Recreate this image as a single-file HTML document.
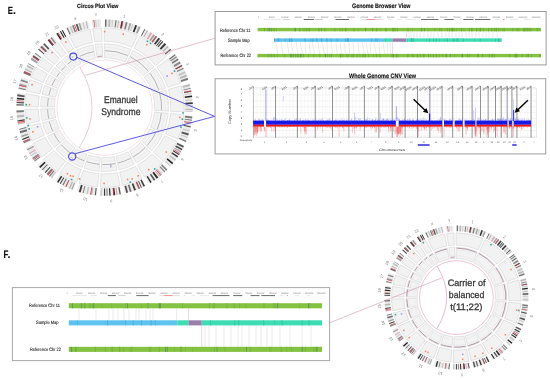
<!DOCTYPE html>
<html><head><meta charset="utf-8"><title>Figure</title><style>html,body{margin:0;padding:0;background:#fff;width:550px;height:380px;overflow:hidden}svg{display:block}</style></head><body>
<svg width="550" height="380" viewBox="0 0 550 380">
<style>text{font-family:"Liberation Sans",Arial,sans-serif;text-rendering:geometricPrecision}.cl{fill:#777;text-anchor:middle;dominant-baseline:central}.t{font-weight:bold;fill:#111;stroke:#111;stroke-width:0.15px}.lab{fill:#333;stroke:#333;stroke-width:0.26px}</style>
<defs><filter id="sb" x="-5%" y="-5%" width="110%" height="110%"><feGaussianBlur stdDeviation="0.3"/></filter></defs>
<rect width="550" height="380" fill="#fff"/>
<text transform="translate(7.75 13.65) scale(0.73 1)" class="t" style="font-size:10.5px">E</text><text x="12.9" y="13.65" class="t" style="font-size:10.5px">.</text>
<text transform="translate(3.4 257.8) scale(0.74 1)" class="t" style="font-size:10.8px">F</text><text x="7.4" y="257.8" class="t" style="font-size:10.8px">.</text>
<text x="97.8" y="8.3" class="t" style="font-size:6.1px" text-anchor="middle" textLength="41.4" lengthAdjust="spacingAndGlyphs">Circos Plot View</text>
<g filter="url(#sb)">
<path d="M104.6 19.4A88.2 88.2 0 0 1 140.65 27.11L137.63 33.86A80.8 80.8 0 0 0 104.6 26.8Z" fill="#ececec"/>
<path d="M105.02 19.4A88.2 88.2 0 0 1 106.58 19.42L106.41 26.82A80.8 80.8 0 0 0 104.98 26.8Z" fill="#6e6e6e"/>
<path d="M108.5 19.49A88.2 88.2 0 0 1 110.41 19.59L109.92 26.98A80.8 80.8 0 0 0 108.17 26.88Z" fill="#b8b8b8"/>
<path d="M111.8 19.69A88.2 88.2 0 0 1 113.3 19.83L112.57 27.19A80.8 80.8 0 0 0 111.2 27.07Z" fill="#d0d0d0"/>
<path d="M115.52 20.08A88.2 88.2 0 0 1 116.63 20.22L115.62 27.55A80.8 80.8 0 0 0 114.6 27.42Z" fill="#6e6e6e"/>
<path d="M118.24 20.46A88.2 88.2 0 0 1 119.23 20.62L118 27.92A80.8 80.8 0 0 0 117.1 27.77Z" fill="#e3a4ad"/>
<path d="M121.47 21.03A88.2 88.2 0 0 1 123.04 21.35L121.49 28.59A80.8 80.8 0 0 0 120.05 28.29Z" fill="#3a3a3a"/>
<path d="M125.87 22A88.2 88.2 0 0 1 127.49 22.42L125.57 29.57A80.8 80.8 0 0 0 124.09 29.19Z" fill="#7a7a7a"/>
<path d="M129.71 23.05A88.2 88.2 0 0 1 131.27 23.53L129.04 30.58A80.8 80.8 0 0 0 127.6 30.14Z" fill="#a0a0a0"/>
<path d="M132.38 23.89A88.2 88.2 0 0 1 133.27 24.19L130.87 31.19A80.8 80.8 0 0 0 130.05 30.91Z" fill="#c4c4c4"/>
<path d="M135.35 24.93A88.2 88.2 0 0 1 137.05 25.59L134.32 32.47A80.8 80.8 0 0 0 132.77 31.87Z" fill="#2e2e2e"/>
<path d="M138.8 26.3A88.2 88.2 0 0 1 140.54 27.06L137.53 33.81A80.8 80.8 0 0 0 135.93 33.12Z" fill="#a0a0a0"/>
<path d="M122.77 21.29A88.2 88.2 0 0 1 123.41 21.43L121.83 28.66A80.8 80.8 0 0 0 121.24 28.53Z" fill="#e0343f"/>
<path d="M144.15 28.76A88.2 88.2 0 0 1 172.35 51.12L166.66 55.86A80.8 80.8 0 0 0 140.83 35.38Z" fill="#ececec"/>
<path d="M144.44 28.91A88.2 88.2 0 0 1 145.24 29.32L141.83 35.89A80.8 80.8 0 0 0 141.1 35.51Z" fill="#555555"/>
<path d="M146.94 30.23A88.2 88.2 0 0 1 148.01 30.82L144.37 37.27A80.8 80.8 0 0 0 143.39 36.72Z" fill="#b8b8b8"/>
<path d="M150.58 32.33A88.2 88.2 0 0 1 152.18 33.34L148.19 39.57A80.8 80.8 0 0 0 146.72 38.65Z" fill="#e3a4ad"/>
<path d="M153.47 34.18A88.2 88.2 0 0 1 154.95 35.19L150.73 41.26A80.8 80.8 0 0 0 149.37 40.34Z" fill="#a0a0a0"/>
<path d="M156.26 36.11A88.2 88.2 0 0 1 157.05 36.69L152.65 42.64A80.8 80.8 0 0 0 151.93 42.11Z" fill="#6e6e6e"/>
<path d="M158.5 37.79A88.2 88.2 0 0 1 160 38.97L155.35 44.72A80.8 80.8 0 0 0 153.98 43.64Z" fill="#3a3a3a"/>
<path d="M160.9 39.71A88.2 88.2 0 0 1 161.6 40.3L156.82 45.94A80.8 80.8 0 0 0 156.18 45.41Z" fill="#2e2e2e"/>
<path d="M162.4 40.98A88.2 88.2 0 0 1 163.26 41.73L158.33 47.26A80.8 80.8 0 0 0 157.55 46.57Z" fill="#3a3a3a"/>
<path d="M164.7 43.05A88.2 88.2 0 0 1 166.19 44.47L161.03 49.77A80.8 80.8 0 0 0 159.66 48.46Z" fill="#3a3a3a"/>
<path d="M167.51 45.78A88.2 88.2 0 0 1 168.6 46.91L163.23 52A80.8 80.8 0 0 0 162.23 50.97Z" fill="#b8b8b8"/>
<path d="M170.33 48.78A88.2 88.2 0 0 1 171.13 49.7L165.55 54.55A80.8 80.8 0 0 0 164.81 53.72Z" fill="#555555"/>
<path d="M172.2 50.95A88.2 88.2 0 0 1 172.35 51.12L166.66 55.86A80.8 80.8 0 0 0 166.53 55.7Z" fill="#555555"/>
<path d="M155.77 35.76A88.2 88.2 0 0 1 156.3 36.14L151.96 42.14A80.8 80.8 0 0 0 151.48 41.79Z" fill="#e0343f"/>
<path d="M174.76 54.15A88.2 88.2 0 0 1 188.42 80.15L181.39 82.45A80.8 80.8 0 0 0 168.87 58.63Z" fill="#ececec"/>
<path d="M174.89 54.32A88.2 88.2 0 0 1 175.6 55.28L169.65 59.67A80.8 80.8 0 0 0 168.99 58.79Z" fill="#6e6e6e"/>
<path d="M176.23 56.14A88.2 88.2 0 0 1 177.06 57.32L170.98 61.54A80.8 80.8 0 0 0 170.22 60.45Z" fill="#888888"/>
<path d="M177.85 58.47A88.2 88.2 0 0 1 178.7 59.77L172.49 63.78A80.8 80.8 0 0 0 171.7 62.59Z" fill="#6e6e6e"/>
<path d="M179.78 61.49A88.2 88.2 0 0 1 180.85 63.26L174.45 66.98A80.8 80.8 0 0 0 173.48 65.36Z" fill="#888888"/>
<path d="M181.76 64.88A88.2 88.2 0 0 1 182.41 66.06L175.88 69.55A80.8 80.8 0 0 0 175.29 68.46Z" fill="#3a3a3a"/>
<path d="M183.26 67.71A88.2 88.2 0 0 1 183.78 68.74L177.13 72A80.8 80.8 0 0 0 176.66 71.06Z" fill="#7a7a7a"/>
<path d="M184.94 71.2A88.2 88.2 0 0 1 185.76 73.08L178.95 75.97A80.8 80.8 0 0 0 178.2 74.25Z" fill="#c4c4c4"/>
<path d="M186.39 74.59A88.2 88.2 0 0 1 187.1 76.4L180.18 79.02A80.8 80.8 0 0 0 179.53 77.36Z" fill="#b8b8b8"/>
<path d="M187.58 77.72A88.2 88.2 0 0 1 188.27 79.69L181.25 82.03A80.8 80.8 0 0 0 180.62 80.23Z" fill="#7a7a7a"/>
<path d="M181.96 65.24A88.2 88.2 0 0 1 182.27 65.81L175.76 69.32A80.8 80.8 0 0 0 175.47 68.79Z" fill="#e0343f"/>
<path d="M189.54 83.85A88.2 88.2 0 0 1 192.69 112.04L185.3 111.66A80.8 80.8 0 0 0 182.42 85.84Z" fill="#ececec"/>
<path d="M189.6 84.05A88.2 88.2 0 0 1 190.13 86.06L182.95 87.86A80.8 80.8 0 0 0 182.47 86.03Z" fill="#b8b8b8"/>
<path d="M190.57 87.9A88.2 88.2 0 0 1 190.77 88.79L183.54 90.36A80.8 80.8 0 0 0 183.36 89.55Z" fill="#7a7a7a"/>
<path d="M191.11 90.43A88.2 88.2 0 0 1 191.35 91.66L184.07 92.99A80.8 80.8 0 0 0 183.85 91.87Z" fill="#555555"/>
<path d="M191.55 92.82A88.2 88.2 0 0 1 191.74 93.95L184.43 95.1A80.8 80.8 0 0 0 184.26 94.06Z" fill="#d0d0d0"/>
<path d="M191.96 95.45A88.2 88.2 0 0 1 192.17 97.05L184.82 97.93A80.8 80.8 0 0 0 184.63 96.47Z" fill="#222222"/>
<path d="M192.41 99.28A88.2 88.2 0 0 1 192.5 100.32L185.12 100.94A80.8 80.8 0 0 0 185.04 99.98Z" fill="#c4c4c4"/>
<path d="M192.64 102.3A88.2 88.2 0 0 1 192.72 103.88L185.33 104.19A80.8 80.8 0 0 0 185.25 102.74Z" fill="#3a3a3a"/>
<path d="M192.77 105.27A88.2 88.2 0 0 1 192.79 106.35L185.39 106.46A80.8 80.8 0 0 0 185.37 105.47Z" fill="#c4c4c4"/>
<path d="M192.79 108.98A88.2 88.2 0 0 1 192.76 110.17L185.37 109.95A80.8 80.8 0 0 0 185.39 108.86Z" fill="#b8b8b8"/>
<path d="M192.71 111.52A88.2 88.2 0 0 1 192.69 112.04L185.3 111.66A80.8 80.8 0 0 0 185.32 111.19Z" fill="#b8b8b8"/>
<path d="M191.19 90.84A88.2 88.2 0 0 1 191.31 91.48L184.04 92.84A80.8 80.8 0 0 0 183.93 92.25Z" fill="#e0343f"/>
<path d="M192.41 115.9A88.2 88.2 0 0 1 185.84 141.93L179.03 139.05A80.8 80.8 0 0 0 185.04 115.2Z" fill="#ececec"/>
<path d="M192.34 116.61A88.2 88.2 0 0 1 192.12 118.54L184.78 117.62A80.8 80.8 0 0 0 184.98 115.85Z" fill="#7a7a7a"/>
<path d="M191.96 119.73A88.2 88.2 0 0 1 191.83 120.67L184.51 119.57A80.8 80.8 0 0 0 184.63 118.71Z" fill="#6e6e6e"/>
<path d="M191.65 121.77A88.2 88.2 0 0 1 191.3 123.78L184.03 122.43A80.8 80.8 0 0 0 184.35 120.58Z" fill="#c4c4c4"/>
<path d="M190.81 126.21A88.2 88.2 0 0 1 190.52 127.54L183.31 125.87A80.8 80.8 0 0 0 183.58 124.65Z" fill="#555555"/>
<path d="M189.88 130.1A88.2 88.2 0 0 1 189.46 131.65L182.34 129.63A80.8 80.8 0 0 0 182.73 128.21Z" fill="#d0d0d0"/>
<path d="M188.88 133.61A88.2 88.2 0 0 1 188.26 135.52L181.24 133.18A80.8 80.8 0 0 0 181.81 131.43Z" fill="#555555"/>
<path d="M187.85 136.74A88.2 88.2 0 0 1 187.35 138.12L180.41 135.56A80.8 80.8 0 0 0 180.86 134.29Z" fill="#d0d0d0"/>
<path d="M186.38 140.63A88.2 88.2 0 0 1 185.84 141.93L179.03 139.05A80.8 80.8 0 0 0 179.52 137.86Z" fill="#7a7a7a"/>
<path d="M191.49 122.72A88.2 88.2 0 0 1 191.38 123.36L184.1 122.04A80.8 80.8 0 0 0 184.2 121.45Z" fill="#e0343f"/>
<path d="M184.26 145.46A88.2 88.2 0 0 1 170.16 166.6L164.66 161.65A80.8 80.8 0 0 0 177.58 142.29Z" fill="#ececec"/>
<path d="M183.96 146.09A88.2 88.2 0 0 1 183.16 147.69L176.57 144.33A80.8 80.8 0 0 0 177.3 142.86Z" fill="#555555"/>
<path d="M182.44 149.08A88.2 88.2 0 0 1 181.76 150.33L175.28 146.74A80.8 80.8 0 0 0 175.91 145.6Z" fill="#3a3a3a"/>
<path d="M181.2 151.32A88.2 88.2 0 0 1 180.59 152.38L174.21 148.62A80.8 80.8 0 0 0 174.78 147.65Z" fill="#a0a0a0"/>
<path d="M179.47 154.22A88.2 88.2 0 0 1 178.91 155.11L172.68 151.12A80.8 80.8 0 0 0 173.19 150.31Z" fill="#222222"/>
<path d="M178.2 156.21A88.2 88.2 0 0 1 177.4 157.4L171.29 153.22A80.8 80.8 0 0 0 172.02 152.13Z" fill="#2e2e2e"/>
<path d="M176.07 159.29A88.2 88.2 0 0 1 175.04 160.67L169.13 156.22A80.8 80.8 0 0 0 170.07 154.95Z" fill="#c4c4c4"/>
<path d="M173.28 162.94A88.2 88.2 0 0 1 172.26 164.18L166.59 159.43A80.8 80.8 0 0 0 167.51 158.3Z" fill="#222222"/>
<path d="M170.99 165.67A88.2 88.2 0 0 1 170.16 166.6L164.66 161.65A80.8 80.8 0 0 0 165.42 160.8Z" fill="#d0d0d0"/>
<path d="M180.11 153.18A88.2 88.2 0 0 1 179.77 153.74L173.46 149.87A80.8 80.8 0 0 0 173.78 149.35Z" fill="#e0343f"/>
<path d="M167.51 169.42A88.2 88.2 0 0 1 148.83 183.91L145.12 177.5A80.8 80.8 0 0 0 162.23 164.23Z" fill="#ececec"/>
<path d="M167.4 169.54A88.2 88.2 0 0 1 166.22 170.7L161.05 165.41A80.8 80.8 0 0 0 162.13 164.34Z" fill="#888888"/>
<path d="M165.38 171.52A88.2 88.2 0 0 1 164.46 172.38L159.43 166.95A80.8 80.8 0 0 0 160.28 166.15Z" fill="#888888"/>
<path d="M162.23 174.36A88.2 88.2 0 0 1 161.49 175L156.71 169.35A80.8 80.8 0 0 0 157.4 168.76Z" fill="#b8b8b8"/>
<path d="M160.13 176.12A88.2 88.2 0 0 1 159.39 176.71L154.8 170.92A80.8 80.8 0 0 0 155.47 170.37Z" fill="#e3a4ad"/>
<path d="M158.37 177.51A88.2 88.2 0 0 1 156.74 178.74L152.37 172.77A80.8 80.8 0 0 0 153.86 171.65Z" fill="#2e2e2e"/>
<path d="M155.34 179.74A88.2 88.2 0 0 1 153.93 180.71L149.79 174.58A80.8 80.8 0 0 0 151.08 173.69Z" fill="#555555"/>
<path d="M151.64 182.21A88.2 88.2 0 0 1 150.46 182.94L146.61 176.62A80.8 80.8 0 0 0 147.7 175.95Z" fill="#222222"/>
<path d="M161.19 175.25A88.2 88.2 0 0 1 160.69 175.67L155.98 169.96A80.8 80.8 0 0 0 156.44 169.57Z" fill="#e0343f"/>
<path d="M145.44 185.77A88.2 88.2 0 0 1 125.06 193.39L123.34 186.2A80.8 80.8 0 0 0 142.01 179.22Z" fill="#ececec"/>
<path d="M145.01 186A88.2 88.2 0 0 1 143.54 186.74L140.27 180.1A80.8 80.8 0 0 0 141.62 179.42Z" fill="#3a3a3a"/>
<path d="M141.94 187.51A88.2 88.2 0 0 1 141.11 187.89L138.05 181.15A80.8 80.8 0 0 0 138.81 180.8Z" fill="#555555"/>
<path d="M140.02 188.38A88.2 88.2 0 0 1 138.5 189.03L135.65 182.19A80.8 80.8 0 0 0 137.05 181.6Z" fill="#7a7a7a"/>
<path d="M135.94 190.04A88.2 88.2 0 0 1 134.29 190.65L131.8 183.68A80.8 80.8 0 0 0 133.31 183.13Z" fill="#3a3a3a"/>
<path d="M131.59 191.57A88.2 88.2 0 0 1 129.95 192.08L127.82 184.99A80.8 80.8 0 0 0 129.33 184.52Z" fill="#6e6e6e"/>
<path d="M128.12 192.61A88.2 88.2 0 0 1 126.29 193.09L124.47 185.92A80.8 80.8 0 0 0 126.15 185.47Z" fill="#555555"/>
<path d="M139.6 188.56A88.2 88.2 0 0 1 139 188.81L136.12 182A80.8 80.8 0 0 0 136.67 181.76Z" fill="#e0343f"/>
<path d="M121.28 194.21A88.2 88.2 0 0 1 100.34 195.7L100.7 188.31A80.8 80.8 0 0 0 119.88 186.94Z" fill="#ececec"/>
<path d="M120.83 194.29A88.2 88.2 0 0 1 119.58 194.52L118.33 187.23A80.8 80.8 0 0 0 119.47 187.02Z" fill="#555555"/>
<path d="M117.63 194.83A88.2 88.2 0 0 1 116.48 195L115.48 187.66A80.8 80.8 0 0 0 116.54 187.51Z" fill="#e3a4ad"/>
<path d="M115.23 195.16A88.2 88.2 0 0 1 113.41 195.36L112.67 188A80.8 80.8 0 0 0 114.33 187.81Z" fill="#2e2e2e"/>
<path d="M110.6 195.6A88.2 88.2 0 0 1 109.4 195.67L109 188.28A80.8 80.8 0 0 0 110.09 188.21Z" fill="#222222"/>
<path d="M107.65 195.75A88.2 88.2 0 0 1 106.58 195.78L106.42 188.38A80.8 80.8 0 0 0 107.39 188.35Z" fill="#7a7a7a"/>
<path d="M105.15 195.8A88.2 88.2 0 0 1 104.05 195.8L104.1 188.4A80.8 80.8 0 0 0 105.1 188.4Z" fill="#2e2e2e"/>
<path d="M101.73 195.75A88.2 88.2 0 0 1 100.34 195.7L100.7 188.31A80.8 80.8 0 0 0 101.97 188.36Z" fill="#c4c4c4"/>
<path d="M114.38 195.26A88.2 88.2 0 0 1 113.73 195.33L112.96 187.97A80.8 80.8 0 0 0 113.56 187.9Z" fill="#e0343f"/>
<path d="M96.48 195.43A88.2 88.2 0 0 1 76.76 191.29L79.09 184.27A80.8 80.8 0 0 0 97.16 188.06Z" fill="#ececec"/>
<path d="M95.93 195.37A88.2 88.2 0 0 1 94.81 195.25L95.63 187.9A80.8 80.8 0 0 0 96.66 188.01Z" fill="#555555"/>
<path d="M92.23 194.93A88.2 88.2 0 0 1 90.46 194.66L91.64 187.35A80.8 80.8 0 0 0 93.27 187.6Z" fill="#b8b8b8"/>
<path d="M87.75 194.18A88.2 88.2 0 0 1 86.43 193.91L87.95 186.67A80.8 80.8 0 0 0 89.16 186.91Z" fill="#c4c4c4"/>
<path d="M83.67 193.28A88.2 88.2 0 0 1 82.56 193L84.41 185.84A80.8 80.8 0 0 0 85.43 186.09Z" fill="#888888"/>
<path d="M80.62 192.48A88.2 88.2 0 0 1 78.81 191.94L80.97 184.87A80.8 80.8 0 0 0 82.64 185.36Z" fill="#3a3a3a"/>
<path d="M90.86 194.72A88.2 88.2 0 0 1 90.21 194.62L91.42 187.32A80.8 80.8 0 0 0 92.01 187.41Z" fill="#e0343f"/>
<path d="M73.11 189.99A88.2 88.2 0 0 1 55.3 180.74L59.44 174.6A80.8 80.8 0 0 0 75.76 183.08Z" fill="#ececec"/>
<path d="M72.45 189.73A88.2 88.2 0 0 1 71.31 189.28L74.1 182.42A80.8 80.8 0 0 0 75.14 182.84Z" fill="#a0a0a0"/>
<path d="M70.14 188.79A88.2 88.2 0 0 1 68.81 188.21L71.81 181.45A80.8 80.8 0 0 0 73.04 181.98Z" fill="#b8b8b8"/>
<path d="M66.4 187.1A88.2 88.2 0 0 1 65.19 186.51L68.5 179.88A80.8 80.8 0 0 0 69.61 180.43Z" fill="#a0a0a0"/>
<path d="M63.41 185.59A88.2 88.2 0 0 1 62.29 184.99L65.84 178.5A80.8 80.8 0 0 0 66.87 179.05Z" fill="#7a7a7a"/>
<path d="M60.62 184.05A88.2 88.2 0 0 1 59.77 183.56L63.53 177.18A80.8 80.8 0 0 0 64.31 177.64Z" fill="#3a3a3a"/>
<path d="M58.41 182.74A88.2 88.2 0 0 1 57.04 181.88L61.03 175.65A80.8 80.8 0 0 0 62.29 176.44Z" fill="#2e2e2e"/>
<path d="M66.07 186.94A88.2 88.2 0 0 1 65.48 186.65L68.77 180.02A80.8 80.8 0 0 0 69.31 180.28Z" fill="#e0343f"/>
<path d="M52.14 178.5A88.2 88.2 0 0 1 37.58 164.93L43.2 160.12A80.8 80.8 0 0 0 56.54 172.55Z" fill="#ececec"/>
<path d="M51.75 178.21A88.2 88.2 0 0 1 50.74 177.45L55.26 171.59A80.8 80.8 0 0 0 56.18 172.29Z" fill="#c4c4c4"/>
<path d="M49.89 176.78A88.2 88.2 0 0 1 49.07 176.12L53.72 170.37A80.8 80.8 0 0 0 54.48 170.98Z" fill="#6e6e6e"/>
<path d="M47.98 175.22A88.2 88.2 0 0 1 46.6 174.05L51.47 168.47A80.8 80.8 0 0 0 52.73 169.55Z" fill="#7a7a7a"/>
<path d="M45.48 173.05A88.2 88.2 0 0 1 44.69 172.33L49.72 166.9A80.8 80.8 0 0 0 50.44 167.56Z" fill="#3a3a3a"/>
<path d="M42.56 170.29A88.2 88.2 0 0 1 41.83 169.56L47.1 164.37A80.8 80.8 0 0 0 47.77 165.03Z" fill="#6e6e6e"/>
<path d="M40.26 167.93A88.2 88.2 0 0 1 39.13 166.7L44.62 161.74A80.8 80.8 0 0 0 45.66 162.87Z" fill="#222222"/>
<path d="M48.2 175.41A88.2 88.2 0 0 1 47.7 174.99L52.47 169.34A80.8 80.8 0 0 0 52.93 169.72Z" fill="#e0343f"/>
<path d="M35.13 161.94A88.2 88.2 0 0 1 25.93 147.48L32.53 144.13A80.8 80.8 0 0 0 40.96 157.38Z" fill="#ececec"/>
<path d="M34.78 161.5A88.2 88.2 0 0 1 34.1 160.6L40.01 156.15A80.8 80.8 0 0 0 40.64 156.98Z" fill="#888888"/>
<path d="M33.18 159.36A88.2 88.2 0 0 1 32.17 157.94L38.25 153.71A80.8 80.8 0 0 0 39.18 155.02Z" fill="#888888"/>
<path d="M31.01 156.22A88.2 88.2 0 0 1 30.5 155.43L36.71 151.42A80.8 80.8 0 0 0 37.18 152.14Z" fill="#c4c4c4"/>
<path d="M29.66 154.1A88.2 88.2 0 0 1 28.98 152.99L35.32 149.18A80.8 80.8 0 0 0 35.94 150.2Z" fill="#e3a4ad"/>
<path d="M27.54 150.5A88.2 88.2 0 0 1 26.82 149.19L33.35 145.7A80.8 80.8 0 0 0 34 146.9Z" fill="#a0a0a0"/>
<path d="M25.99 147.59A88.2 88.2 0 0 1 25.93 147.48L32.53 144.13A80.8 80.8 0 0 0 32.58 144.23Z" fill="#c4c4c4"/>
<path d="M33.71 160.08A88.2 88.2 0 0 1 33.32 159.55L39.3 155.19A80.8 80.8 0 0 0 39.66 155.67Z" fill="#e0343f"/>
<path d="M24.26 143.99A88.2 88.2 0 0 1 19.01 128.9L26.19 127.11A80.8 80.8 0 0 0 31 140.93Z" fill="#ececec"/>
<path d="M23.97 143.34A88.2 88.2 0 0 1 23.27 141.73L30.1 138.87A80.8 80.8 0 0 0 30.73 140.34Z" fill="#888888"/>
<path d="M22.55 139.96A88.2 88.2 0 0 1 22.14 138.9L29.06 136.28A80.8 80.8 0 0 0 29.43 137.24Z" fill="#222222"/>
<path d="M21.53 137.24A88.2 88.2 0 0 1 21.01 135.75L28.03 133.39A80.8 80.8 0 0 0 28.5 134.75Z" fill="#a0a0a0"/>
<path d="M20.22 133.29A88.2 88.2 0 0 1 19.66 131.35L26.79 129.36A80.8 80.8 0 0 0 27.3 131.14Z" fill="#6e6e6e"/>
<path d="M19.22 129.74A88.2 88.2 0 0 1 19.01 128.9L26.19 127.11A80.8 80.8 0 0 0 26.39 127.88Z" fill="#6e6e6e"/>
<path d="M23.34 141.88A88.2 88.2 0 0 1 23.08 141.28L29.92 138.45A80.8 80.8 0 0 0 30.15 139.01Z" fill="#e0343f"/>
<path d="M18.16 125.12A88.2 88.2 0 0 1 16.43 109.96L23.83 109.77A80.8 80.8 0 0 0 25.41 123.65Z" fill="#ececec"/>
<path d="M18.03 124.5A88.2 88.2 0 0 1 17.73 122.87L25.02 121.59A80.8 80.8 0 0 0 25.3 123.08Z" fill="#e3a4ad"/>
<path d="M17.52 121.6A88.2 88.2 0 0 1 17.34 120.43L24.66 119.36A80.8 80.8 0 0 0 24.82 120.43Z" fill="#3a3a3a"/>
<path d="M16.96 117.51A88.2 88.2 0 0 1 16.75 115.47L24.12 114.81A80.8 80.8 0 0 0 24.31 116.68Z" fill="#b8b8b8"/>
<path d="M16.54 112.54A88.2 88.2 0 0 1 16.45 110.54L23.84 110.29A80.8 80.8 0 0 0 23.93 112.12Z" fill="#7a7a7a"/>
<path d="M17.7 122.66A88.2 88.2 0 0 1 17.59 122.01L24.89 120.81A80.8 80.8 0 0 0 24.99 121.4Z" fill="#e0343f"/>
<path d="M16.41 106.09A88.2 88.2 0 0 1 17.67 92.7L24.96 93.95A80.8 80.8 0 0 0 23.81 106.22Z" fill="#ececec"/>
<path d="M16.43 105.44A88.2 88.2 0 0 1 16.47 104.13L23.86 104.42A80.8 80.8 0 0 0 23.82 105.62Z" fill="#555555"/>
<path d="M16.52 103.01A88.2 88.2 0 0 1 16.6 101.71L23.98 102.21A80.8 80.8 0 0 0 23.91 103.4Z" fill="#555555"/>
<path d="M16.8 99.19A88.2 88.2 0 0 1 16.95 97.72L24.31 98.55A80.8 80.8 0 0 0 24.17 99.9Z" fill="#222222"/>
<path d="M17.13 96.27A88.2 88.2 0 0 1 17.4 94.36L24.72 95.47A80.8 80.8 0 0 0 24.47 97.22Z" fill="#555555"/>
<path d="M16.65 100.97A88.2 88.2 0 0 1 16.7 100.32L24.08 100.93A80.8 80.8 0 0 0 24.03 101.53Z" fill="#e0343f"/>
<path d="M18.4 88.9A88.2 88.2 0 0 1 21.77 77.29L28.72 79.83A80.8 80.8 0 0 0 25.64 90.47Z" fill="#ececec"/>
<path d="M18.46 88.66A88.2 88.2 0 0 1 18.75 87.4L25.95 89.09A80.8 80.8 0 0 0 25.69 90.25Z" fill="#888888"/>
<path d="M19.21 85.5A88.2 88.2 0 0 1 19.76 83.48L26.88 85.51A80.8 80.8 0 0 0 26.38 87.35Z" fill="#a0a0a0"/>
<path d="M20.53 80.93A88.2 88.2 0 0 1 21.06 79.3L28.07 81.67A80.8 80.8 0 0 0 27.58 83.17Z" fill="#888888"/>
<path d="M19.15 85.74A88.2 88.2 0 0 1 19.32 85.11L26.47 86.99A80.8 80.8 0 0 0 26.32 87.58Z" fill="#e0343f"/>
<path d="M23.18 73.69A88.2 88.2 0 0 1 28.35 63.27L34.75 66.99A80.8 80.8 0 0 0 30.01 76.53Z" fill="#ececec"/>
<path d="M23.4 73.17A88.2 88.2 0 0 1 24.12 71.52L30.87 74.55A80.8 80.8 0 0 0 30.21 76.06Z" fill="#6e6e6e"/>
<path d="M24.98 69.65A88.2 88.2 0 0 1 25.52 68.53L32.16 71.81A80.8 80.8 0 0 0 31.66 72.83Z" fill="#b8b8b8"/>
<path d="M26.56 66.5A88.2 88.2 0 0 1 27.28 65.17L33.77 68.73A80.8 80.8 0 0 0 33.11 69.95Z" fill="#b8b8b8"/>
<path d="M28.03 63.82A88.2 88.2 0 0 1 28.35 63.27L34.75 66.99A80.8 80.8 0 0 0 34.46 67.5Z" fill="#7a7a7a"/>
<path d="M24.07 71.63A88.2 88.2 0 0 1 24.34 71.04L31.07 74.1A80.8 80.8 0 0 0 30.82 74.65Z" fill="#e0343f"/>
<path d="M30.37 59.97A88.2 88.2 0 0 1 35.49 52.8L41.29 57.4A80.8 80.8 0 0 0 36.6 63.96Z" fill="#ececec"/>
<path d="M30.73 59.42A88.2 88.2 0 0 1 31.86 57.71L37.97 61.9A80.8 80.8 0 0 0 36.92 63.46Z" fill="#a0a0a0"/>
<path d="M32.76 56.42A88.2 88.2 0 0 1 33.64 55.22L39.59 59.61A80.8 80.8 0 0 0 38.79 60.72Z" fill="#555555"/>
<path d="M34.89 53.56A88.2 88.2 0 0 1 35.49 52.8L41.29 57.4A80.8 80.8 0 0 0 40.74 58.09Z" fill="#7a7a7a"/>
<path d="M32.39 56.96A88.2 88.2 0 0 1 32.76 56.42L38.79 60.72A80.8 80.8 0 0 0 38.45 61.21Z" fill="#e0343f"/>
<path d="M37.96 49.82A88.2 88.2 0 0 1 44.47 43.07L49.52 48.49A80.8 80.8 0 0 0 43.55 54.67Z" fill="#ececec"/>
<path d="M38.27 49.47A88.2 88.2 0 0 1 38.89 48.76L44.41 53.7A80.8 80.8 0 0 0 43.83 54.35Z" fill="#3a3a3a"/>
<path d="M40.31 47.22A88.2 88.2 0 0 1 41.75 45.72L47.02 50.91A80.8 80.8 0 0 0 45.71 52.28Z" fill="#6e6e6e"/>
<path d="M43.16 44.32A88.2 88.2 0 0 1 44.41 43.13L49.46 48.54A80.8 80.8 0 0 0 48.32 49.63Z" fill="#555555"/>
<path d="M40.49 47.03A88.2 88.2 0 0 1 40.94 46.55L46.28 51.68A80.8 80.8 0 0 0 45.87 52.11Z" fill="#e0343f"/>
<path d="M47.36 40.5A88.2 88.2 0 0 1 53 36.07L57.33 42.07A80.8 80.8 0 0 0 52.16 46.13Z" fill="#ececec"/>
<path d="M47.68 40.22A88.2 88.2 0 0 1 49.22 38.95L53.87 44.71A80.8 80.8 0 0 0 52.46 45.88Z" fill="#3a3a3a"/>
<path d="M50.45 37.98A88.2 88.2 0 0 1 51.6 37.1L56.05 43.01A80.8 80.8 0 0 0 54.99 43.82Z" fill="#888888"/>
<path d="M52.97 36.09A88.2 88.2 0 0 1 53 36.07L57.33 42.07A80.8 80.8 0 0 0 57.31 42.09Z" fill="#888888"/>
<path d="M48.62 39.44A88.2 88.2 0 0 1 49.13 39.03L53.78 44.78A80.8 80.8 0 0 0 53.32 45.16Z" fill="#e0343f"/>
<path d="M56.19 33.88A88.2 88.2 0 0 1 62.75 29.96L66.26 36.48A80.8 80.8 0 0 0 60.25 40.06Z" fill="#ececec"/>
<path d="M56.36 33.76A88.2 88.2 0 0 1 57.54 33.01L61.49 39.26A80.8 80.8 0 0 0 60.41 39.95Z" fill="#222222"/>
<path d="M59.96 31.53A88.2 88.2 0 0 1 60.87 31.01L64.54 37.43A80.8 80.8 0 0 0 63.71 37.91Z" fill="#222222"/>
<path d="M61.84 30.46A88.2 88.2 0 0 1 62.75 29.96L66.26 36.48A80.8 80.8 0 0 0 65.42 36.93Z" fill="#222222"/>
<path d="M57.75 32.87A88.2 88.2 0 0 1 58.31 32.52L62.19 38.82A80.8 80.8 0 0 0 61.68 39.14Z" fill="#e0343f"/>
<path d="M66.2 28.2A88.2 88.2 0 0 1 88.1 20.96L89.49 28.23A80.8 80.8 0 0 0 69.42 34.86Z" fill="#ececec"/>
<path d="M66.5 28.05A88.2 88.2 0 0 1 67.7 27.49L70.79 34.21A80.8 80.8 0 0 0 69.7 34.73Z" fill="#7a7a7a"/>
<path d="M69.53 26.67A88.2 88.2 0 0 1 70.9 26.09L73.73 32.93A80.8 80.8 0 0 0 72.47 33.46Z" fill="#c4c4c4"/>
<path d="M72.09 25.61A88.2 88.2 0 0 1 73.49 25.07L76.1 31.99A80.8 80.8 0 0 0 74.82 32.49Z" fill="#7a7a7a"/>
<path d="M75.78 24.24A88.2 88.2 0 0 1 77.42 23.69L79.7 30.73A80.8 80.8 0 0 0 78.2 31.24Z" fill="#555555"/>
<path d="M78.46 23.36A88.2 88.2 0 0 1 80.04 22.89L82.1 30A80.8 80.8 0 0 0 80.65 30.43Z" fill="#a0a0a0"/>
<path d="M82.19 22.29A88.2 88.2 0 0 1 83.68 21.92L85.44 29.11A80.8 80.8 0 0 0 84.07 29.45Z" fill="#d0d0d0"/>
<path d="M85.7 21.45A88.2 88.2 0 0 1 86.83 21.21L88.32 28.46A80.8 80.8 0 0 0 87.29 28.68Z" fill="#b8b8b8"/>
<path d="M74.2 24.8A88.2 88.2 0 0 1 74.82 24.58L77.32 31.54A80.8 80.8 0 0 0 76.75 31.75Z" fill="#e0343f"/>
<path d="M91.92 20.32A88.2 88.2 0 0 1 100.73 19.48L101.05 26.88A80.8 80.8 0 0 0 92.99 27.64Z" fill="#ececec"/>
<path d="M92.22 20.27A88.2 88.2 0 0 1 92.81 20.19L93.8 27.53A80.8 80.8 0 0 0 93.26 27.6Z" fill="#d8d8d8"/>
<path d="M93.99 20.04A88.2 88.2 0 0 1 94.58 19.97L95.42 27.32A80.8 80.8 0 0 0 94.88 27.39Z" fill="#cfcfcf"/>
<path d="M95.17 19.91A88.2 88.2 0 0 1 96.06 19.81L96.78 27.18A80.8 80.8 0 0 0 95.96 27.26Z" fill="#c8c8c8"/>
<path d="M97.84 19.66A88.2 88.2 0 0 1 98.59 19.61L99.09 26.99A80.8 80.8 0 0 0 98.41 27.04Z" fill="#dadada"/>
<path d="M93.44 20.11A88.2 88.2 0 0 1 94.09 20.03L94.97 27.38A80.8 80.8 0 0 0 94.38 27.45Z" fill="#e0343f"/>
</g>
<path d="M104.18 27.8A79.8 79.8 0 0 1 137.6 34.94L132.02 47.23A66.3 66.3 0 0 0 104.25 41.3Z" fill="#f2f2f2" stroke="#cbcbcb" stroke-width="0.5"/>
<path d="M104.27 43.7A63.9 63.9 0 0 1 131.03 49.42L125.32 61.98A50.1 50.1 0 0 0 104.34 57.5Z" fill="#f3f3f3" stroke="#cdcdcd" stroke-width="0.5"/>
<path d="M104.6 54.05A53.55 53.55 0 0 1 126.49 58.73" fill="none" stroke="#e0e0e0" stroke-width="0.4"/>
<path d="M104.6 47.15A60.45 60.45 0 0 1 129.31 52.43" fill="none" stroke="#e0e0e0" stroke-width="0.4"/>
<path d="M140.01 36.09A79.8 79.8 0 0 1 166.16 56.82L155.75 65.41A66.3 66.3 0 0 0 134.02 48.18Z" fill="#f2f2f2" stroke="#cbcbcb" stroke-width="0.5"/>
<path d="M132.95 50.34A63.9 63.9 0 0 1 153.9 66.94L143.25 75.72A50.1 50.1 0 0 0 126.83 62.7Z" fill="#f3f3f3" stroke="#cdcdcd" stroke-width="0.5"/>
<path d="M128.61 59.74A53.55 53.55 0 0 1 145.73 73.31" fill="none" stroke="#e0e0e0" stroke-width="0.4"/>
<path d="M131.71 53.57A60.45 60.45 0 0 1 151.03 68.89" fill="none" stroke="#e0e0e0" stroke-width="0.4"/>
<path d="M167.82 58.91A79.8 79.8 0 0 1 180.56 83.16L167.71 87.29A66.3 66.3 0 0 0 157.13 67.15Z" fill="#f2f2f2" stroke="#cbcbcb" stroke-width="0.5"/>
<path d="M155.23 68.61A63.9 63.9 0 0 1 165.43 88.03L152.29 92.26A50.1 50.1 0 0 0 144.29 77.03Z" fill="#f3f3f3" stroke="#cdcdcd" stroke-width="0.5"/>
<path d="M147.2 75.15A53.55 53.55 0 0 1 155.49 90.93" fill="none" stroke="#e0e0e0" stroke-width="0.4"/>
<path d="M152.69 70.97A60.45 60.45 0 0 1 162.05 88.78" fill="none" stroke="#e0e0e0" stroke-width="0.4"/>
<path d="M181.34 85.71A79.8 79.8 0 0 1 184.28 112.03L170.8 111.28A66.3 66.3 0 0 0 168.36 89.41Z" fill="#f2f2f2" stroke="#cbcbcb" stroke-width="0.5"/>
<path d="M166.05 90.07A63.9 63.9 0 0 1 168.4 111.15L154.62 110.38A50.1 50.1 0 0 0 152.78 93.86Z" fill="#f3f3f3" stroke="#cdcdcd" stroke-width="0.5"/>
<path d="M156.17 93.18A53.55 53.55 0 0 1 158.08 110.29" fill="none" stroke="#e0e0e0" stroke-width="0.4"/>
<path d="M162.82 91.32A60.45 60.45 0 0 1 164.97 110.64" fill="none" stroke="#e0e0e0" stroke-width="0.4"/>
<path d="M184.08 114.69A79.8 79.8 0 0 1 177.94 139.05L165.53 133.73A66.3 66.3 0 0 0 170.64 113.49Z" fill="#f2f2f2" stroke="#cbcbcb" stroke-width="0.5"/>
<path d="M168.25 113.28A63.9 63.9 0 0 1 163.33 132.78L150.65 127.34A50.1 50.1 0 0 0 154.5 112.05Z" fill="#f3f3f3" stroke="#cdcdcd" stroke-width="0.5"/>
<path d="M157.91 112.64A53.55 53.55 0 0 1 153.93 128.44" fill="none" stroke="#e0e0e0" stroke-width="0.4"/>
<path d="M164.78 113.29A60.45 60.45 0 0 1 160.28 131.13" fill="none" stroke="#e0e0e0" stroke-width="0.4"/>
<path d="M176.85 141.48A79.8 79.8 0 0 1 163.64 161.29L153.65 152.21A66.3 66.3 0 0 0 164.63 135.75Z" fill="#f2f2f2" stroke="#cbcbcb" stroke-width="0.5"/>
<path d="M162.45 134.73A63.9 63.9 0 0 1 151.87 150.59L141.66 141.31A50.1 50.1 0 0 0 149.96 128.87Z" fill="#f3f3f3" stroke="#cdcdcd" stroke-width="0.5"/>
<path d="M152.96 130.59A53.55 53.55 0 0 1 144.4 143.42" fill="none" stroke="#e0e0e0" stroke-width="0.4"/>
<path d="M159.2 133.55A60.45 60.45 0 0 1 149.53 148.04" fill="none" stroke="#e0e0e0" stroke-width="0.4"/>
<path d="M161.81 163.23A79.8 79.8 0 0 1 144.26 176.85L137.55 165.13A66.3 66.3 0 0 0 152.13 153.82Z" fill="#f2f2f2" stroke="#cbcbcb" stroke-width="0.5"/>
<path d="M150.41 152.15A63.9 63.9 0 0 1 136.36 163.05L129.5 151.08A50.1 50.1 0 0 0 140.52 142.53Z" fill="#f3f3f3" stroke="#cdcdcd" stroke-width="0.5"/>
<path d="M142.79 145.13A53.55 53.55 0 0 1 131.46 153.93" fill="none" stroke="#e0e0e0" stroke-width="0.4"/>
<path d="M147.72 149.97A60.45 60.45 0 0 1 134.92 159.9" fill="none" stroke="#e0e0e0" stroke-width="0.4"/>
<path d="M141.92 178.13A79.8 79.8 0 0 1 122.7 185.32L119.64 172.17A66.3 66.3 0 0 0 135.61 166.2Z" fill="#f2f2f2" stroke="#cbcbcb" stroke-width="0.5"/>
<path d="M134.49 164.08A63.9 63.9 0 0 1 119.1 169.83L115.97 156.39A50.1 50.1 0 0 0 128.03 151.88Z" fill="#f3f3f3" stroke="#cdcdcd" stroke-width="0.5"/>
<path d="M129.4 155.06A53.55 53.55 0 0 1 117.02 159.69" fill="none" stroke="#e0e0e0" stroke-width="0.4"/>
<path d="M132.59 161.18A60.45 60.45 0 0 1 118.62 166.4" fill="none" stroke="#e0e0e0" stroke-width="0.4"/>
<path d="M120.1 185.88A79.8 79.8 0 0 1 100.33 187.29L101.05 173.8A66.3 66.3 0 0 0 117.48 172.64Z" fill="#f2f2f2" stroke="#cbcbcb" stroke-width="0.5"/>
<path d="M117.01 170.28A63.9 63.9 0 0 1 101.18 171.41L101.92 157.63A50.1 50.1 0 0 0 114.33 156.75Z" fill="#f3f3f3" stroke="#cdcdcd" stroke-width="0.5"/>
<path d="M114.72 160.18A53.55 53.55 0 0 1 102.01 161.09" fill="none" stroke="#e0e0e0" stroke-width="0.4"/>
<path d="M116.03 166.96A60.45 60.45 0 0 1 101.68 167.98" fill="none" stroke="#e0e0e0" stroke-width="0.4"/>
<path d="M97.67 187.1A79.8 79.8 0 0 1 79.01 183.19L83.34 170.4A66.3 66.3 0 0 0 98.84 173.65Z" fill="#f2f2f2" stroke="#cbcbcb" stroke-width="0.5"/>
<path d="M99.05 171.26A63.9 63.9 0 0 1 84.11 168.13L88.54 155.05A50.1 50.1 0 0 0 100.25 157.51Z" fill="#f3f3f3" stroke="#cdcdcd" stroke-width="0.5"/>
<path d="M99.67 160.92A53.55 53.55 0 0 1 87.7 158.41" fill="none" stroke="#e0e0e0" stroke-width="0.4"/>
<path d="M99.03 167.79A60.45 60.45 0 0 1 85.52 164.96" fill="none" stroke="#e0e0e0" stroke-width="0.4"/>
<path d="M76.5 182.29A79.8 79.8 0 0 1 59.65 173.54L67.25 162.38A66.3 66.3 0 0 0 81.26 169.65Z" fill="#f2f2f2" stroke="#cbcbcb" stroke-width="0.5"/>
<path d="M82.1 167.41A63.9 63.9 0 0 1 68.61 160.4L76.38 149A50.1 50.1 0 0 0 86.96 154.49Z" fill="#f3f3f3" stroke="#cdcdcd" stroke-width="0.5"/>
<path d="M85.48 157.62A53.55 53.55 0 0 1 74.67 152" fill="none" stroke="#e0e0e0" stroke-width="0.4"/>
<path d="M83.02 164.07A60.45 60.45 0 0 1 70.81 157.73" fill="none" stroke="#e0e0e0" stroke-width="0.4"/>
<path d="M57.47 172A79.8 79.8 0 0 1 43.69 159.16L53.99 150.43A66.3 66.3 0 0 0 65.44 161.1Z" fill="#f2f2f2" stroke="#cbcbcb" stroke-width="0.5"/>
<path d="M66.86 159.17A63.9 63.9 0 0 1 55.83 148.88L66.36 139.97A50.1 50.1 0 0 0 75.01 148.03Z" fill="#f3f3f3" stroke="#cdcdcd" stroke-width="0.5"/>
<path d="M72.75 150.65A53.55 53.55 0 0 1 63.91 142.41" fill="none" stroke="#e0e0e0" stroke-width="0.4"/>
<path d="M68.64 156.19A60.45 60.45 0 0 1 58.66 146.9" fill="none" stroke="#e0e0e0" stroke-width="0.4"/>
<path d="M42 157.09A79.8 79.8 0 0 1 33.23 143.31L45.31 137.26A66.3 66.3 0 0 0 52.59 148.72Z" fill="#f2f2f2" stroke="#cbcbcb" stroke-width="0.5"/>
<path d="M54.47 147.23A63.9 63.9 0 0 1 47.45 136.19L59.79 130.02A50.1 50.1 0 0 0 65.3 138.67Z" fill="#f3f3f3" stroke="#cdcdcd" stroke-width="0.5"/>
<path d="M62.42 140.59A53.55 53.55 0 0 1 56.84 131.81" fill="none" stroke="#e0e0e0" stroke-width="0.4"/>
<path d="M56.98 144.84A60.45 60.45 0 0 1 50.68 134.93" fill="none" stroke="#e0e0e0" stroke-width="0.4"/>
<path d="M32.08 140.9A79.8 79.8 0 0 1 27.06 126.46L40.18 123.27A66.3 66.3 0 0 0 44.35 135.27Z" fill="#f2f2f2" stroke="#cbcbcb" stroke-width="0.5"/>
<path d="M46.53 134.27A63.9 63.9 0 0 1 42.51 122.7L55.92 119.44A50.1 50.1 0 0 0 59.07 128.51Z" fill="#f3f3f3" stroke="#cdcdcd" stroke-width="0.5"/>
<path d="M55.82 129.69A53.55 53.55 0 0 1 52.63 120.53" fill="none" stroke="#e0e0e0" stroke-width="0.4"/>
<path d="M49.53 132.54A60.45 60.45 0 0 1 45.94 122.2" fill="none" stroke="#e0e0e0" stroke-width="0.4"/>
<path d="M26.47 123.86A79.8 79.8 0 0 1 24.82 109.32L38.32 109.03A66.3 66.3 0 0 0 39.69 121.11Z" fill="#f2f2f2" stroke="#cbcbcb" stroke-width="0.5"/>
<path d="M42.04 120.62A63.9 63.9 0 0 1 40.71 108.98L54.51 108.68A50.1 50.1 0 0 0 55.55 117.81Z" fill="#f3f3f3" stroke="#cdcdcd" stroke-width="0.5"/>
<path d="M52.12 118.24A53.55 53.55 0 0 1 51.07 109.04" fill="none" stroke="#e0e0e0" stroke-width="0.4"/>
<path d="M45.35 119.61A60.45 60.45 0 0 1 44.17 109.22" fill="none" stroke="#e0e0e0" stroke-width="0.4"/>
<path d="M24.81 106.66A79.8 79.8 0 0 1 26.02 93.71L39.31 96.06A66.3 66.3 0 0 0 38.3 106.82Z" fill="#f2f2f2" stroke="#cbcbcb" stroke-width="0.5"/>
<path d="M40.7 106.84A63.9 63.9 0 0 1 41.68 96.48L55.26 98.88A50.1 50.1 0 0 0 54.5 107.01Z" fill="#f3f3f3" stroke="#cdcdcd" stroke-width="0.5"/>
<path d="M51.06 106.69A53.55 53.55 0 0 1 51.82 98.56" fill="none" stroke="#e0e0e0" stroke-width="0.4"/>
<path d="M44.16 106.57A60.45 60.45 0 0 1 45.02 97.39" fill="none" stroke="#e0e0e0" stroke-width="0.4"/>
<path d="M26.53 91.09A79.8 79.8 0 0 1 29.8 79.79L42.46 84.49A66.3 66.3 0 0 0 39.73 93.88Z" fill="#f2f2f2" stroke="#cbcbcb" stroke-width="0.5"/>
<path d="M42.08 94.38A63.9 63.9 0 0 1 44.71 85.33L57.64 90.14A50.1 50.1 0 0 0 55.58 97.24Z" fill="#f3f3f3" stroke="#cdcdcd" stroke-width="0.5"/>
<path d="M52.27 96.25A53.55 53.55 0 0 1 54.31 89.2" fill="none" stroke="#e0e0e0" stroke-width="0.4"/>
<path d="M45.52 94.79A60.45 60.45 0 0 1 47.83 86.83" fill="none" stroke="#e0e0e0" stroke-width="0.4"/>
<path d="M30.78 77.3A79.8 79.8 0 0 1 35.82 67.13L47.46 73.98A66.3 66.3 0 0 0 43.26 82.43Z" fill="#f2f2f2" stroke="#cbcbcb" stroke-width="0.5"/>
<path d="M45.48 83.34A63.9 63.9 0 0 1 49.53 75.19L61.42 82.19A50.1 50.1 0 0 0 58.25 88.58Z" fill="#f3f3f3" stroke="#cdcdcd" stroke-width="0.5"/>
<path d="M55.17 87.01A53.55 53.55 0 0 1 58.31 80.68" fill="none" stroke="#e0e0e0" stroke-width="0.4"/>
<path d="M48.8 84.36A60.45 60.45 0 0 1 52.34 77.22" fill="none" stroke="#e0e0e0" stroke-width="0.4"/>
<path d="M37.21 64.85A79.8 79.8 0 0 1 42.33 57.7L52.86 66.14A66.3 66.3 0 0 0 48.61 72.09Z" fill="#f2f2f2" stroke="#cbcbcb" stroke-width="0.5"/>
<path d="M50.64 73.37A63.9 63.9 0 0 1 54.74 67.64L65.51 76.27A50.1 50.1 0 0 0 62.29 80.76Z" fill="#f3f3f3" stroke="#cdcdcd" stroke-width="0.5"/>
<path d="M59.53 78.68A53.55 53.55 0 0 1 62.64 74.33" fill="none" stroke="#e0e0e0" stroke-width="0.4"/>
<path d="M53.72 74.95A60.45 60.45 0 0 1 57.23 70.04" fill="none" stroke="#e0e0e0" stroke-width="0.4"/>
<path d="M44.03 55.64A79.8 79.8 0 0 1 50.51 48.93L59.66 58.86A66.3 66.3 0 0 0 54.28 64.43Z" fill="#f2f2f2" stroke="#cbcbcb" stroke-width="0.5"/>
<path d="M56.1 66A63.9 63.9 0 0 1 61.28 60.62L70.64 70.77A50.1 50.1 0 0 0 66.57 74.98Z" fill="#f3f3f3" stroke="#cdcdcd" stroke-width="0.5"/>
<path d="M64.14 72.52A53.55 53.55 0 0 1 68.09 68.42" fill="none" stroke="#e0e0e0" stroke-width="0.4"/>
<path d="M58.92 68A60.45 60.45 0 0 1 63.39 63.37" fill="none" stroke="#e0e0e0" stroke-width="0.4"/>
<path d="M52.5 47.16A79.8 79.8 0 0 1 58.25 42.64L66.09 53.63A66.3 66.3 0 0 0 61.31 57.38Z" fill="#f2f2f2" stroke="#cbcbcb" stroke-width="0.5"/>
<path d="M62.88 59.2A63.9 63.9 0 0 1 67.49 55.58L75.5 66.82A50.1 50.1 0 0 0 71.89 69.65Z" fill="#f3f3f3" stroke="#cdcdcd" stroke-width="0.5"/>
<path d="M69.85 66.86A53.55 53.55 0 0 1 73.27 64.17" fill="none" stroke="#e0e0e0" stroke-width="0.4"/>
<path d="M65.37 61.61A60.45 60.45 0 0 1 69.23 58.58" fill="none" stroke="#e0e0e0" stroke-width="0.4"/>
<path d="M60.45 41.13A79.8 79.8 0 0 1 67.1 37.16L73.45 49.08A66.3 66.3 0 0 0 67.92 52.37Z" fill="#f2f2f2" stroke="#cbcbcb" stroke-width="0.5"/>
<path d="M69.25 54.37A63.9 63.9 0 0 1 74.57 51.19L81.06 63.38A50.1 50.1 0 0 0 76.88 65.87Z" fill="#f3f3f3" stroke="#cdcdcd" stroke-width="0.5"/>
<path d="M75.21 62.84A53.55 53.55 0 0 1 79.19 60.46" fill="none" stroke="#e0e0e0" stroke-width="0.4"/>
<path d="M71.42 57.07A60.45 60.45 0 0 1 75.92 54.39" fill="none" stroke="#e0e0e0" stroke-width="0.4"/>
<path d="M69.48 35.94A79.8 79.8 0 0 1 90.09 29.13L92.54 42.41A66.3 66.3 0 0 0 75.42 48.07Z" fill="#f2f2f2" stroke="#cbcbcb" stroke-width="0.5"/>
<path d="M76.48 50.22A63.9 63.9 0 0 1 92.98 44.77L95.49 58.34A50.1 50.1 0 0 0 82.55 62.61Z" fill="#f3f3f3" stroke="#cdcdcd" stroke-width="0.5"/>
<path d="M81.28 59.39A53.55 53.55 0 0 1 94.58 54.99" fill="none" stroke="#e0e0e0" stroke-width="0.4"/>
<path d="M78.28 53.18A60.45 60.45 0 0 1 93.29 48.22" fill="none" stroke="#e0e0e0" stroke-width="0.4"/>
<path d="M92.72 28.69A79.8 79.8 0 0 1 101.52 27.86L102.04 41.35A66.3 66.3 0 0 0 94.73 42.04Z" fill="#f2f2f2" stroke="#cbcbcb" stroke-width="0.5"/>
<path d="M95.08 44.41A63.9 63.9 0 0 1 102.13 43.75L102.66 57.54A50.1 50.1 0 0 0 97.14 58.06Z" fill="#f3f3f3" stroke="#cdcdcd" stroke-width="0.5"/>
<path d="M96.9 54.61A53.55 53.55 0 0 1 102.25 54.1" fill="none" stroke="#e0e0e0" stroke-width="0.4"/>
<path d="M95.91 47.78A60.45 60.45 0 0 1 101.95 47.21" fill="none" stroke="#e0e0e0" stroke-width="0.4"/>
<path d="M104.9 50.6A57 57 0 0 1 127.63 55.46" fill="none" stroke="#8a8a8a" stroke-width="0.6"/>
<path d="M130.43 56.79A57 57 0 0 1 148.19 70.87" fill="none" stroke="#8a8a8a" stroke-width="0.6"/>
<path d="M150.12 73.3A57 57 0 0 1 158.67 89.57" fill="none" stroke="#8a8a8a" stroke-width="0.6"/>
<path d="M159.57 92.54A57 57 0 0 1 161.54 110.17" fill="none" stroke="#8a8a8a" stroke-width="0.6"/>
<path d="M161.32 113.26A57 57 0 0 1 157.22 129.51" fill="none" stroke="#8a8a8a" stroke-width="0.6"/>
<path d="M155.95 132.34A57 57 0 0 1 147.17 145.51" fill="none" stroke="#8a8a8a" stroke-width="0.6"/>
<path d="M145.05 147.76A57 57 0 0 1 133.44 156.76" fill="none" stroke="#8a8a8a" stroke-width="0.6"/>
<path d="M130.73 158.26A57 57 0 0 1 118.11 162.98" fill="none" stroke="#8a8a8a" stroke-width="0.6"/>
<path d="M115.08 163.63A57 57 0 0 1 102.14 164.55" fill="none" stroke="#8a8a8a" stroke-width="0.6"/>
<path d="M99.05 164.33A57 57 0 0 1 86.89 161.78" fill="none" stroke="#8a8a8a" stroke-width="0.6"/>
<path d="M83.97 160.74A57 57 0 0 1 74.27 155.86" fill="none" stroke="#8a8a8a" stroke-width="0.6"/>
<path d="M72.73 158.32A59.9 59.9 0 0 1 71.38 157.44" fill="none" stroke="#8a8a8a" stroke-width="0.6"/>
<path d="M70.46 153.24A57 57 0 0 1 61.48 144.88" fill="none" stroke="#8a8a8a" stroke-width="0.6"/>
<path d="M59.52 142.48A57 57 0 0 1 53.89 133.64" fill="none" stroke="#8a8a8a" stroke-width="0.6"/>
<path d="M52.55 130.84A57 57 0 0 1 49.36 121.65" fill="none" stroke="#8a8a8a" stroke-width="0.6"/>
<path d="M48.68 118.63A57 57 0 0 1 47.63 109.43" fill="none" stroke="#8a8a8a" stroke-width="0.6"/>
<path d="M47.61 106.33A57 57 0 0 1 48.37 98.27" fill="none" stroke="#8a8a8a" stroke-width="0.6"/>
<path d="M48.96 95.23A57 57 0 0 1 50.97 88.29" fill="none" stroke="#8a8a8a" stroke-width="0.6"/>
<path d="M52.1 85.41A57 57 0 0 1 55.17 79.21" fill="none" stroke="#8a8a8a" stroke-width="0.6"/>
<path d="M56.79 76.57A57 57 0 0 1 59.75 72.42" fill="none" stroke="#8a8a8a" stroke-width="0.6"/>
<path d="M61.73 70.04A57 57 0 0 1 65.52 66.1" fill="none" stroke="#8a8a8a" stroke-width="0.6"/>
<path d="M67.84 64.04A57 57 0 0 1 71.01 61.55" fill="none" stroke="#8a8a8a" stroke-width="0.6"/>
<path d="M71.98 57.36A59.9 59.9 0 0 1 73.34 56.5" fill="none" stroke="#8a8a8a" stroke-width="0.6"/>
<path d="M74.86 58.98A57 57 0 0 1 77.29 57.57" fill="none" stroke="#8a8a8a" stroke-width="0.6"/>
<path d="M80.05 56.16A57 57 0 0 1 93.65 51.66" fill="none" stroke="#8a8a8a" stroke-width="0.6"/>
<path d="M97.47 56.62A51.48 51.48 0 0 1 102.07 56.18" fill="none" stroke="#a0607a" stroke-width="0.6"/>
<circle cx="104.6" cy="107.6" r="47.7" fill="none" stroke="#f2d4e2" stroke-width="0.7"/>
<text x="124.16" y="16.07" transform="rotate(12.06 124.16 16.07)" class="cl" style="font-size:3.9px">1</text>
<text x="162.76" y="34.26" transform="rotate(38.41 162.76 34.26)" class="cl" style="font-size:3.9px">2</text>
<text x="187.46" y="64.06" transform="rotate(62.28 187.46 64.06)" class="cl" style="font-size:3.9px">3</text>
<text x="197.62" y="97.22" transform="rotate(83.63 197.62 97.22)" class="cl" style="font-size:3.9px">4</text>
<text x="195.36" y="130.49" transform="rotate(104.15 195.36 130.49)" class="cl" style="font-size:3.9px">5</text>
<text x="182.47" y="159.54" transform="rotate(123.7 182.47 159.54)" class="cl" style="font-size:3.9px">6</text>
<text x="161.97" y="181.56" transform="rotate(142.2 161.97 181.56)" class="cl" style="font-size:3.9px">7</text>
<text x="137.38" y="195.27" transform="rotate(159.5 137.38 195.27)" class="cl" style="font-size:3.9px">8</text>
<text x="111.23" y="200.96" transform="rotate(175.94 111.23 200.96)" class="cl" style="font-size:3.9px">9</text>
<text x="85.39" y="199.21" transform="rotate(191.84 85.39 199.21)" class="cl" style="font-size:3.9px">10</text>
<text x="61.45" y="190.66" transform="rotate(207.45 61.45 190.66)" class="cl" style="font-size:3.9px">11</text>
<text x="40.79" y="176.08" transform="rotate(222.98 40.79 176.08)" class="cl" style="font-size:3.9px">12</text>
<text x="25.62" y="157.83" transform="rotate(237.55 25.62 157.83)" class="cl" style="font-size:3.9px">13</text>
<text x="16.19" y="138.33" transform="rotate(250.83 16.19 138.33)" class="cl" style="font-size:3.9px">14</text>
<text x="11.6" y="118.19" transform="rotate(263.5 11.6 118.19)" class="cl" style="font-size:3.9px">15</text>
<text x="11.41" y="98.87" transform="rotate(275.35 11.41 98.87)" class="cl" style="font-size:3.9px">16</text>
<text x="14.7" y="81.54" transform="rotate(286.17 14.7 81.54)" class="cl" style="font-size:3.9px">17</text>
<text x="20.76" y="65.99" transform="rotate(296.39 20.76 65.99)" class="cl" style="font-size:3.9px">18</text>
<text x="28.44" y="53.18" transform="rotate(305.55 28.44 53.18)" class="cl" style="font-size:3.9px">19</text>
<text x="37.24" y="42.61" transform="rotate(313.97 37.24 42.61)" class="cl" style="font-size:3.9px">20</text>
<text x="46.8" y="33.98" transform="rotate(321.86 46.8 33.98)" class="cl" style="font-size:3.9px">21</text>
<text x="56.66" y="27.21" transform="rotate(329.19 56.66 27.21)" class="cl" style="font-size:3.9px">22</text>
<text x="75.22" y="18.73" transform="rotate(341.7 75.22 18.73)" class="cl" style="font-size:3.9px">X</text>
<text x="95.81" y="14.41" transform="rotate(354.61 95.81 14.41)" class="cl" style="font-size:3.9px">Y</text>
<rect x="65" y="41.3" width="1.6" height="1.6" fill="#f4875a"/>
<rect x="51.3" y="51.8" width="1.6" height="1.6" fill="#f4875a"/>
<rect x="31.3" y="83.9" width="1.6" height="1.6" fill="#f4875a"/>
<rect x="103.9" y="30.8" width="1.6" height="1.6" fill="#f4875a"/>
<rect x="122.4" y="33.4" width="1.6" height="1.6" fill="#f4875a"/>
<rect x="146.6" y="40.5" width="1.6" height="1.6" fill="#2aa6a0"/>
<rect x="149.7" y="42.6" width="1.6" height="1.6" fill="#2aa6a0"/>
<rect x="146" y="43.9" width="1.6" height="1.6" fill="#f4875a"/>
<rect x="173.7" y="70.3" width="1.6" height="1.6" fill="#2aa6a0"/>
<rect x="171.3" y="72.6" width="1.6" height="1.6" fill="#f4875a"/>
<rect x="166.3" y="75.2" width="1.6" height="1.6" fill="#9a9af2"/>
<rect x="25.5" y="103.9" width="1.6" height="1.6" fill="#2aa6a0"/>
<rect x="28.7" y="103.9" width="1.6" height="1.6" fill="#f4875a"/>
<rect x="26" y="117.1" width="1.6" height="1.6" fill="#2aa6a0"/>
<rect x="29.2" y="118.1" width="1.6" height="1.6" fill="#f4875a"/>
<rect x="27.4" y="124.7" width="1.6" height="1.6" fill="#2aa6a0"/>
<rect x="36.8" y="126" width="1.6" height="1.6" fill="#9a9af2"/>
<rect x="28.4" y="128.1" width="1.6" height="1.6" fill="#2aa6a0"/>
<rect x="32.1" y="131" width="1.6" height="1.6" fill="#f4875a"/>
<rect x="66.6" y="172.9" width="1.6" height="1.6" fill="#f4875a"/>
<rect x="69.7" y="175" width="1.6" height="1.6" fill="#f4875a"/>
<rect x="72.4" y="175.5" width="1.6" height="1.6" fill="#f4875a"/>
<rect x="70.8" y="178.7" width="1.6" height="1.6" fill="#2aa6a0"/>
<rect x="78.7" y="178.1" width="1.6" height="1.6" fill="#f4875a"/>
<rect x="182.3" y="112.1" width="1.6" height="1.6" fill="#2aa6a0"/>
<rect x="179" y="116.5" width="1.6" height="1.6" fill="#f4875a"/>
<rect x="181.5" y="118.4" width="1.6" height="1.6" fill="#2aa6a0"/>
<rect x="180.1" y="126.3" width="1.6" height="1.6" fill="#2aa6a0"/>
<rect x="165.5" y="151.3" width="1.6" height="1.6" fill="#f4875a"/>
<rect x="147.9" y="168.9" width="1.6" height="1.6" fill="#f4875a"/>
<rect x="153.9" y="168.1" width="1.6" height="1.6" fill="#2aa6a0"/>
<rect x="137.4" y="175" width="1.6" height="1.6" fill="#f4875a"/>
<rect x="131.3" y="178.1" width="1.6" height="1.6" fill="#f4875a"/>
<rect x="126.8" y="178.7" width="1.6" height="1.6" fill="#f4875a"/>
<rect x="129.5" y="181.3" width="1.6" height="1.6" fill="#2aa6a0"/>
<rect x="103.3" y="182.6" width="1.6" height="1.6" fill="#f4875a"/>
<path d="M79.71 66.91Q104.6 107.6 79.22 147.99" fill="none" stroke="#e2b0c8" stroke-width="0.7"/>
<rect x="110.4" y="164.6" width="0.9" height="2.8" fill="#8a80e0"/>
<text x="120.8" y="102.8" class="lab" text-anchor="middle" style="font-size:9.8px" textLength="33.5" lengthAdjust="spacingAndGlyphs">Emanuel</text>
<text x="120.8" y="114.5" class="lab" text-anchor="middle" style="font-size:9.8px" textLength="39.3" lengthAdjust="spacingAndGlyphs">Syndrome</text>
<g filter="url(#sb)">
<path d="M456.4 225.6A72 72 0 0 1 485.83 231.89L483.5 237.09A66.3 66.3 0 0 0 456.4 231.3Z" fill="#ececec"/>
<path d="M456.74 225.6A72 72 0 0 1 458.02 225.62L457.89 231.32A66.3 66.3 0 0 0 456.71 231.3Z" fill="#6e6e6e"/>
<path d="M459.58 225.67A72 72 0 0 1 461.14 225.76L460.77 231.44A66.3 66.3 0 0 0 459.33 231.36Z" fill="#b8b8b8"/>
<path d="M462.28 225.84A72 72 0 0 1 463.5 225.95L462.94 231.62A66.3 66.3 0 0 0 461.82 231.52Z" fill="#d0d0d0"/>
<path d="M465.32 226.15A72 72 0 0 1 466.22 226.27L465.44 231.92A66.3 66.3 0 0 0 464.61 231.81Z" fill="#6e6e6e"/>
<path d="M467.54 226.47A72 72 0 0 1 468.34 226.6L467.4 232.22A66.3 66.3 0 0 0 466.65 232.1Z" fill="#e3a4ad"/>
<path d="M470.17 226.93A72 72 0 0 1 471.45 227.19L470.26 232.76A66.3 66.3 0 0 0 469.08 232.52Z" fill="#3a3a3a"/>
<path d="M473.77 227.73A72 72 0 0 1 475.09 228.07L473.61 233.57A66.3 66.3 0 0 0 472.39 233.26Z" fill="#7a7a7a"/>
<path d="M476.9 228.58A72 72 0 0 1 478.18 228.97L476.45 234.4A66.3 66.3 0 0 0 475.28 234.04Z" fill="#a0a0a0"/>
<path d="M479.08 229.27A72 72 0 0 1 479.8 229.51L477.95 234.9A66.3 66.3 0 0 0 477.28 234.68Z" fill="#c4c4c4"/>
<path d="M481.5 230.12A72 72 0 0 1 482.89 230.65L480.79 235.95A66.3 66.3 0 0 0 479.51 235.46Z" fill="#2e2e2e"/>
<path d="M484.32 231.23A72 72 0 0 1 485.74 231.85L483.42 237.06A66.3 66.3 0 0 0 482.11 236.49Z" fill="#a0a0a0"/>
<path d="M471.23 227.14A72 72 0 0 1 471.75 227.26L470.54 232.83A66.3 66.3 0 0 0 470.06 232.72Z" fill="#e0343f"/>
<path d="M488.69 233.24A72 72 0 0 1 511.7 251.5L507.33 255.15A66.3 66.3 0 0 0 486.13 238.34Z" fill="#ececec"/>
<path d="M488.92 233.36A72 72 0 0 1 489.58 233.7L486.95 238.76A66.3 66.3 0 0 0 486.35 238.45Z" fill="#555555"/>
<path d="M490.97 234.44A72 72 0 0 1 491.84 234.93L489.03 239.89A66.3 66.3 0 0 0 488.23 239.44Z" fill="#b8b8b8"/>
<path d="M493.93 236.16A72 72 0 0 1 495.24 236.98L492.17 241.78A66.3 66.3 0 0 0 490.96 241.02Z" fill="#e3a4ad"/>
<path d="M496.29 237.66A72 72 0 0 1 497.51 238.49L494.25 243.17A66.3 66.3 0 0 0 493.13 242.41Z" fill="#a0a0a0"/>
<path d="M498.57 239.24A72 72 0 0 1 499.22 239.71L495.83 244.3A66.3 66.3 0 0 0 495.23 243.86Z" fill="#6e6e6e"/>
<path d="M500.4 240.61A72 72 0 0 1 501.62 241.57L498.04 246.01A66.3 66.3 0 0 0 496.92 245.12Z" fill="#3a3a3a"/>
<path d="M502.36 242.18A72 72 0 0 1 502.93 242.66L499.25 247.01A66.3 66.3 0 0 0 498.72 246.57Z" fill="#2e2e2e"/>
<path d="M503.58 243.21A72 72 0 0 1 504.28 243.83L500.49 248.09A66.3 66.3 0 0 0 499.85 247.52Z" fill="#3a3a3a"/>
<path d="M505.46 244.9A72 72 0 0 1 506.68 246.06L502.7 250.14A66.3 66.3 0 0 0 501.58 249.07Z" fill="#3a3a3a"/>
<path d="M507.75 247.13A72 72 0 0 1 508.64 248.06L504.51 251.98A66.3 66.3 0 0 0 503.69 251.13Z" fill="#b8b8b8"/>
<path d="M510.05 249.59A72 72 0 0 1 510.71 250.33L506.41 254.07A66.3 66.3 0 0 0 505.81 253.39Z" fill="#555555"/>
<path d="M511.58 251.35A72 72 0 0 1 511.7 251.5L507.33 255.15A66.3 66.3 0 0 0 507.21 255.01Z" fill="#555555"/>
<path d="M498.17 238.95A72 72 0 0 1 498.6 239.27L495.26 243.89A66.3 66.3 0 0 0 494.86 243.6Z" fill="#e0343f"/>
<path d="M513.67 253.97A72 72 0 0 1 524.82 275.19L519.41 276.96A66.3 66.3 0 0 0 509.14 257.42Z" fill="#ececec"/>
<path d="M513.78 254.11A72 72 0 0 1 514.36 254.89L509.77 258.27A66.3 66.3 0 0 0 509.24 257.55Z" fill="#6e6e6e"/>
<path d="M514.87 255.59A72 72 0 0 1 515.55 256.55L510.87 259.8A66.3 66.3 0 0 0 510.24 258.91Z" fill="#888888"/>
<path d="M516.19 257.49A72 72 0 0 1 516.89 258.55L512.1 261.65A66.3 66.3 0 0 0 511.46 260.67Z" fill="#6e6e6e"/>
<path d="M517.78 259.96A72 72 0 0 1 518.64 261.41L513.71 264.27A66.3 66.3 0 0 0 512.92 262.94Z" fill="#888888"/>
<path d="M519.39 262.72A72 72 0 0 1 519.92 263.69L514.89 266.38A66.3 66.3 0 0 0 514.4 265.48Z" fill="#3a3a3a"/>
<path d="M520.62 265.04A72 72 0 0 1 521.03 265.88L515.92 268.39A66.3 66.3 0 0 0 515.53 267.62Z" fill="#7a7a7a"/>
<path d="M521.98 267.88A72 72 0 0 1 522.66 269.42L517.41 271.65A66.3 66.3 0 0 0 516.79 270.24Z" fill="#c4c4c4"/>
<path d="M523.17 270.65A72 72 0 0 1 523.75 272.13L518.41 274.15A66.3 66.3 0 0 0 517.88 272.78Z" fill="#b8b8b8"/>
<path d="M524.14 273.21A72 72 0 0 1 524.7 274.81L519.29 276.62A66.3 66.3 0 0 0 518.78 275.14Z" fill="#7a7a7a"/>
<path d="M519.55 263.02A72 72 0 0 1 519.81 263.49L514.79 266.19A66.3 66.3 0 0 0 514.55 265.76Z" fill="#e0343f"/>
<path d="M525.74 278.21A72 72 0 0 1 528.31 301.22L522.62 300.93A66.3 66.3 0 0 0 520.25 279.75Z" fill="#ececec"/>
<path d="M525.79 278.38A72 72 0 0 1 526.22 280.01L520.69 281.41A66.3 66.3 0 0 0 520.29 279.9Z" fill="#b8b8b8"/>
<path d="M526.58 281.52A72 72 0 0 1 526.74 282.24L521.17 283.46A66.3 66.3 0 0 0 521.03 282.79Z" fill="#7a7a7a"/>
<path d="M527.02 283.58A72 72 0 0 1 527.21 284.58L521.61 285.61A66.3 66.3 0 0 0 521.43 284.69Z" fill="#555555"/>
<path d="M527.38 285.54A72 72 0 0 1 527.53 286.46L521.9 287.34A66.3 66.3 0 0 0 521.76 286.49Z" fill="#d0d0d0"/>
<path d="M527.71 287.68A72 72 0 0 1 527.88 288.99L522.22 289.67A66.3 66.3 0 0 0 522.07 288.47Z" fill="#222222"/>
<path d="M528.08 290.81A72 72 0 0 1 528.15 291.66L522.47 292.13A66.3 66.3 0 0 0 522.4 291.35Z" fill="#c4c4c4"/>
<path d="M528.27 293.27A72 72 0 0 1 528.34 294.56L522.64 294.8A66.3 66.3 0 0 0 522.58 293.62Z" fill="#3a3a3a"/>
<path d="M528.37 295.7A72 72 0 0 1 528.39 296.58L522.69 296.66A66.3 66.3 0 0 0 522.68 295.85Z" fill="#c4c4c4"/>
<path d="M528.39 298.72A72 72 0 0 1 528.37 299.7L522.67 299.53A66.3 66.3 0 0 0 522.69 298.64Z" fill="#b8b8b8"/>
<path d="M528.33 300.8A72 72 0 0 1 528.31 301.22L522.62 300.93A66.3 66.3 0 0 0 522.63 300.55Z" fill="#b8b8b8"/>
<path d="M527.09 283.92A72 72 0 0 1 527.19 284.44L521.58 285.48A66.3 66.3 0 0 0 521.49 285Z" fill="#e0343f"/>
<path d="M528.08 304.37A72 72 0 0 1 522.72 325.63L517.47 323.41A66.3 66.3 0 0 0 522.41 303.84Z" fill="#ececec"/>
<path d="M528.02 304.95A72 72 0 0 1 527.84 306.53L522.19 305.82A66.3 66.3 0 0 0 522.35 304.37Z" fill="#7a7a7a"/>
<path d="M527.72 307.5A72 72 0 0 1 527.61 308.27L521.97 307.42A66.3 66.3 0 0 0 522.07 306.72Z" fill="#6e6e6e"/>
<path d="M527.46 309.17A72 72 0 0 1 527.18 310.81L521.57 309.76A66.3 66.3 0 0 0 521.84 308.25Z" fill="#c4c4c4"/>
<path d="M526.78 312.79A72 72 0 0 1 526.54 313.88L520.98 312.59A66.3 66.3 0 0 0 521.21 311.59Z" fill="#555555"/>
<path d="M526.02 315.97A72 72 0 0 1 525.67 317.23L520.19 315.68A66.3 66.3 0 0 0 520.51 314.51Z" fill="#d0d0d0"/>
<path d="M525.2 318.84A72 72 0 0 1 524.7 320.39L519.29 318.59A66.3 66.3 0 0 0 519.75 317.15Z" fill="#555555"/>
<path d="M524.36 321.39A72 72 0 0 1 523.95 322.51L518.6 320.54A66.3 66.3 0 0 0 518.98 319.5Z" fill="#d0d0d0"/>
<path d="M523.16 324.56A72 72 0 0 1 522.72 325.63L517.47 323.41A66.3 66.3 0 0 0 517.88 322.43Z" fill="#7a7a7a"/>
<path d="M527.33 309.94A72 72 0 0 1 527.24 310.47L521.63 309.45A66.3 66.3 0 0 0 521.72 308.96Z" fill="#e0343f"/>
<path d="M521.43 328.51A72 72 0 0 1 509.92 345.76L505.68 341.95A66.3 66.3 0 0 0 516.28 326.06Z" fill="#ececec"/>
<path d="M521.18 329.02A72 72 0 0 1 520.53 330.33L515.46 327.74A66.3 66.3 0 0 0 516.05 326.53Z" fill="#555555"/>
<path d="M519.94 331.46A72 72 0 0 1 519.39 332.48L514.4 329.72A66.3 66.3 0 0 0 514.91 328.78Z" fill="#3a3a3a"/>
<path d="M518.93 333.29A72 72 0 0 1 518.43 334.16L513.52 331.26A66.3 66.3 0 0 0 513.98 330.46Z" fill="#a0a0a0"/>
<path d="M517.52 335.66A72 72 0 0 1 517.06 336.38L512.26 333.31A66.3 66.3 0 0 0 512.68 332.65Z" fill="#222222"/>
<path d="M516.48 337.28A72 72 0 0 1 515.83 338.25L511.12 335.03A66.3 66.3 0 0 0 511.72 334.14Z" fill="#2e2e2e"/>
<path d="M514.74 339.8A72 72 0 0 1 513.91 340.93L509.35 337.5A66.3 66.3 0 0 0 510.12 336.46Z" fill="#c4c4c4"/>
<path d="M512.46 342.78A72 72 0 0 1 511.63 343.79L507.26 340.13A66.3 66.3 0 0 0 508.02 339.2Z" fill="#222222"/>
<path d="M510.59 345A72 72 0 0 1 509.92 345.76L505.68 341.95A66.3 66.3 0 0 0 506.3 341.25Z" fill="#d0d0d0"/>
<path d="M518.04 334.81A72 72 0 0 1 517.76 335.26L512.91 332.28A66.3 66.3 0 0 0 513.16 331.86Z" fill="#e0343f"/>
<path d="M507.75 348.07A72 72 0 0 1 492.51 359.89L489.65 354.96A66.3 66.3 0 0 0 503.69 344.07Z" fill="#ececec"/>
<path d="M507.66 348.16A72 72 0 0 1 506.71 349.11L502.72 345.03A66.3 66.3 0 0 0 503.6 344.16Z" fill="#888888"/>
<path d="M506.02 349.78A72 72 0 0 1 505.26 350.48L501.39 346.3A66.3 66.3 0 0 0 502.09 345.65Z" fill="#888888"/>
<path d="M503.45 352.1A72 72 0 0 1 502.84 352.62L499.16 348.27A66.3 66.3 0 0 0 499.72 347.79Z" fill="#b8b8b8"/>
<path d="M501.73 353.54A72 72 0 0 1 501.13 354.02L497.59 349.55A66.3 66.3 0 0 0 498.14 349.11Z" fill="#e3a4ad"/>
<path d="M500.3 354.67A72 72 0 0 1 498.96 355.67L495.59 351.07A66.3 66.3 0 0 0 496.82 350.15Z" fill="#2e2e2e"/>
<path d="M497.82 356.49A72 72 0 0 1 496.67 357.28L493.48 352.56A66.3 66.3 0 0 0 494.54 351.83Z" fill="#555555"/>
<path d="M494.8 358.5A72 72 0 0 1 493.84 359.1L490.87 354.23A66.3 66.3 0 0 0 491.76 353.68Z" fill="#222222"/>
<path d="M502.6 352.82A72 72 0 0 1 502.19 353.17L498.56 348.77A66.3 66.3 0 0 0 498.94 348.45Z" fill="#e0343f"/>
<path d="M489.74 361.42A72 72 0 0 1 473.1 367.64L471.78 362.09A66.3 66.3 0 0 0 487.1 356.36Z" fill="#ececec"/>
<path d="M489.38 361.6A72 72 0 0 1 488.19 362.2L485.67 357.09A66.3 66.3 0 0 0 486.77 356.53Z" fill="#3a3a3a"/>
<path d="M486.88 362.83A72 72 0 0 1 486.21 363.14L483.85 357.95A66.3 66.3 0 0 0 484.47 357.67Z" fill="#555555"/>
<path d="M485.31 363.54A72 72 0 0 1 484.07 364.07L481.88 358.81A66.3 66.3 0 0 0 483.03 358.32Z" fill="#7a7a7a"/>
<path d="M481.99 364.9A72 72 0 0 1 480.64 365.4L478.72 360.03A66.3 66.3 0 0 0 479.96 359.57Z" fill="#3a3a3a"/>
<path d="M478.43 366.15A72 72 0 0 1 477.09 366.56L475.45 361.1A66.3 66.3 0 0 0 476.69 360.72Z" fill="#6e6e6e"/>
<path d="M475.6 366.99A72 72 0 0 1 474.11 367.39L472.71 361.86A66.3 66.3 0 0 0 474.08 361.5Z" fill="#555555"/>
<path d="M484.98 363.69A72 72 0 0 1 484.48 363.9L482.26 358.65A66.3 66.3 0 0 0 482.71 358.45Z" fill="#e0343f"/>
<path d="M470.01 368.3A72 72 0 0 1 452.92 369.52L453.2 363.82A66.3 66.3 0 0 0 468.93 362.7Z" fill="#ececec"/>
<path d="M469.65 368.37A72 72 0 0 1 468.63 368.55L467.66 362.94A66.3 66.3 0 0 0 468.6 362.77Z" fill="#555555"/>
<path d="M467.04 368.81A72 72 0 0 1 466.1 368.94L465.33 363.3A66.3 66.3 0 0 0 466.2 363.17Z" fill="#e3a4ad"/>
<path d="M465.07 369.08A72 72 0 0 1 463.59 369.24L463.02 363.57A66.3 66.3 0 0 0 464.39 363.42Z" fill="#2e2e2e"/>
<path d="M461.3 369.43A72 72 0 0 1 460.32 369.49L460.01 363.8A66.3 66.3 0 0 0 460.91 363.75Z" fill="#222222"/>
<path d="M458.89 369.56A72 72 0 0 1 458.02 369.58L457.89 363.88A66.3 66.3 0 0 0 458.69 363.86Z" fill="#7a7a7a"/>
<path d="M456.85 369.6A72 72 0 0 1 455.95 369.6L455.99 363.9A66.3 66.3 0 0 0 456.81 363.9Z" fill="#2e2e2e"/>
<path d="M454.06 369.56A72 72 0 0 1 452.92 369.52L453.2 363.82A66.3 66.3 0 0 0 454.24 363.86Z" fill="#c4c4c4"/>
<path d="M464.39 369.16A72 72 0 0 1 463.85 369.21L463.26 363.54A66.3 66.3 0 0 0 463.75 363.49Z" fill="#e0343f"/>
<path d="M449.77 369.29A72 72 0 0 1 433.67 365.92L435.47 360.51A66.3 66.3 0 0 0 450.29 363.62Z" fill="#ececec"/>
<path d="M449.32 369.25A72 72 0 0 1 448.41 369.15L449.04 363.49A66.3 66.3 0 0 0 449.89 363.58Z" fill="#555555"/>
<path d="M446.3 368.89A72 72 0 0 1 444.85 368.67L445.77 363.04A66.3 66.3 0 0 0 447.1 363.24Z" fill="#b8b8b8"/>
<path d="M442.65 368.27A72 72 0 0 1 441.56 368.05L442.74 362.48A66.3 66.3 0 0 0 443.73 362.68Z" fill="#c4c4c4"/>
<path d="M439.31 367.54A72 72 0 0 1 438.41 367.32L439.83 361.8A66.3 66.3 0 0 0 440.67 362.01Z" fill="#888888"/>
<path d="M436.83 366.89A72 72 0 0 1 435.35 366.45L437.01 361A66.3 66.3 0 0 0 438.38 361.4Z" fill="#3a3a3a"/>
<path d="M445.18 368.72A72 72 0 0 1 444.65 368.64L445.58 363.01A66.3 66.3 0 0 0 446.07 363.09Z" fill="#e0343f"/>
<path d="M430.7 364.86A72 72 0 0 1 416.16 357.3L419.34 352.58A66.3 66.3 0 0 0 432.73 359.53Z" fill="#ececec"/>
<path d="M430.15 364.65A72 72 0 0 1 429.22 364.27L431.38 359A66.3 66.3 0 0 0 432.23 359.34Z" fill="#a0a0a0"/>
<path d="M428.27 363.88A72 72 0 0 1 427.18 363.41L429.5 358.2A66.3 66.3 0 0 0 430.5 358.63Z" fill="#b8b8b8"/>
<path d="M425.22 362.5A72 72 0 0 1 424.23 362.01L426.77 356.91A66.3 66.3 0 0 0 427.69 357.36Z" fill="#a0a0a0"/>
<path d="M422.78 361.27A72 72 0 0 1 421.86 360.78L424.6 355.77A66.3 66.3 0 0 0 425.44 356.23Z" fill="#7a7a7a"/>
<path d="M420.5 360.01A72 72 0 0 1 419.8 359.6L422.7 354.7A66.3 66.3 0 0 0 423.34 355.07Z" fill="#3a3a3a"/>
<path d="M418.7 358.94A72 72 0 0 1 417.58 358.24L420.65 353.44A66.3 66.3 0 0 0 421.68 354.08Z" fill="#2e2e2e"/>
<path d="M424.95 362.37A72 72 0 0 1 424.47 362.13L427 357.02A66.3 66.3 0 0 0 427.44 357.24Z" fill="#e0343f"/>
<path d="M413.57 355.48A72 72 0 0 1 401.69 344.4L406.02 340.7A66.3 66.3 0 0 0 416.96 350.9Z" fill="#ececec"/>
<path d="M413.25 355.24A72 72 0 0 1 412.43 354.62L415.91 350.1A66.3 66.3 0 0 0 416.67 350.68Z" fill="#c4c4c4"/>
<path d="M411.74 354.07A72 72 0 0 1 411.07 353.54L414.65 349.11A66.3 66.3 0 0 0 415.27 349.6Z" fill="#6e6e6e"/>
<path d="M410.18 352.8A72 72 0 0 1 409.05 351.84L412.8 347.55A66.3 66.3 0 0 0 413.84 348.43Z" fill="#7a7a7a"/>
<path d="M408.14 351.03A72 72 0 0 1 407.5 350.44L411.37 346.26A66.3 66.3 0 0 0 411.96 346.8Z" fill="#3a3a3a"/>
<path d="M405.76 348.78A72 72 0 0 1 405.16 348.18L409.22 344.18A66.3 66.3 0 0 0 409.77 344.73Z" fill="#6e6e6e"/>
<path d="M403.88 346.85A72 72 0 0 1 402.95 345.85L407.19 342.03A66.3 66.3 0 0 0 408.04 342.95Z" fill="#222222"/>
<path d="M410.36 352.96A72 72 0 0 1 409.95 352.61L413.63 348.26A66.3 66.3 0 0 0 414 348.57Z" fill="#e0343f"/>
<path d="M399.69 341.96A72 72 0 0 1 392.18 330.15L397.26 327.57A66.3 66.3 0 0 0 404.18 338.45Z" fill="#ececec"/>
<path d="M399.41 341.6A72 72 0 0 1 398.85 340.86L403.4 337.44A66.3 66.3 0 0 0 403.92 338.12Z" fill="#888888"/>
<path d="M398.1 339.85A72 72 0 0 1 397.28 338.69L401.96 335.44A66.3 66.3 0 0 0 402.72 336.51Z" fill="#888888"/>
<path d="M396.32 337.29A72 72 0 0 1 395.91 336.65L400.7 333.55A66.3 66.3 0 0 0 401.08 334.14Z" fill="#c4c4c4"/>
<path d="M395.22 335.56A72 72 0 0 1 394.67 334.65L399.55 331.72A66.3 66.3 0 0 0 400.06 332.56Z" fill="#e3a4ad"/>
<path d="M393.49 332.62A72 72 0 0 1 392.91 331.55L397.93 328.86A66.3 66.3 0 0 0 398.47 329.85Z" fill="#a0a0a0"/>
<path d="M392.23 330.24A72 72 0 0 1 392.18 330.15L397.26 327.57A66.3 66.3 0 0 0 397.31 327.66Z" fill="#c4c4c4"/>
<path d="M398.53 340.44A72 72 0 0 1 398.21 340.01L402.82 336.65A66.3 66.3 0 0 0 403.11 337.05Z" fill="#e0343f"/>
<path d="M390.81 327.3A72 72 0 0 1 386.53 314.99L392.06 313.61A66.3 66.3 0 0 0 396 324.95Z" fill="#ececec"/>
<path d="M390.58 326.78A72 72 0 0 1 390.01 325.46L395.27 323.26A66.3 66.3 0 0 0 395.79 324.47Z" fill="#888888"/>
<path d="M389.42 324.01A72 72 0 0 1 389.09 323.15L394.42 321.13A66.3 66.3 0 0 0 394.72 321.92Z" fill="#222222"/>
<path d="M388.59 321.8A72 72 0 0 1 388.17 320.58L393.57 318.76A66.3 66.3 0 0 0 393.96 319.88Z" fill="#a0a0a0"/>
<path d="M387.52 318.57A72 72 0 0 1 387.06 316.99L392.55 315.46A66.3 66.3 0 0 0 392.98 316.91Z" fill="#6e6e6e"/>
<path d="M386.7 315.67A72 72 0 0 1 386.53 314.99L392.06 313.61A66.3 66.3 0 0 0 392.22 314.24Z" fill="#6e6e6e"/>
<path d="M390.06 325.59A72 72 0 0 1 389.86 325.09L395.12 322.92A66.3 66.3 0 0 0 395.31 323.37Z" fill="#e0343f"/>
<path d="M385.84 311.9A72 72 0 0 1 384.43 299.53L390.12 299.38A66.3 66.3 0 0 0 391.42 310.77Z" fill="#ececec"/>
<path d="M385.73 311.39A72 72 0 0 1 385.49 310.06L391.1 309.08A66.3 66.3 0 0 0 391.33 310.3Z" fill="#e3a4ad"/>
<path d="M385.31 309.03A72 72 0 0 1 385.17 308.08L390.81 307.25A66.3 66.3 0 0 0 390.94 308.12Z" fill="#3a3a3a"/>
<path d="M384.86 305.69A72 72 0 0 1 384.69 304.02L390.36 303.51A66.3 66.3 0 0 0 390.52 305.05Z" fill="#b8b8b8"/>
<path d="M384.51 301.63A72 72 0 0 1 384.44 300L390.14 299.81A66.3 66.3 0 0 0 390.2 301.31Z" fill="#7a7a7a"/>
<path d="M385.46 309.89A72 72 0 0 1 385.37 309.37L390.99 308.44A66.3 66.3 0 0 0 391.07 308.92Z" fill="#e0343f"/>
<path d="M384.41 296.37A72 72 0 0 1 385.43 285.44L391.05 286.4A66.3 66.3 0 0 0 390.11 296.47Z" fill="#ececec"/>
<path d="M384.42 295.83A72 72 0 0 1 384.46 294.76L390.15 294.99A66.3 66.3 0 0 0 390.12 295.97Z" fill="#555555"/>
<path d="M384.5 293.86A72 72 0 0 1 384.56 292.79L390.25 293.17A66.3 66.3 0 0 0 390.19 294.15Z" fill="#555555"/>
<path d="M384.73 290.73A72 72 0 0 1 384.85 289.54L390.52 290.18A66.3 66.3 0 0 0 390.4 291.28Z" fill="#222222"/>
<path d="M385 288.35A72 72 0 0 1 385.22 286.79L390.85 287.65A66.3 66.3 0 0 0 390.65 289.08Z" fill="#555555"/>
<path d="M384.6 292.19A72 72 0 0 1 384.65 291.66L390.33 292.13A66.3 66.3 0 0 0 390.29 292.62Z" fill="#e0343f"/>
<path d="M386.04 282.34A72 72 0 0 1 388.78 272.86L394.14 274.82A66.3 66.3 0 0 0 391.61 283.55Z" fill="#ececec"/>
<path d="M386.08 282.14A72 72 0 0 1 386.31 281.11L391.86 282.41A66.3 66.3 0 0 0 391.65 283.36Z" fill="#888888"/>
<path d="M386.7 279.56A72 72 0 0 1 387.14 277.91L392.63 279.47A66.3 66.3 0 0 0 392.22 280.99Z" fill="#a0a0a0"/>
<path d="M387.77 275.83A72 72 0 0 1 388.21 274.5L393.61 276.33A66.3 66.3 0 0 0 393.2 277.55Z" fill="#888888"/>
<path d="M386.65 279.76A72 72 0 0 1 386.78 279.24L392.29 280.69A66.3 66.3 0 0 0 392.17 281.17Z" fill="#e0343f"/>
<path d="M389.94 269.92A72 72 0 0 1 394.16 261.41L399.08 264.28A66.3 66.3 0 0 0 395.2 272.11Z" fill="#ececec"/>
<path d="M390.11 269.49A72 72 0 0 1 390.7 268.15L395.9 270.48A66.3 66.3 0 0 0 395.36 271.72Z" fill="#6e6e6e"/>
<path d="M391.41 266.62A72 72 0 0 1 391.85 265.71L396.96 268.23A66.3 66.3 0 0 0 396.55 269.07Z" fill="#b8b8b8"/>
<path d="M392.69 264.05A72 72 0 0 1 393.28 262.96L398.28 265.7A66.3 66.3 0 0 0 397.74 266.71Z" fill="#b8b8b8"/>
<path d="M393.89 261.86A72 72 0 0 1 394.16 261.41L399.08 264.28A66.3 66.3 0 0 0 398.84 264.69Z" fill="#7a7a7a"/>
<path d="M390.66 268.24A72 72 0 0 1 390.88 267.75L396.07 270.11A66.3 66.3 0 0 0 395.86 270.56Z" fill="#e0343f"/>
<path d="M395.8 258.72A72 72 0 0 1 399.98 252.87L404.45 256.41A66.3 66.3 0 0 0 400.6 261.79Z" fill="#ececec"/>
<path d="M396.09 258.27A72 72 0 0 1 397.02 256.88L401.72 260.1A66.3 66.3 0 0 0 400.87 261.38Z" fill="#a0a0a0"/>
<path d="M397.76 255.82A72 72 0 0 1 398.47 254.84L403.06 258.23A66.3 66.3 0 0 0 402.4 259.13Z" fill="#555555"/>
<path d="M399.5 253.49A72 72 0 0 1 399.98 252.87L404.45 256.41A66.3 66.3 0 0 0 404 256.98Z" fill="#7a7a7a"/>
<path d="M397.45 256.26A72 72 0 0 1 397.76 255.82L402.4 259.13A66.3 66.3 0 0 0 402.12 259.53Z" fill="#e0343f"/>
<path d="M402 250.44A72 72 0 0 1 407.32 244.92L411.2 249.09A66.3 66.3 0 0 0 406.3 254.17Z" fill="#ececec"/>
<path d="M402.25 250.15A72 72 0 0 1 402.76 249.57L407.01 253.37A66.3 66.3 0 0 0 406.54 253.9Z" fill="#3a3a3a"/>
<path d="M403.92 248.31A72 72 0 0 1 405.09 247.09L409.15 251.09A66.3 66.3 0 0 0 408.07 252.21Z" fill="#6e6e6e"/>
<path d="M406.25 245.94A72 72 0 0 1 407.26 244.97L411.15 249.14A66.3 66.3 0 0 0 410.22 250.03Z" fill="#555555"/>
<path d="M404.06 248.15A72 72 0 0 1 404.43 247.77L408.55 251.71A66.3 66.3 0 0 0 408.21 252.07Z" fill="#e0343f"/>
<path d="M409.67 242.82A72 72 0 0 1 414.28 239.21L417.61 243.83A66.3 66.3 0 0 0 413.37 247.16Z" fill="#ececec"/>
<path d="M409.94 242.6A72 72 0 0 1 411.19 241.56L414.77 246A66.3 66.3 0 0 0 413.62 246.95Z" fill="#3a3a3a"/>
<path d="M412.19 240.77A72 72 0 0 1 413.14 240.05L416.56 244.6A66.3 66.3 0 0 0 415.69 245.27Z" fill="#888888"/>
<path d="M414.26 239.22A72 72 0 0 1 414.28 239.21L417.61 243.83A66.3 66.3 0 0 0 417.59 243.84Z" fill="#888888"/>
<path d="M410.7 241.96A72 72 0 0 1 411.12 241.62L414.7 246.06A66.3 66.3 0 0 0 414.32 246.37Z" fill="#e0343f"/>
<path d="M416.88 237.42A72 72 0 0 1 422.24 234.22L424.94 239.24A66.3 66.3 0 0 0 420.01 242.18Z" fill="#ececec"/>
<path d="M417.02 237.32A72 72 0 0 1 417.98 236.71L421.02 241.53A66.3 66.3 0 0 0 420.14 242.09Z" fill="#222222"/>
<path d="M419.96 235.5A72 72 0 0 1 420.7 235.07L423.53 240.02A66.3 66.3 0 0 0 422.84 240.42Z" fill="#222222"/>
<path d="M421.49 234.63A72 72 0 0 1 422.24 234.22L424.94 239.24A66.3 66.3 0 0 0 424.25 239.61Z" fill="#222222"/>
<path d="M418.16 236.6A72 72 0 0 1 418.61 236.31L421.6 241.16A66.3 66.3 0 0 0 421.19 241.43Z" fill="#e0343f"/>
<path d="M425.05 232.78A72 72 0 0 1 442.93 226.87L444 232.47A66.3 66.3 0 0 0 427.53 237.92Z" fill="#ececec"/>
<path d="M425.3 232.66A72 72 0 0 1 426.27 232.21L428.66 237.38A66.3 66.3 0 0 0 427.76 237.8Z" fill="#7a7a7a"/>
<path d="M427.77 231.54A72 72 0 0 1 428.89 231.06L431.07 236.33A66.3 66.3 0 0 0 430.04 236.77Z" fill="#c4c4c4"/>
<path d="M429.86 230.67A72 72 0 0 1 431 230.23L433.02 235.56A66.3 66.3 0 0 0 431.96 235.97Z" fill="#7a7a7a"/>
<path d="M432.87 229.55A72 72 0 0 1 434.21 229.1L435.97 234.53A66.3 66.3 0 0 0 434.74 234.94Z" fill="#555555"/>
<path d="M435.06 228.84A72 72 0 0 1 436.35 228.45L437.94 233.92A66.3 66.3 0 0 0 436.75 234.28Z" fill="#a0a0a0"/>
<path d="M438.11 227.96A72 72 0 0 1 439.32 227.65L440.67 233.19A66.3 66.3 0 0 0 439.56 233.48Z" fill="#d0d0d0"/>
<path d="M440.97 227.27A72 72 0 0 1 441.9 227.08L443.04 232.66A66.3 66.3 0 0 0 442.2 232.84Z" fill="#b8b8b8"/>
<path d="M431.59 230.01A72 72 0 0 1 432.09 229.83L434.01 235.19A66.3 66.3 0 0 0 433.55 235.36Z" fill="#e0343f"/>
<path d="M446.05 226.35A72 72 0 0 1 453.24 225.67L453.49 231.36A66.3 66.3 0 0 0 446.87 231.99Z" fill="#ececec"/>
<path d="M446.29 226.31A72 72 0 0 1 446.77 226.25L447.54 231.9A66.3 66.3 0 0 0 447.09 231.96Z" fill="#d8d8d8"/>
<path d="M447.74 226.12A72 72 0 0 1 448.22 226.07L448.87 231.73A66.3 66.3 0 0 0 448.42 231.78Z" fill="#cfcfcf"/>
<path d="M448.71 226.01A72 72 0 0 1 449.43 225.94L449.98 231.61A66.3 66.3 0 0 0 449.31 231.68Z" fill="#c8c8c8"/>
<path d="M450.89 225.81A72 72 0 0 1 451.49 225.77L451.88 231.45A66.3 66.3 0 0 0 451.32 231.49Z" fill="#dadada"/>
<path d="M447.29 226.18A72 72 0 0 1 447.82 226.11L448.5 231.77A66.3 66.3 0 0 0 448.01 231.83Z" fill="#e0343f"/>
</g>
<path d="M456.06 232.8A64.8 64.8 0 0 1 483.2 238.6L478.11 249.8A52.5 52.5 0 0 0 456.13 245.1Z" fill="#f2f2f2" stroke="#cbcbcb" stroke-width="0.5"/>
<path d="M456.14 247.2A50.4 50.4 0 0 1 477.24 251.71L472.61 261.91A39.2 39.2 0 0 0 456.19 258.4Z" fill="#f3f3f3" stroke="#cdcdcd" stroke-width="0.5"/>
<path d="M456.4 255.6A42 42 0 0 1 473.57 259.27" fill="none" stroke="#e0e0e0" stroke-width="0.4"/>
<path d="M456.4 250A47.6 47.6 0 0 1 475.86 254.16" fill="none" stroke="#e0e0e0" stroke-width="0.4"/>
<path d="M485.15 239.53A64.8 64.8 0 0 1 506.39 256.37L496.9 264.19A52.5 52.5 0 0 0 479.7 250.55Z" fill="#f2f2f2" stroke="#cbcbcb" stroke-width="0.5"/>
<path d="M478.76 252.43A50.4 50.4 0 0 1 495.28 265.53L486.64 272.66A39.2 39.2 0 0 0 473.79 262.47Z" fill="#f3f3f3" stroke="#cdcdcd" stroke-width="0.5"/>
<path d="M475.23 260.06A42 42 0 0 1 488.66 270.71" fill="none" stroke="#e0e0e0" stroke-width="0.4"/>
<path d="M477.74 255.05A47.6 47.6 0 0 1 492.96 267.12" fill="none" stroke="#e0e0e0" stroke-width="0.4"/>
<path d="M507.74 258.06A64.8 64.8 0 0 1 518.09 277.75L506.38 281.52A52.5 52.5 0 0 0 497.99 265.57Z" fill="#f2f2f2" stroke="#cbcbcb" stroke-width="0.5"/>
<path d="M496.33 266.85A50.4 50.4 0 0 1 504.38 282.16L493.72 285.59A39.2 39.2 0 0 0 487.46 273.68Z" fill="#f3f3f3" stroke="#cdcdcd" stroke-width="0.5"/>
<path d="M489.81 272.15A42 42 0 0 1 496.31 284.53" fill="none" stroke="#e0e0e0" stroke-width="0.4"/>
<path d="M494.26 268.75A47.6 47.6 0 0 1 501.64 282.78" fill="none" stroke="#e0e0e0" stroke-width="0.4"/>
<path d="M518.71 279.83A64.8 64.8 0 0 1 521.1 301.2L508.82 300.51A52.5 52.5 0 0 0 506.89 283.2Z" fill="#f2f2f2" stroke="#cbcbcb" stroke-width="0.5"/>
<path d="M504.87 283.78A50.4 50.4 0 0 1 506.72 300.4L495.54 299.78A39.2 39.2 0 0 0 494.1 286.85Z" fill="#f3f3f3" stroke="#cdcdcd" stroke-width="0.5"/>
<path d="M496.85 286.29A42 42 0 0 1 498.35 299.71" fill="none" stroke="#e0e0e0" stroke-width="0.4"/>
<path d="M502.24 284.78A47.6 47.6 0 0 1 503.94 299.99" fill="none" stroke="#e0e0e0" stroke-width="0.4"/>
<path d="M520.94 303.36A64.8 64.8 0 0 1 515.96 323.14L504.65 318.29A52.5 52.5 0 0 0 508.69 302.26Z" fill="#f2f2f2" stroke="#cbcbcb" stroke-width="0.5"/>
<path d="M506.6 302.08A50.4 50.4 0 0 1 502.72 317.46L492.43 313.05A39.2 39.2 0 0 0 495.44 301.08Z" fill="#f3f3f3" stroke="#cdcdcd" stroke-width="0.5"/>
<path d="M498.21 301.55A42 42 0 0 1 495.09 313.95" fill="none" stroke="#e0e0e0" stroke-width="0.4"/>
<path d="M503.79 302.08A47.6 47.6 0 0 1 500.25 316.13" fill="none" stroke="#e0e0e0" stroke-width="0.4"/>
<path d="M515.07 325.11A64.8 64.8 0 0 1 504.34 341.2L495.24 332.92A52.5 52.5 0 0 0 503.93 319.89Z" fill="#f2f2f2" stroke="#cbcbcb" stroke-width="0.5"/>
<path d="M502.03 319A50.4 50.4 0 0 1 493.69 331.51L485.4 323.97A39.2 39.2 0 0 0 491.89 314.24Z" fill="#f3f3f3" stroke="#cdcdcd" stroke-width="0.5"/>
<path d="M494.33 315.63A42 42 0 0 1 487.62 325.7" fill="none" stroke="#e0e0e0" stroke-width="0.4"/>
<path d="M499.39 318.03A47.6 47.6 0 0 1 491.78 329.44" fill="none" stroke="#e0e0e0" stroke-width="0.4"/>
<path d="M502.86 342.78A64.8 64.8 0 0 1 488.6 353.83L482.49 343.16A52.5 52.5 0 0 0 494.04 334.2Z" fill="#f2f2f2" stroke="#cbcbcb" stroke-width="0.5"/>
<path d="M492.53 332.74A50.4 50.4 0 0 1 481.45 341.34L475.88 331.62A39.2 39.2 0 0 0 484.5 324.93Z" fill="#f3f3f3" stroke="#cdcdcd" stroke-width="0.5"/>
<path d="M486.36 327.04A42 42 0 0 1 477.46 333.94" fill="none" stroke="#e0e0e0" stroke-width="0.4"/>
<path d="M490.35 330.96A47.6 47.6 0 0 1 480.27 338.78" fill="none" stroke="#e0e0e0" stroke-width="0.4"/>
<path d="M486.71 354.88A64.8 64.8 0 0 1 471.1 360.71L468.31 348.73A52.5 52.5 0 0 0 480.95 344Z" fill="#f2f2f2" stroke="#cbcbcb" stroke-width="0.5"/>
<path d="M479.97 342.15A50.4 50.4 0 0 1 467.83 346.69L465.29 335.78A39.2 39.2 0 0 0 474.73 332.25Z" fill="#f3f3f3" stroke="#cdcdcd" stroke-width="0.5"/>
<path d="M475.85 334.83A42 42 0 0 1 466.14 338.45" fill="none" stroke="#e0e0e0" stroke-width="0.4"/>
<path d="M478.44 339.79A47.6 47.6 0 0 1 467.44 343.9" fill="none" stroke="#e0e0e0" stroke-width="0.4"/>
<path d="M468.98 361.17A64.8 64.8 0 0 1 452.93 362.31L453.59 350.02A52.5 52.5 0 0 0 466.6 349.1Z" fill="#f2f2f2" stroke="#cbcbcb" stroke-width="0.5"/>
<path d="M466.19 347.04A50.4 50.4 0 0 1 453.7 347.93L454.3 336.74A39.2 39.2 0 0 0 464.01 336.05Z" fill="#f3f3f3" stroke="#cdcdcd" stroke-width="0.5"/>
<path d="M464.34 338.84A42 42 0 0 1 454.37 339.55" fill="none" stroke="#e0e0e0" stroke-width="0.4"/>
<path d="M465.4 344.34A47.6 47.6 0 0 1 454.1 345.14" fill="none" stroke="#e0e0e0" stroke-width="0.4"/>
<path d="M450.77 362.15A64.8 64.8 0 0 1 435.62 358.98L439.57 347.33A52.5 52.5 0 0 0 451.84 349.9Z" fill="#f2f2f2" stroke="#cbcbcb" stroke-width="0.5"/>
<path d="M452.02 347.81A50.4 50.4 0 0 1 440.24 345.34L443.83 334.73A39.2 39.2 0 0 0 452.99 336.65Z" fill="#f3f3f3" stroke="#cdcdcd" stroke-width="0.5"/>
<path d="M452.53 339.42A42 42 0 0 1 443.14 337.45" fill="none" stroke="#e0e0e0" stroke-width="0.4"/>
<path d="M452.02 345A47.6 47.6 0 0 1 441.37 342.77" fill="none" stroke="#e0e0e0" stroke-width="0.4"/>
<path d="M433.58 358.25A64.8 64.8 0 0 1 419.9 351.14L426.83 340.98A52.5 52.5 0 0 0 437.91 346.74Z" fill="#f2f2f2" stroke="#cbcbcb" stroke-width="0.5"/>
<path d="M438.65 344.77A50.4 50.4 0 0 1 428.01 339.24L434.32 329.99A39.2 39.2 0 0 0 442.6 334.29Z" fill="#f3f3f3" stroke="#cdcdcd" stroke-width="0.5"/>
<path d="M441.41 336.83A42 42 0 0 1 432.92 332.43" fill="none" stroke="#e0e0e0" stroke-width="0.4"/>
<path d="M439.41 342.06A47.6 47.6 0 0 1 429.79 337.07" fill="none" stroke="#e0e0e0" stroke-width="0.4"/>
<path d="M418.13 349.89A64.8 64.8 0 0 1 406.94 339.46L416.33 331.52A52.5 52.5 0 0 0 425.39 339.97Z" fill="#f2f2f2" stroke="#cbcbcb" stroke-width="0.5"/>
<path d="M426.63 338.27A50.4 50.4 0 0 1 417.93 330.16L426.48 322.93A39.2 39.2 0 0 0 433.25 329.23Z" fill="#f3f3f3" stroke="#cdcdcd" stroke-width="0.5"/>
<path d="M431.42 331.36A42 42 0 0 1 424.48 324.9" fill="none" stroke="#e0e0e0" stroke-width="0.4"/>
<path d="M428.09 335.86A47.6 47.6 0 0 1 420.23 328.54" fill="none" stroke="#e0e0e0" stroke-width="0.4"/>
<path d="M405.57 337.79A64.8 64.8 0 0 1 398.45 326.59L409.45 321.09A52.5 52.5 0 0 0 415.22 330.16Z" fill="#f2f2f2" stroke="#cbcbcb" stroke-width="0.5"/>
<path d="M416.86 328.86A50.4 50.4 0 0 1 411.33 320.15L421.34 315.14A39.2 39.2 0 0 0 425.65 321.91Z" fill="#f3f3f3" stroke="#cdcdcd" stroke-width="0.5"/>
<path d="M423.32 323.48A42 42 0 0 1 418.94 316.59" fill="none" stroke="#e0e0e0" stroke-width="0.4"/>
<path d="M418.91 326.93A47.6 47.6 0 0 1 413.94 319.12" fill="none" stroke="#e0e0e0" stroke-width="0.4"/>
<path d="M397.51 324.64A64.8 64.8 0 0 1 393.44 312.92L405.39 310.01A52.5 52.5 0 0 0 408.69 319.51Z" fill="#f2f2f2" stroke="#cbcbcb" stroke-width="0.5"/>
<path d="M410.6 318.63A50.4 50.4 0 0 1 407.43 309.51L418.31 306.87A39.2 39.2 0 0 0 420.78 313.96Z" fill="#f3f3f3" stroke="#cdcdcd" stroke-width="0.5"/>
<path d="M418.14 314.93A42 42 0 0 1 415.64 307.74" fill="none" stroke="#e0e0e0" stroke-width="0.4"/>
<path d="M413.04 317.24A47.6 47.6 0 0 1 410.21 309.09" fill="none" stroke="#e0e0e0" stroke-width="0.4"/>
<path d="M392.96 310.81A64.8 64.8 0 0 1 391.62 299L403.91 298.73A52.5 52.5 0 0 0 405 308.3Z" fill="#f2f2f2" stroke="#cbcbcb" stroke-width="0.5"/>
<path d="M407.06 307.87A50.4 50.4 0 0 1 406.01 298.69L417.21 298.45A39.2 39.2 0 0 0 418.02 305.59Z" fill="#f3f3f3" stroke="#cdcdcd" stroke-width="0.5"/>
<path d="M415.24 305.94A42 42 0 0 1 414.42 298.73" fill="none" stroke="#e0e0e0" stroke-width="0.4"/>
<path d="M409.75 307.06A47.6 47.6 0 0 1 408.82 298.88" fill="none" stroke="#e0e0e0" stroke-width="0.4"/>
<path d="M391.6 296.83A64.8 64.8 0 0 1 392.59 286.32L404.7 288.46A52.5 52.5 0 0 0 403.9 296.98Z" fill="#f2f2f2" stroke="#cbcbcb" stroke-width="0.5"/>
<path d="M406 297A50.4 50.4 0 0 1 406.77 288.83L417.8 290.78A39.2 39.2 0 0 0 417.2 297.14Z" fill="#f3f3f3" stroke="#cdcdcd" stroke-width="0.5"/>
<path d="M414.41 296.88A42 42 0 0 1 415 290.51" fill="none" stroke="#e0e0e0" stroke-width="0.4"/>
<path d="M408.81 296.79A47.6 47.6 0 0 1 409.48 289.56" fill="none" stroke="#e0e0e0" stroke-width="0.4"/>
<path d="M393 284.2A64.8 64.8 0 0 1 395.66 275.01L407.19 279.3A52.5 52.5 0 0 0 405.04 286.74Z" fill="#f2f2f2" stroke="#cbcbcb" stroke-width="0.5"/>
<path d="M407.09 287.17A50.4 50.4 0 0 1 409.16 280.03L419.66 283.94A39.2 39.2 0 0 0 418.05 289.49Z" fill="#f3f3f3" stroke="#cdcdcd" stroke-width="0.5"/>
<path d="M415.35 288.7A42 42 0 0 1 416.96 283.17" fill="none" stroke="#e0e0e0" stroke-width="0.4"/>
<path d="M409.88 287.51A47.6 47.6 0 0 1 411.7 281.24" fill="none" stroke="#e0e0e0" stroke-width="0.4"/>
<path d="M396.45 273A64.8 64.8 0 0 1 400.55 264.74L411.15 270.98A52.5 52.5 0 0 0 407.83 277.67Z" fill="#f2f2f2" stroke="#cbcbcb" stroke-width="0.5"/>
<path d="M409.77 278.46A50.4 50.4 0 0 1 412.96 272.04L422.61 277.72A39.2 39.2 0 0 0 420.14 282.72Z" fill="#f3f3f3" stroke="#cdcdcd" stroke-width="0.5"/>
<path d="M417.63 281.45A42 42 0 0 1 420.09 276.49" fill="none" stroke="#e0e0e0" stroke-width="0.4"/>
<path d="M412.46 279.3A47.6 47.6 0 0 1 415.25 273.68" fill="none" stroke="#e0e0e0" stroke-width="0.4"/>
<path d="M401.68 262.89A64.8 64.8 0 0 1 405.83 257.08L415.43 264.77A52.5 52.5 0 0 0 412.07 269.48Z" fill="#f2f2f2" stroke="#cbcbcb" stroke-width="0.5"/>
<path d="M413.84 270.6A50.4 50.4 0 0 1 417.07 266.08L425.81 273.09A39.2 39.2 0 0 0 423.3 276.6Z" fill="#f3f3f3" stroke="#cdcdcd" stroke-width="0.5"/>
<path d="M421.05 274.92A42 42 0 0 1 423.49 271.51" fill="none" stroke="#e0e0e0" stroke-width="0.4"/>
<path d="M416.34 271.89A47.6 47.6 0 0 1 419.1 268.03" fill="none" stroke="#e0e0e0" stroke-width="0.4"/>
<path d="M407.22 255.41A64.8 64.8 0 0 1 412.47 249.96L420.81 259A52.5 52.5 0 0 0 416.55 263.42Z" fill="#f2f2f2" stroke="#cbcbcb" stroke-width="0.5"/>
<path d="M418.15 264.79A50.4 50.4 0 0 1 422.24 260.55L429.83 268.78A39.2 39.2 0 0 0 426.65 272.08Z" fill="#f3f3f3" stroke="#cdcdcd" stroke-width="0.5"/>
<path d="M424.67 270.09A42 42 0 0 1 427.77 266.87" fill="none" stroke="#e0e0e0" stroke-width="0.4"/>
<path d="M420.43 266.42A47.6 47.6 0 0 1 423.95 262.78" fill="none" stroke="#e0e0e0" stroke-width="0.4"/>
<path d="M414.09 248.52A64.8 64.8 0 0 1 418.76 244.85L425.91 254.86A52.5 52.5 0 0 0 422.12 257.84Z" fill="#f2f2f2" stroke="#cbcbcb" stroke-width="0.5"/>
<path d="M423.49 259.43A50.4 50.4 0 0 1 427.13 256.57L433.63 265.69A39.2 39.2 0 0 0 430.8 267.91Z" fill="#f3f3f3" stroke="#cdcdcd" stroke-width="0.5"/>
<path d="M429.14 265.65A42 42 0 0 1 431.83 263.54" fill="none" stroke="#e0e0e0" stroke-width="0.4"/>
<path d="M425.51 261.38A47.6 47.6 0 0 1 428.55 259" fill="none" stroke="#e0e0e0" stroke-width="0.4"/>
<path d="M420.55 243.62A64.8 64.8 0 0 1 425.95 240.4L431.73 251.26A52.5 52.5 0 0 0 427.35 253.87Z" fill="#f2f2f2" stroke="#cbcbcb" stroke-width="0.5"/>
<path d="M428.51 255.62A50.4 50.4 0 0 1 432.72 253.11L437.98 263A39.2 39.2 0 0 0 434.71 264.95Z" fill="#f3f3f3" stroke="#cdcdcd" stroke-width="0.5"/>
<path d="M433.35 262.49A42 42 0 0 1 436.47 260.63" fill="none" stroke="#e0e0e0" stroke-width="0.4"/>
<path d="M430.27 257.81A47.6 47.6 0 0 1 433.81 255.7" fill="none" stroke="#e0e0e0" stroke-width="0.4"/>
<path d="M427.88 239.41A64.8 64.8 0 0 1 444.61 233.88L446.85 245.98A52.5 52.5 0 0 0 433.29 250.46Z" fill="#f2f2f2" stroke="#cbcbcb" stroke-width="0.5"/>
<path d="M434.22 252.34A50.4 50.4 0 0 1 447.23 248.04L449.27 259.05A39.2 39.2 0 0 0 439.15 262.4Z" fill="#f3f3f3" stroke="#cdcdcd" stroke-width="0.5"/>
<path d="M438.11 259.79A42 42 0 0 1 448.54 256.34" fill="none" stroke="#e0e0e0" stroke-width="0.4"/>
<path d="M435.67 254.75A47.6 47.6 0 0 1 447.5 250.84" fill="none" stroke="#e0e0e0" stroke-width="0.4"/>
<path d="M446.75 233.52A64.8 64.8 0 0 1 453.9 232.85L454.37 245.14A52.5 52.5 0 0 0 448.58 245.69Z" fill="#f2f2f2" stroke="#cbcbcb" stroke-width="0.5"/>
<path d="M448.89 247.76A50.4 50.4 0 0 1 454.45 247.24L454.89 258.43A39.2 39.2 0 0 0 450.56 258.84Z" fill="#f3f3f3" stroke="#cdcdcd" stroke-width="0.5"/>
<path d="M450.36 256.04A42 42 0 0 1 454.56 255.64" fill="none" stroke="#e0e0e0" stroke-width="0.4"/>
<path d="M449.56 250.49A47.6 47.6 0 0 1 454.31 250.05" fill="none" stroke="#e0e0e0" stroke-width="0.4"/>
<path d="M456.66 248.1A49.5 49.5 0 0 1 476.4 252.32" fill="none" stroke="#8a5a78" stroke-width="0.6"/>
<path d="M478.83 253.47A49.5 49.5 0 0 1 494.26 265.7" fill="none" stroke="#8a5a78" stroke-width="0.6"/>
<path d="M495.93 267.81A49.5 49.5 0 0 1 503.36 281.95" fill="none" stroke="#8a5a78" stroke-width="0.6"/>
<path d="M504.14 284.52A49.5 49.5 0 0 1 505.85 299.83" fill="none" stroke="#8a5a78" stroke-width="0.6"/>
<path d="M505.66 302.51A49.5 49.5 0 0 1 502.1 316.63" fill="none" stroke="#8a5a78" stroke-width="0.6"/>
<path d="M501 319.09A49.5 49.5 0 0 1 493.37 330.52" fill="none" stroke="#8a5a78" stroke-width="0.6"/>
<path d="M491.53 332.48A49.5 49.5 0 0 1 481.45 340.3" fill="none" stroke="#8a5a78" stroke-width="0.6"/>
<path d="M479.09 341.6A49.5 49.5 0 0 1 468.14 345.69" fill="none" stroke="#8a5a78" stroke-width="0.6"/>
<path d="M465.5 346.26A49.5 49.5 0 0 1 454.27 347.06" fill="none" stroke="#8a5a78" stroke-width="0.6"/>
<path d="M451.58 346.87A49.5 49.5 0 0 1 441.02 344.65" fill="none" stroke="#8a5a78" stroke-width="0.6"/>
<path d="M438.49 343.75A49.5 49.5 0 0 1 428.94 338.79" fill="none" stroke="#8a5a78" stroke-width="0.6"/>
<path d="M426.75 337.24A49.5 49.5 0 0 1 418.95 329.98" fill="none" stroke="#8a5a78" stroke-width="0.6"/>
<path d="M417.25 327.89A49.5 49.5 0 0 1 412.36 320.21" fill="none" stroke="#8a5a78" stroke-width="0.6"/>
<path d="M411.2 317.79A49.5 49.5 0 0 1 408.42 309.8" fill="none" stroke="#8a5a78" stroke-width="0.6"/>
<path d="M407.83 307.18A49.5 49.5 0 0 1 406.92 299.19" fill="none" stroke="#8a5a78" stroke-width="0.6"/>
<path d="M406.91 296.5A49.5 49.5 0 0 1 407.56 289.49" fill="none" stroke="#8a5a78" stroke-width="0.6"/>
<path d="M408.08 286.85A49.5 49.5 0 0 1 409.82 280.83" fill="none" stroke="#8a5a78" stroke-width="0.6"/>
<path d="M410.8 278.33A49.5 49.5 0 0 1 413.47 272.94" fill="none" stroke="#8a5a78" stroke-width="0.6"/>
<path d="M414.88 270.65A49.5 49.5 0 0 1 417.45 267.05" fill="none" stroke="#8a5a78" stroke-width="0.6"/>
<path d="M419.17 264.98A49.5 49.5 0 0 1 422.46 261.56" fill="none" stroke="#8a5a78" stroke-width="0.6"/>
<path d="M424.47 259.77A49.5 49.5 0 0 1 427.23 257.6" fill="none" stroke="#8a5a78" stroke-width="0.6"/>
<path d="M429.44 256.08A49.5 49.5 0 0 1 432.68 254.15" fill="none" stroke="#8a5a78" stroke-width="0.6"/>
<path d="M435.08 252.92A49.5 49.5 0 0 1 446.89 249.02" fill="none" stroke="#8a5a78" stroke-width="0.6"/>
<path d="M450.78 257.45A40.54 40.54 0 0 1 454.41 257.1" fill="none" stroke="#a0607a" stroke-width="0.6"/>
<circle cx="456.4" cy="297.6" r="36.9" fill="none" stroke="#ecb8d2" stroke-width="0.85"/>
<text x="472.62" y="221.71" transform="rotate(12.06 472.62 221.71)" class="cl" style="font-size:4px">1</text>
<text x="504.61" y="236.8" transform="rotate(38.41 504.61 236.8)" class="cl" style="font-size:4px">2</text>
<text x="525.09" y="261.51" transform="rotate(62.28 525.09 261.51)" class="cl" style="font-size:4px">3</text>
<text x="533.52" y="288.99" transform="rotate(83.63 533.52 288.99)" class="cl" style="font-size:4px">4</text>
<text x="531.64" y="316.57" transform="rotate(104.15 531.64 316.57)" class="cl" style="font-size:4px">5</text>
<text x="520.96" y="340.66" transform="rotate(123.7 520.96 340.66)" class="cl" style="font-size:4px">6</text>
<text x="503.96" y="358.92" transform="rotate(142.2 503.96 358.92)" class="cl" style="font-size:4px">7</text>
<text x="483.57" y="370.29" transform="rotate(159.5 483.57 370.29)" class="cl" style="font-size:4px">8</text>
<text x="461.9" y="375" transform="rotate(175.94 461.9 375)" class="cl" style="font-size:4px">9</text>
<text x="440.47" y="373.55" transform="rotate(191.84 440.47 373.55)" class="cl" style="font-size:4px">10</text>
<text x="420.63" y="366.46" transform="rotate(207.45 420.63 366.46)" class="cl" style="font-size:4px">11</text>
<text x="403.5" y="354.37" transform="rotate(222.98 403.5 354.37)" class="cl" style="font-size:4px">12</text>
<text x="390.92" y="339.24" transform="rotate(237.55 390.92 339.24)" class="cl" style="font-size:4px">13</text>
<text x="383.1" y="323.08" transform="rotate(250.83 383.1 323.08)" class="cl" style="font-size:4px">14</text>
<text x="379.3" y="306.38" transform="rotate(263.5 379.3 306.38)" class="cl" style="font-size:4px">15</text>
<text x="379.14" y="290.36" transform="rotate(275.35 379.14 290.36)" class="cl" style="font-size:4px">16</text>
<text x="381.87" y="275.99" transform="rotate(286.17 381.87 275.99)" class="cl" style="font-size:4px">17</text>
<text x="386.89" y="263.1" transform="rotate(296.39 386.89 263.1)" class="cl" style="font-size:4px">18</text>
<text x="393.26" y="252.48" transform="rotate(305.55 393.26 252.48)" class="cl" style="font-size:4px">19</text>
<text x="400.55" y="243.72" transform="rotate(313.97 400.55 243.72)" class="cl" style="font-size:4px">20</text>
<text x="408.48" y="236.56" transform="rotate(321.86 408.48 236.56)" class="cl" style="font-size:4px">21</text>
<text x="416.65" y="230.95" transform="rotate(329.19 416.65 230.95)" class="cl" style="font-size:4px">22</text>
<text x="432.04" y="223.92" transform="rotate(341.7 432.04 223.92)" class="cl" style="font-size:4px">X</text>
<text x="449.11" y="220.34" transform="rotate(354.61 449.11 220.34)" class="cl" style="font-size:4px">Y</text>
<rect x="413.05" y="252.75" width="1.5" height="1.5" fill="#f4875a"/>
<rect x="422.55" y="241.85" width="1.5" height="1.5" fill="#2aa6a0"/>
<rect x="490.25" y="243.95" width="1.5" height="1.5" fill="#2aa6a0"/>
<rect x="510.25" y="268.75" width="1.5" height="1.5" fill="#f4875a"/>
<rect x="515.95" y="309.35" width="1.5" height="1.5" fill="#f4875a"/>
<rect x="518.05" y="309.75" width="1.5" height="1.5" fill="#2aa6a0"/>
<rect x="504.65" y="333.95" width="1.5" height="1.5" fill="#f4875a"/>
<rect x="491.05" y="347.45" width="1.5" height="1.5" fill="#f4875a"/>
<rect x="482.05" y="352.45" width="1.5" height="1.5" fill="#f4875a"/>
<rect x="474.35" y="355.55" width="1.5" height="1.5" fill="#f4875a"/>
<rect x="461.95" y="353.65" width="1.5" height="1.5" fill="#9a9af2"/>
<rect x="461.95" y="358.55" width="1.5" height="1.5" fill="#f4875a"/>
<rect x="424.75" y="350.65" width="1.5" height="1.5" fill="#f4875a"/>
<rect x="427.25" y="351.65" width="1.5" height="1.5" fill="#f4875a"/>
<rect x="408.45" y="336.75" width="1.5" height="1.5" fill="#f4875a"/>
<rect x="403.15" y="329.55" width="1.5" height="1.5" fill="#f4875a"/>
<rect x="394.75" y="313.95" width="1.5" height="1.5" fill="#2aa6a0"/>
<rect x="400.85" y="313.05" width="1.5" height="1.5" fill="#9a9af2"/>
<path d="M437.15 266.12Q456.4 297.6 436.77 328.84" fill="none" stroke="#e2a6c6" stroke-width="0.8"/>
<text x="466.6" y="286.2" class="lab" text-anchor="middle" style="font-size:9.4px" textLength="37.8" lengthAdjust="spacingAndGlyphs">Carrier of</text>
<text x="466.6" y="298.4" class="lab" text-anchor="middle" style="font-size:9.4px" textLength="35.5" lengthAdjust="spacingAndGlyphs">balanced</text>
<text x="466.3" y="310.2" class="lab" text-anchor="middle" style="font-size:9.4px" textLength="32.2" lengthAdjust="spacingAndGlyphs">t(11;22)</text>
<rect x="215.1" y="11.5" width="331" height="53.4" fill="#fff" stroke="#999" stroke-width="1"/>
<text x="381.2" y="8.4" class="t" text-anchor="middle" style="font-size:6.3px" textLength="58.4" lengthAdjust="spacingAndGlyphs">Genome Browser View</text>
<text x="258.6" y="18.1" text-anchor="middle" style="font-size:2.2px;fill:#777">1</text>
<text x="271.82" y="18.1" text-anchor="middle" style="font-size:2.2px;fill:#777">5000K</text>
<text x="285.04" y="18.1" text-anchor="middle" style="font-size:2.2px;fill:#777">10000K</text>
<text x="298.26" y="18.1" text-anchor="middle" style="font-size:2.2px;fill:#777">15000K</text>
<text x="311.48" y="18.1" text-anchor="middle" style="font-size:2.2px;fill:#777">20000K</text>
<text x="324.7" y="18.1" text-anchor="middle" style="font-size:2.2px;fill:#777">25000K</text>
<text x="337.92" y="18.1" text-anchor="middle" style="font-size:2.2px;fill:#777">30000K</text>
<text x="351.14" y="18.1" text-anchor="middle" style="font-size:2.2px;fill:#777">35000K</text>
<text x="364.36" y="18.1" text-anchor="middle" style="font-size:2.2px;fill:#777">40000K</text>
<text x="377.58" y="18.1" text-anchor="middle" style="font-size:2.2px;fill:#777">45000K</text>
<text x="390.8" y="18.1" text-anchor="middle" style="font-size:2.2px;fill:#777">50000K</text>
<text x="404.02" y="18.1" text-anchor="middle" style="font-size:2.2px;fill:#777">55000K</text>
<text x="417.24" y="18.1" text-anchor="middle" style="font-size:2.2px;fill:#777">60000K</text>
<text x="430.46" y="18.1" text-anchor="middle" style="font-size:2.2px;fill:#777">65000K</text>
<text x="443.68" y="18.1" text-anchor="middle" style="font-size:2.2px;fill:#777">70000K</text>
<text x="456.9" y="18.1" text-anchor="middle" style="font-size:2.2px;fill:#777">75000K</text>
<text x="470.12" y="18.1" text-anchor="middle" style="font-size:2.2px;fill:#777">80000K</text>
<text x="483.34" y="18.1" text-anchor="middle" style="font-size:2.2px;fill:#777">85000K</text>
<text x="496.56" y="18.1" text-anchor="middle" style="font-size:2.2px;fill:#777">90000K</text>
<text x="509.78" y="18.1" text-anchor="middle" style="font-size:2.2px;fill:#777">95000K</text>
<text x="523" y="18.1" text-anchor="middle" style="font-size:2.2px;fill:#777">100000K</text>
<text x="536.22" y="18.1" text-anchor="middle" style="font-size:2.2px;fill:#777">105000K</text>
<line x1="263.7" y1="19.5" x2="281.2" y2="19.5" stroke="#cfcfcf" stroke-width="0.48999999999999994"/>
<line x1="282.6" y1="19.5" x2="289.9" y2="19.5" stroke="#aaaaaa" stroke-width="0.48999999999999994"/>
<line x1="303.7" y1="19.5" x2="313.9" y2="19.5" stroke="#2a2a2a" stroke-width="0.7"/>
<line x1="314.6" y1="19.5" x2="323.4" y2="19.5" stroke="#9a9a9a" stroke-width="0.48999999999999994"/>
<line x1="335.5" y1="19.5" x2="349.1" y2="19.5" stroke="#2a2a2a" stroke-width="0.7"/>
<line x1="361.8" y1="19.5" x2="366.4" y2="19.5" stroke="#bbb" stroke-width="0.48999999999999994"/>
<line x1="366.4" y1="19.5" x2="375.5" y2="19.5" stroke="#e05050" stroke-width="0.63"/>
<line x1="375.5" y1="19.5" x2="383.6" y2="19.5" stroke="#bbb" stroke-width="0.48999999999999994"/>
<line x1="388" y1="19.5" x2="391.8" y2="19.5" stroke="#ccc" stroke-width="0.42"/>
<line x1="397" y1="19.5" x2="401.8" y2="19.5" stroke="#ccc" stroke-width="0.42"/>
<line x1="405.8" y1="19.5" x2="416" y2="19.5" stroke="#cfcfcf" stroke-width="0.48999999999999994"/>
<line x1="421.1" y1="19.5" x2="438.5" y2="19.5" stroke="#333" stroke-width="0.7"/>
<line x1="444.4" y1="19.5" x2="453.8" y2="19.5" stroke="#333" stroke-width="0.7"/>
<line x1="463.3" y1="19.5" x2="473.5" y2="19.5" stroke="#333" stroke-width="0.7"/>
<line x1="474.9" y1="19.5" x2="490.3" y2="19.5" stroke="#333" stroke-width="0.7"/>
<line x1="495" y1="19.5" x2="499" y2="19.5" stroke="#bbb" stroke-width="0.42"/>
<line x1="502.9" y1="19.5" x2="504.5" y2="19.5" stroke="#e05050" stroke-width="0.63"/>
<line x1="510" y1="19.5" x2="518" y2="19.5" stroke="#ccc" stroke-width="0.42"/>
<line x1="524" y1="19.5" x2="531" y2="19.5" stroke="#ccc" stroke-width="0.42"/>
<line x1="409" y1="31.3" x2="409" y2="38.4" stroke="#c8c8c8" stroke-width="0.35"/>
<line x1="411" y1="31.3" x2="411" y2="38.4" stroke="#c8c8c8" stroke-width="0.35"/>
<line x1="414" y1="31.3" x2="414" y2="38.4" stroke="#c8c8c8" stroke-width="0.35"/>
<line x1="417" y1="31.3" x2="417" y2="38.4" stroke="#c8c8c8" stroke-width="0.35"/>
<line x1="420" y1="31.3" x2="420" y2="38.4" stroke="#c8c8c8" stroke-width="0.35"/>
<line x1="424" y1="31.3" x2="424" y2="38.4" stroke="#c8c8c8" stroke-width="0.35"/>
<line x1="428" y1="31.3" x2="428" y2="38.4" stroke="#c8c8c8" stroke-width="0.35"/>
<line x1="431" y1="31.3" x2="431" y2="38.4" stroke="#c8c8c8" stroke-width="0.35"/>
<line x1="434" y1="31.3" x2="434" y2="38.4" stroke="#c8c8c8" stroke-width="0.35"/>
<line x1="438" y1="31.3" x2="438" y2="38.4" stroke="#c8c8c8" stroke-width="0.35"/>
<line x1="442" y1="31.3" x2="442" y2="38.4" stroke="#c8c8c8" stroke-width="0.35"/>
<line x1="446" y1="31.3" x2="446" y2="38.4" stroke="#c8c8c8" stroke-width="0.35"/>
<line x1="449" y1="31.3" x2="449" y2="38.4" stroke="#c8c8c8" stroke-width="0.35"/>
<line x1="452" y1="31.3" x2="452" y2="38.4" stroke="#c8c8c8" stroke-width="0.35"/>
<line x1="456" y1="31.3" x2="456" y2="38.4" stroke="#c8c8c8" stroke-width="0.35"/>
<line x1="459" y1="31.3" x2="459" y2="38.4" stroke="#c8c8c8" stroke-width="0.35"/>
<line x1="462" y1="31.3" x2="462" y2="38.4" stroke="#c8c8c8" stroke-width="0.35"/>
<line x1="466" y1="31.3" x2="466" y2="38.4" stroke="#c8c8c8" stroke-width="0.35"/>
<line x1="469" y1="31.3" x2="469" y2="38.4" stroke="#c8c8c8" stroke-width="0.35"/>
<line x1="472" y1="31.3" x2="472" y2="38.4" stroke="#c8c8c8" stroke-width="0.35"/>
<line x1="476" y1="31.3" x2="476" y2="38.4" stroke="#c8c8c8" stroke-width="0.35"/>
<line x1="479" y1="31.3" x2="479" y2="38.4" stroke="#c8c8c8" stroke-width="0.35"/>
<line x1="483" y1="31.3" x2="483" y2="38.4" stroke="#c8c8c8" stroke-width="0.35"/>
<line x1="486" y1="31.3" x2="486" y2="38.4" stroke="#c8c8c8" stroke-width="0.35"/>
<line x1="489" y1="31.3" x2="489" y2="38.4" stroke="#c8c8c8" stroke-width="0.35"/>
<line x1="493" y1="31.3" x2="493" y2="38.4" stroke="#c8c8c8" stroke-width="0.35"/>
<line x1="497" y1="31.3" x2="497" y2="38.4" stroke="#c8c8c8" stroke-width="0.35"/>
<line x1="276" y1="41.8" x2="277.75" y2="53.9" stroke="#c8c8c8" stroke-width="0.35"/>
<line x1="281" y1="41.8" x2="282.98" y2="53.9" stroke="#c8c8c8" stroke-width="0.35"/>
<line x1="287" y1="41.8" x2="289.09" y2="53.9" stroke="#c8c8c8" stroke-width="0.35"/>
<line x1="291" y1="41.8" x2="293.38" y2="53.9" stroke="#c8c8c8" stroke-width="0.35"/>
<line x1="296" y1="41.8" x2="297.98" y2="53.9" stroke="#c8c8c8" stroke-width="0.35"/>
<line x1="300" y1="41.8" x2="302.34" y2="53.9" stroke="#c8c8c8" stroke-width="0.35"/>
<line x1="305" y1="41.8" x2="305.56" y2="53.9" stroke="#c8c8c8" stroke-width="0.35"/>
<line x1="309" y1="41.8" x2="310.43" y2="53.9" stroke="#c8c8c8" stroke-width="0.35"/>
<line x1="312" y1="41.8" x2="314.39" y2="53.9" stroke="#c8c8c8" stroke-width="0.35"/>
<line x1="318" y1="41.8" x2="319.8" y2="53.9" stroke="#c8c8c8" stroke-width="0.35"/>
<line x1="322" y1="41.8" x2="324.3" y2="53.9" stroke="#c8c8c8" stroke-width="0.35"/>
<line x1="327" y1="41.8" x2="327.73" y2="53.9" stroke="#c8c8c8" stroke-width="0.35"/>
<line x1="331" y1="41.8" x2="332.44" y2="53.9" stroke="#c8c8c8" stroke-width="0.35"/>
<line x1="336" y1="41.8" x2="336.99" y2="53.9" stroke="#c8c8c8" stroke-width="0.35"/>
<line x1="340" y1="41.8" x2="341.59" y2="53.9" stroke="#c8c8c8" stroke-width="0.35"/>
<line x1="344" y1="41.8" x2="345.65" y2="53.9" stroke="#c8c8c8" stroke-width="0.35"/>
<line x1="349" y1="41.8" x2="349.53" y2="53.9" stroke="#c8c8c8" stroke-width="0.35"/>
<line x1="353" y1="41.8" x2="353.93" y2="53.9" stroke="#c8c8c8" stroke-width="0.35"/>
<line x1="358" y1="41.8" x2="359.06" y2="53.9" stroke="#c8c8c8" stroke-width="0.35"/>
<line x1="362" y1="41.8" x2="364.33" y2="53.9" stroke="#c8c8c8" stroke-width="0.35"/>
<line x1="366" y1="41.8" x2="368.03" y2="53.9" stroke="#c8c8c8" stroke-width="0.35"/>
<line x1="370" y1="41.8" x2="370.82" y2="53.9" stroke="#c8c8c8" stroke-width="0.35"/>
<line x1="374" y1="41.8" x2="376.09" y2="53.9" stroke="#c8c8c8" stroke-width="0.35"/>
<line x1="379" y1="41.8" x2="379.78" y2="53.9" stroke="#c8c8c8" stroke-width="0.35"/>
<line x1="383" y1="41.8" x2="384.73" y2="53.9" stroke="#c8c8c8" stroke-width="0.35"/>
<line x1="387" y1="41.8" x2="387.75" y2="53.9" stroke="#c8c8c8" stroke-width="0.35"/>
<line x1="390" y1="41.8" x2="390.5" y2="53.9" stroke="#c8c8c8" stroke-width="0.35"/>
<line x1="392.4" y1="41.6" x2="392.4" y2="53.9" stroke="#e0a0c8" stroke-width="0.45"/>
<line x1="406.4" y1="31.4" x2="406.4" y2="38.5" stroke="#e0a0c8" stroke-width="0.45"/>
<rect x="257.6" y="27.9" width="283.4" height="3.4" fill="#84c341"/>
<rect x="503.68" y="27.9" width="0.5" height="3.4" fill="#68a43a"/>
<rect x="318.45" y="27.9" width="0.89" height="3.4" fill="#68a43a"/>
<rect x="503.97" y="27.9" width="0.54" height="3.4" fill="#68a43a"/>
<rect x="529.12" y="27.9" width="0.67" height="3.4" fill="#68a43a"/>
<rect x="449.02" y="27.9" width="0.5" height="3.4" fill="#68a43a"/>
<rect x="523.33" y="27.9" width="0.75" height="3.4" fill="#68a43a"/>
<rect x="530.56" y="27.9" width="0.85" height="3.4" fill="#68a43a"/>
<rect x="341.98" y="27.9" width="0.58" height="3.4" fill="#68a43a"/>
<rect x="304.47" y="27.9" width="0.47" height="3.4" fill="#68a43a"/>
<rect x="276" y="27.9" width="0.55" height="3.4" fill="#68a43a"/>
<rect x="427.92" y="27.9" width="0.4" height="3.4" fill="#68a43a"/>
<rect x="449.05" y="27.9" width="0.57" height="3.4" fill="#68a43a"/>
<rect x="345.13" y="27.9" width="0.81" height="3.4" fill="#68a43a"/>
<rect x="393.36" y="27.9" width="0.56" height="3.4" fill="#68a43a"/>
<rect x="393.5" y="27.9" width="0.75" height="3.4" fill="#68a43a"/>
<rect x="273.7" y="27.9" width="0.89" height="3.4" fill="#68a43a"/>
<rect x="264.06" y="27.9" width="0.77" height="3.4" fill="#68a43a"/>
<rect x="496.19" y="27.9" width="0.41" height="3.4" fill="#68a43a"/>
<rect x="480.06" y="27.9" width="0.58" height="3.4" fill="#68a43a"/>
<rect x="420.97" y="27.9" width="0.4" height="3.4" fill="#68a43a"/>
<rect x="270.8" y="27.9" width="0.49" height="3.4" fill="#68a43a"/>
<rect x="527.34" y="27.9" width="0.5" height="3.4" fill="#68a43a"/>
<rect x="471.02" y="27.9" width="0.86" height="3.4" fill="#68a43a"/>
<rect x="523.63" y="27.9" width="0.57" height="3.4" fill="#68a43a"/>
<rect x="357.79" y="27.9" width="0.66" height="3.4" fill="#68a43a"/>
<rect x="476.63" y="27.9" width="0.45" height="3.4" fill="#68a43a"/>
<rect x="468.95" y="27.9" width="0.8" height="3.4" fill="#68a43a"/>
<rect x="500.38" y="27.9" width="0.42" height="3.4" fill="#68a43a"/>
<rect x="524.69" y="27.9" width="0.45" height="3.4" fill="#68a43a"/>
<rect x="353.83" y="27.9" width="0.71" height="3.4" fill="#68a43a"/>
<rect x="516.87" y="27.9" width="0.57" height="3.4" fill="#68a43a"/>
<rect x="518.59" y="27.9" width="0.67" height="3.4" fill="#68a43a"/>
<rect x="345.84" y="27.9" width="0.56" height="3.4" fill="#68a43a"/>
<rect x="307.72" y="27.9" width="0.44" height="3.4" fill="#68a43a"/>
<rect x="299.64" y="27.9" width="0.74" height="3.4" fill="#68a43a"/>
<rect x="539.08" y="27.9" width="0.48" height="3.4" fill="#68a43a"/>
<rect x="271.31" y="27.9" width="0.89" height="3.4" fill="#68a43a"/>
<rect x="408.27" y="27.9" width="0.6" height="3.4" fill="#68a43a"/>
<rect x="324.62" y="27.9" width="0.7" height="3.4" fill="#68a43a"/>
<rect x="490.95" y="27.9" width="0.63" height="3.4" fill="#68a43a"/>
<rect x="376.7" y="27.9" width="0.43" height="3.4" fill="#68a43a"/>
<rect x="516.3" y="27.9" width="0.42" height="3.4" fill="#68a43a"/>
<rect x="396.98" y="27.9" width="0.82" height="3.4" fill="#68a43a"/>
<rect x="294.47" y="27.9" width="0.77" height="3.4" fill="#68a43a"/>
<rect x="525.82" y="27.9" width="0.72" height="3.4" fill="#68a43a"/>
<rect x="480.13" y="27.9" width="0.45" height="3.4" fill="#68a43a"/>
<rect x="380.32" y="27.9" width="0.47" height="3.4" fill="#68a43a"/>
<rect x="496.15" y="27.9" width="0.55" height="3.4" fill="#68a43a"/>
<rect x="385.57" y="27.9" width="0.9" height="3.4" fill="#68a43a"/>
<rect x="498.28" y="27.9" width="0.89" height="3.4" fill="#68a43a"/>
<rect x="385.68" y="27.9" width="0.64" height="3.4" fill="#68a43a"/>
<rect x="463.61" y="27.9" width="0.64" height="3.4" fill="#68a43a"/>
<rect x="339.78" y="27.9" width="0.6" height="3.4" fill="#68a43a"/>
<rect x="298.97" y="27.9" width="0.59" height="3.4" fill="#68a43a"/>
<rect x="536.72" y="27.9" width="0.88" height="3.4" fill="#68a43a"/>
<rect x="434.65" y="27.9" width="0.65" height="3.4" fill="#68a43a"/>
<rect x="353.19" y="27.9" width="0.44" height="3.4" fill="#68a43a"/>
<rect x="334.5" y="27.9" width="0.79" height="3.4" fill="#68a43a"/>
<rect x="502.55" y="27.9" width="0.58" height="3.4" fill="#68a43a"/>
<rect x="479.57" y="27.9" width="0.79" height="3.4" fill="#68a43a"/>
<rect x="453.75" y="27.9" width="0.73" height="3.4" fill="#68a43a"/>
<rect x="472.12" y="27.9" width="0.58" height="3.4" fill="#68a43a"/>
<rect x="456.54" y="27.9" width="0.54" height="3.4" fill="#68a43a"/>
<rect x="394.76" y="27.9" width="0.78" height="3.4" fill="#68a43a"/>
<rect x="452.71" y="27.9" width="0.55" height="3.4" fill="#68a43a"/>
<rect x="524.62" y="27.9" width="0.72" height="3.4" fill="#68a43a"/>
<rect x="421.58" y="27.9" width="0.41" height="3.4" fill="#68a43a"/>
<rect x="412.07" y="27.9" width="0.53" height="3.4" fill="#68a43a"/>
<rect x="447.27" y="27.9" width="0.63" height="3.4" fill="#68a43a"/>
<rect x="488.23" y="27.9" width="0.72" height="3.4" fill="#68a43a"/>
<rect x="482.85" y="27.9" width="0.57" height="3.4" fill="#68a43a"/>
<rect x="439.48" y="27.9" width="0.77" height="3.4" fill="#68a43a"/>
<rect x="491.48" y="27.9" width="0.58" height="3.4" fill="#68a43a"/>
<rect x="495.63" y="27.9" width="0.83" height="3.4" fill="#68a43a"/>
<rect x="451.99" y="27.9" width="0.89" height="3.4" fill="#68a43a"/>
<rect x="527.72" y="27.9" width="0.66" height="3.4" fill="#68a43a"/>
<rect x="407.09" y="27.9" width="0.48" height="3.4" fill="#68a43a"/>
<rect x="493.86" y="27.9" width="0.87" height="3.4" fill="#68a43a"/>
<rect x="392.37" y="27.9" width="0.75" height="3.4" fill="#68a43a"/>
<rect x="460.84" y="27.9" width="0.77" height="3.4" fill="#68a43a"/>
<rect x="306.12" y="27.9" width="0.79" height="3.4" fill="#68a43a"/>
<rect x="421.63" y="27.9" width="0.73" height="3.4" fill="#68a43a"/>
<rect x="376.43" y="27.9" width="0.71" height="3.4" fill="#68a43a"/>
<rect x="476.38" y="27.9" width="0.72" height="3.4" fill="#68a43a"/>
<rect x="461.05" y="27.9" width="0.41" height="3.4" fill="#68a43a"/>
<rect x="302.79" y="27.9" width="0.62" height="3.4" fill="#68a43a"/>
<rect x="441.19" y="27.9" width="0.51" height="3.4" fill="#68a43a"/>
<rect x="451.31" y="27.9" width="0.72" height="3.4" fill="#68a43a"/>
<rect x="269.42" y="27.9" width="0.69" height="3.4" fill="#4f8a5a"/>
<rect x="321.49" y="27.9" width="0.52" height="3.4" fill="#4f8a5a"/>
<rect x="295.31" y="27.9" width="0.63" height="3.4" fill="#4f8a5a"/>
<rect x="308.87" y="27.9" width="0.58" height="3.4" fill="#4f8a5a"/>
<rect x="267.67" y="27.9" width="0.69" height="3.4" fill="#4f8a5a"/>
<rect x="365" y="27.9" width="0.74" height="3.4" fill="#4f8a5a"/>
<rect x="424.26" y="27.9" width="0.6" height="3.4" fill="#4f8a5a"/>
<rect x="512.66" y="27.9" width="0.5" height="3.4" fill="#4f8a5a"/>
<rect x="372.08" y="27.9" width="0.61" height="3.4" fill="#4f8a5a"/>
<rect x="257.6" y="53.9" width="283.4" height="3.4" fill="#84c341"/>
<rect x="373.4" y="53.9" width="0.46" height="3.4" fill="#68a43a"/>
<rect x="492.38" y="53.9" width="0.59" height="3.4" fill="#68a43a"/>
<rect x="267.78" y="53.9" width="0.71" height="3.4" fill="#68a43a"/>
<rect x="284.38" y="53.9" width="0.67" height="3.4" fill="#68a43a"/>
<rect x="353.44" y="53.9" width="0.69" height="3.4" fill="#68a43a"/>
<rect x="528.22" y="53.9" width="0.81" height="3.4" fill="#68a43a"/>
<rect x="375.95" y="53.9" width="0.81" height="3.4" fill="#68a43a"/>
<rect x="438.98" y="53.9" width="0.58" height="3.4" fill="#68a43a"/>
<rect x="297.73" y="53.9" width="0.7" height="3.4" fill="#68a43a"/>
<rect x="416.83" y="53.9" width="0.88" height="3.4" fill="#68a43a"/>
<rect x="530.96" y="53.9" width="0.7" height="3.4" fill="#68a43a"/>
<rect x="356.76" y="53.9" width="0.85" height="3.4" fill="#68a43a"/>
<rect x="257.87" y="53.9" width="0.45" height="3.4" fill="#68a43a"/>
<rect x="417.39" y="53.9" width="0.71" height="3.4" fill="#68a43a"/>
<rect x="297.33" y="53.9" width="0.71" height="3.4" fill="#68a43a"/>
<rect x="509.3" y="53.9" width="0.59" height="3.4" fill="#68a43a"/>
<rect x="379.51" y="53.9" width="0.51" height="3.4" fill="#68a43a"/>
<rect x="339.92" y="53.9" width="0.89" height="3.4" fill="#68a43a"/>
<rect x="364.85" y="53.9" width="0.88" height="3.4" fill="#68a43a"/>
<rect x="515.64" y="53.9" width="0.7" height="3.4" fill="#68a43a"/>
<rect x="330.97" y="53.9" width="0.89" height="3.4" fill="#68a43a"/>
<rect x="397.76" y="53.9" width="0.61" height="3.4" fill="#68a43a"/>
<rect x="347.73" y="53.9" width="0.89" height="3.4" fill="#68a43a"/>
<rect x="396.47" y="53.9" width="0.54" height="3.4" fill="#68a43a"/>
<rect x="392.29" y="53.9" width="0.46" height="3.4" fill="#68a43a"/>
<rect x="433.16" y="53.9" width="0.62" height="3.4" fill="#68a43a"/>
<rect x="340.37" y="53.9" width="0.79" height="3.4" fill="#68a43a"/>
<rect x="491.09" y="53.9" width="0.41" height="3.4" fill="#68a43a"/>
<rect x="408" y="53.9" width="0.54" height="3.4" fill="#68a43a"/>
<rect x="521.72" y="53.9" width="0.79" height="3.4" fill="#68a43a"/>
<rect x="326.97" y="53.9" width="0.53" height="3.4" fill="#68a43a"/>
<rect x="301.31" y="53.9" width="0.89" height="3.4" fill="#68a43a"/>
<rect x="340.4" y="53.9" width="0.7" height="3.4" fill="#68a43a"/>
<rect x="391.64" y="53.9" width="0.72" height="3.4" fill="#68a43a"/>
<rect x="428.13" y="53.9" width="0.77" height="3.4" fill="#68a43a"/>
<rect x="290.97" y="53.9" width="0.78" height="3.4" fill="#68a43a"/>
<rect x="342.51" y="53.9" width="0.67" height="3.4" fill="#68a43a"/>
<rect x="352.52" y="53.9" width="0.55" height="3.4" fill="#68a43a"/>
<rect x="407.23" y="53.9" width="0.63" height="3.4" fill="#68a43a"/>
<rect x="359.56" y="53.9" width="0.77" height="3.4" fill="#68a43a"/>
<rect x="424.44" y="53.9" width="0.42" height="3.4" fill="#68a43a"/>
<rect x="328.88" y="53.9" width="0.63" height="3.4" fill="#68a43a"/>
<rect x="516.44" y="53.9" width="0.84" height="3.4" fill="#68a43a"/>
<rect x="411.68" y="53.9" width="0.41" height="3.4" fill="#68a43a"/>
<rect x="477.42" y="53.9" width="0.61" height="3.4" fill="#68a43a"/>
<rect x="420.16" y="53.9" width="0.75" height="3.4" fill="#68a43a"/>
<rect x="436.14" y="53.9" width="0.64" height="3.4" fill="#68a43a"/>
<rect x="515.07" y="53.9" width="0.59" height="3.4" fill="#68a43a"/>
<rect x="368.26" y="53.9" width="0.83" height="3.4" fill="#68a43a"/>
<rect x="313.08" y="53.9" width="0.55" height="3.4" fill="#68a43a"/>
<rect x="492" y="53.9" width="0.43" height="3.4" fill="#68a43a"/>
<rect x="493.77" y="53.9" width="0.75" height="3.4" fill="#68a43a"/>
<rect x="379.83" y="53.9" width="0.54" height="3.4" fill="#68a43a"/>
<rect x="478.08" y="53.9" width="0.86" height="3.4" fill="#68a43a"/>
<rect x="297.89" y="53.9" width="0.64" height="3.4" fill="#68a43a"/>
<rect x="412.66" y="53.9" width="0.65" height="3.4" fill="#68a43a"/>
<rect x="351" y="53.9" width="0.48" height="3.4" fill="#68a43a"/>
<rect x="423.04" y="53.9" width="0.81" height="3.4" fill="#68a43a"/>
<rect x="276.92" y="53.9" width="0.52" height="3.4" fill="#68a43a"/>
<rect x="489.05" y="53.9" width="0.8" height="3.4" fill="#68a43a"/>
<rect x="445" y="53.9" width="0.41" height="3.4" fill="#68a43a"/>
<rect x="461.66" y="53.9" width="0.89" height="3.4" fill="#68a43a"/>
<rect x="539.53" y="53.9" width="0.75" height="3.4" fill="#68a43a"/>
<rect x="271.41" y="53.9" width="0.82" height="3.4" fill="#68a43a"/>
<rect x="319.51" y="53.9" width="0.72" height="3.4" fill="#68a43a"/>
<rect x="526.51" y="53.9" width="0.76" height="3.4" fill="#68a43a"/>
<rect x="295.62" y="53.9" width="0.55" height="3.4" fill="#68a43a"/>
<rect x="516.84" y="53.9" width="0.47" height="3.4" fill="#68a43a"/>
<rect x="430.04" y="53.9" width="0.61" height="3.4" fill="#68a43a"/>
<rect x="303.12" y="53.9" width="0.71" height="3.4" fill="#68a43a"/>
<rect x="269.9" y="53.9" width="0.45" height="3.4" fill="#68a43a"/>
<rect x="364.69" y="53.9" width="0.44" height="3.4" fill="#68a43a"/>
<rect x="273.86" y="53.9" width="0.69" height="3.4" fill="#68a43a"/>
<rect x="467.24" y="53.9" width="0.84" height="3.4" fill="#68a43a"/>
<rect x="295.54" y="53.9" width="0.62" height="3.4" fill="#68a43a"/>
<rect x="346.43" y="53.9" width="0.7" height="3.4" fill="#68a43a"/>
<rect x="395.86" y="53.9" width="0.87" height="3.4" fill="#68a43a"/>
<rect x="363.27" y="53.9" width="0.43" height="3.4" fill="#68a43a"/>
<rect x="454.52" y="53.9" width="0.48" height="3.4" fill="#68a43a"/>
<rect x="435.89" y="53.9" width="0.65" height="3.4" fill="#68a43a"/>
<rect x="514.7" y="53.9" width="0.68" height="3.4" fill="#68a43a"/>
<rect x="432.94" y="53.9" width="0.53" height="3.4" fill="#68a43a"/>
<rect x="413.39" y="53.9" width="0.53" height="3.4" fill="#68a43a"/>
<rect x="469.56" y="53.9" width="0.66" height="3.4" fill="#68a43a"/>
<rect x="295.38" y="53.9" width="0.52" height="3.4" fill="#68a43a"/>
<rect x="362.43" y="53.9" width="0.77" height="3.4" fill="#68a43a"/>
<rect x="308.24" y="53.9" width="0.76" height="3.4" fill="#68a43a"/>
<rect x="442.58" y="53.9" width="0.44" height="3.4" fill="#68a43a"/>
<rect x="446.23" y="53.9" width="0.54" height="3.4" fill="#4f8a5a"/>
<rect x="292.84" y="53.9" width="0.74" height="3.4" fill="#4f8a5a"/>
<rect x="324.98" y="53.9" width="0.85" height="3.4" fill="#4f8a5a"/>
<rect x="393.28" y="53.9" width="0.63" height="3.4" fill="#4f8a5a"/>
<rect x="482.52" y="53.9" width="0.51" height="3.4" fill="#4f8a5a"/>
<rect x="462.34" y="53.9" width="0.52" height="3.4" fill="#4f8a5a"/>
<rect x="300.19" y="53.9" width="0.88" height="3.4" fill="#4f8a5a"/>
<rect x="449.95" y="53.9" width="0.59" height="3.4" fill="#4f8a5a"/>
<rect x="290.38" y="53.9" width="0.89" height="3.4" fill="#4f8a5a"/>
<rect x="274" y="38.4" width="110.5" height="3.4" fill="#5cc3ee"/>
<rect x="346.82" y="38.4" width="0.81" height="3.4" fill="#45a6d6"/>
<rect x="289.3" y="38.4" width="0.71" height="3.4" fill="#45a6d6"/>
<rect x="312.8" y="38.4" width="0.52" height="3.4" fill="#45a6d6"/>
<rect x="310.49" y="38.4" width="0.71" height="3.4" fill="#45a6d6"/>
<rect x="312.18" y="38.4" width="0.59" height="3.4" fill="#45a6d6"/>
<rect x="288.94" y="38.4" width="0.82" height="3.4" fill="#45a6d6"/>
<rect x="344.94" y="38.4" width="0.8" height="3.4" fill="#45a6d6"/>
<rect x="321.46" y="38.4" width="0.83" height="3.4" fill="#45a6d6"/>
<rect x="330.67" y="38.4" width="0.7" height="3.4" fill="#45a6d6"/>
<rect x="336.77" y="38.4" width="0.77" height="3.4" fill="#45a6d6"/>
<rect x="317.31" y="38.4" width="0.45" height="3.4" fill="#45a6d6"/>
<rect x="277.63" y="38.4" width="0.5" height="3.4" fill="#45a6d6"/>
<rect x="278.32" y="38.4" width="0.84" height="3.4" fill="#45a6d6"/>
<rect x="326.67" y="38.4" width="0.78" height="3.4" fill="#45a6d6"/>
<rect x="274.05" y="38.4" width="0.64" height="3.4" fill="#45a6d6"/>
<rect x="371.43" y="38.4" width="0.71" height="3.4" fill="#45a6d6"/>
<rect x="320.94" y="38.4" width="0.63" height="3.4" fill="#45a6d6"/>
<rect x="284.92" y="38.4" width="0.48" height="3.4" fill="#45a6d6"/>
<rect x="291.41" y="38.4" width="0.59" height="3.4" fill="#45a6d6"/>
<rect x="316.23" y="38.4" width="0.84" height="3.4" fill="#45a6d6"/>
<rect x="290.66" y="38.4" width="0.53" height="3.4" fill="#45a6d6"/>
<rect x="304.38" y="38.4" width="0.48" height="3.4" fill="#45a6d6"/>
<rect x="305.43" y="38.4" width="0.52" height="3.4" fill="#45a6d6"/>
<rect x="326.78" y="38.4" width="0.42" height="3.4" fill="#45a6d6"/>
<rect x="375.23" y="38.4" width="0.58" height="3.4" fill="#45a6d6"/>
<rect x="376.7" y="38.4" width="0.74" height="3.4" fill="#45a6d6"/>
<rect x="347.78" y="38.4" width="0.64" height="3.4" fill="#45a6d6"/>
<rect x="377.52" y="38.4" width="0.46" height="3.4" fill="#45a6d6"/>
<rect x="347.21" y="38.4" width="0.55" height="3.4" fill="#45a6d6"/>
<rect x="347.85" y="38.4" width="0.76" height="3.4" fill="#45a6d6"/>
<rect x="291.87" y="38.4" width="0.5" height="3.4" fill="#45a6d6"/>
<rect x="384.5" y="38.4" width="7.9" height="3.4" fill="#3ddcb4"/>
<rect x="384.67" y="38.4" width="0.52" height="3.4" fill="#32bf9c"/>
<rect x="385.04" y="38.4" width="0.6" height="3.4" fill="#32bf9c"/>
<rect x="392.4" y="38.4" width="14" height="3.4" fill="#9a7fae"/>
<rect x="406.4" y="38.4" width="95.3" height="3.4" fill="#3ddcb4"/>
<rect x="498.21" y="38.4" width="0.58" height="3.4" fill="#32bf9c"/>
<rect x="435.81" y="38.4" width="0.63" height="3.4" fill="#32bf9c"/>
<rect x="433.1" y="38.4" width="0.77" height="3.4" fill="#32bf9c"/>
<rect x="474.1" y="38.4" width="0.48" height="3.4" fill="#32bf9c"/>
<rect x="429.08" y="38.4" width="0.74" height="3.4" fill="#32bf9c"/>
<rect x="495.09" y="38.4" width="0.72" height="3.4" fill="#32bf9c"/>
<rect x="447.01" y="38.4" width="0.89" height="3.4" fill="#32bf9c"/>
<rect x="406.99" y="38.4" width="0.43" height="3.4" fill="#32bf9c"/>
<rect x="479.88" y="38.4" width="0.61" height="3.4" fill="#32bf9c"/>
<rect x="410.64" y="38.4" width="0.67" height="3.4" fill="#32bf9c"/>
<rect x="499.72" y="38.4" width="0.66" height="3.4" fill="#32bf9c"/>
<rect x="439.41" y="38.4" width="0.45" height="3.4" fill="#32bf9c"/>
<rect x="413.12" y="38.4" width="0.85" height="3.4" fill="#32bf9c"/>
<rect x="452.72" y="38.4" width="0.87" height="3.4" fill="#32bf9c"/>
<rect x="411.47" y="38.4" width="0.52" height="3.4" fill="#32bf9c"/>
<rect x="411.16" y="38.4" width="0.6" height="3.4" fill="#32bf9c"/>
<rect x="412.07" y="38.4" width="0.53" height="3.4" fill="#32bf9c"/>
<rect x="444.82" y="38.4" width="0.55" height="3.4" fill="#32bf9c"/>
<rect x="411.24" y="38.4" width="0.42" height="3.4" fill="#32bf9c"/>
<rect x="498.02" y="38.4" width="0.49" height="3.4" fill="#32bf9c"/>
<rect x="454.36" y="38.4" width="0.6" height="3.4" fill="#32bf9c"/>
<rect x="456.5" y="38.4" width="0.44" height="3.4" fill="#32bf9c"/>
<rect x="436" y="38.4" width="0.45" height="3.4" fill="#32bf9c"/>
<rect x="457.5" y="38.4" width="0.86" height="3.4" fill="#32bf9c"/>
<rect x="462.82" y="38.4" width="0.83" height="3.4" fill="#32bf9c"/>
<rect x="426.62" y="38.4" width="0.41" height="3.4" fill="#32bf9c"/>
<rect x="457.29" y="38.4" width="0.64" height="3.4" fill="#32bf9c"/>
<text x="250.4" y="31.7" text-anchor="end" style="font-size:4.8px;fill:#111;stroke:#111;stroke-width:0.08px" textLength="30.5" lengthAdjust="spacingAndGlyphs">Reference Chr 11</text>
<text x="249.7" y="42.1" text-anchor="end" style="font-size:4.8px;fill:#111;stroke:#111;stroke-width:0.08px" textLength="21.8" lengthAdjust="spacingAndGlyphs">Sample Map</text>
<text x="251" y="56.7" text-anchor="end" style="font-size:4.8px;fill:#111;stroke:#111;stroke-width:0.08px" textLength="30.5" lengthAdjust="spacingAndGlyphs">Reference Chr 22</text>
<rect x="12.4" y="287.6" width="317.2" height="73" fill="#fff" stroke="#a8a8a8" stroke-width="1"/>
<text x="67.2" y="294.2" text-anchor="middle" style="font-size:2.2px;fill:#777">1</text>
<text x="79.3" y="294.2" text-anchor="middle" style="font-size:2.2px;fill:#777">5000K</text>
<text x="91.4" y="294.2" text-anchor="middle" style="font-size:2.2px;fill:#777">10000K</text>
<text x="103.5" y="294.2" text-anchor="middle" style="font-size:2.2px;fill:#777">15000K</text>
<text x="115.6" y="294.2" text-anchor="middle" style="font-size:2.2px;fill:#777">20000K</text>
<text x="127.7" y="294.2" text-anchor="middle" style="font-size:2.2px;fill:#777">25000K</text>
<text x="139.8" y="294.2" text-anchor="middle" style="font-size:2.2px;fill:#777">30000K</text>
<text x="151.9" y="294.2" text-anchor="middle" style="font-size:2.2px;fill:#777">35000K</text>
<text x="164" y="294.2" text-anchor="middle" style="font-size:2.2px;fill:#777">40000K</text>
<text x="176.1" y="294.2" text-anchor="middle" style="font-size:2.2px;fill:#777">45000K</text>
<text x="188.2" y="294.2" text-anchor="middle" style="font-size:2.2px;fill:#777">50000K</text>
<text x="200.3" y="294.2" text-anchor="middle" style="font-size:2.2px;fill:#777">55000K</text>
<text x="212.4" y="294.2" text-anchor="middle" style="font-size:2.2px;fill:#777">60000K</text>
<text x="224.5" y="294.2" text-anchor="middle" style="font-size:2.2px;fill:#777">65000K</text>
<text x="236.6" y="294.2" text-anchor="middle" style="font-size:2.2px;fill:#777">70000K</text>
<text x="248.7" y="294.2" text-anchor="middle" style="font-size:2.2px;fill:#777">75000K</text>
<text x="260.8" y="294.2" text-anchor="middle" style="font-size:2.2px;fill:#777">80000K</text>
<text x="272.9" y="294.2" text-anchor="middle" style="font-size:2.2px;fill:#777">85000K</text>
<text x="285" y="294.2" text-anchor="middle" style="font-size:2.2px;fill:#777">90000K</text>
<text x="297.1" y="294.2" text-anchor="middle" style="font-size:2.2px;fill:#777">95000K</text>
<text x="309.2" y="294.2" text-anchor="middle" style="font-size:2.2px;fill:#777">100000K</text>
<text x="321.3" y="294.2" text-anchor="middle" style="font-size:2.2px;fill:#777">105000K</text>
<line x1="72.3" y1="295.6" x2="86.8" y2="295.6" stroke="#cfcfcf" stroke-width="0.48999999999999994"/>
<line x1="89.7" y1="295.6" x2="97" y2="295.6" stroke="#cfcfcf" stroke-width="0.48999999999999994"/>
<line x1="107.9" y1="295.6" x2="115.9" y2="295.6" stroke="#2a2a2a" stroke-width="0.7"/>
<line x1="118.1" y1="295.6" x2="125.4" y2="295.6" stroke="#999" stroke-width="0.48999999999999994"/>
<line x1="136.3" y1="295.6" x2="148.6" y2="295.6" stroke="#2a2a2a" stroke-width="0.7"/>
<line x1="159.5" y1="295.6" x2="163.9" y2="295.6" stroke="#bbb" stroke-width="0.48999999999999994"/>
<line x1="163.9" y1="295.6" x2="172.6" y2="295.6" stroke="#e05050" stroke-width="0.63"/>
<line x1="172.6" y1="295.6" x2="180" y2="295.6" stroke="#bbb" stroke-width="0.48999999999999994"/>
<line x1="183.5" y1="295.6" x2="185.7" y2="295.6" stroke="#ccc" stroke-width="0.42"/>
<line x1="191.5" y1="295.6" x2="195.2" y2="295.6" stroke="#ccc" stroke-width="0.42"/>
<line x1="199.5" y1="295.6" x2="209" y2="295.6" stroke="#ccc" stroke-width="0.42"/>
<line x1="212.6" y1="295.6" x2="229.5" y2="295.6" stroke="#2a2a2a" stroke-width="0.7"/>
<line x1="233.2" y1="295.6" x2="242.3" y2="295.6" stroke="#2a2a2a" stroke-width="0.7"/>
<line x1="250.5" y1="295.6" x2="259.5" y2="295.6" stroke="#2a2a2a" stroke-width="0.7"/>
<line x1="261.4" y1="295.6" x2="275" y2="295.6" stroke="#2a2a2a" stroke-width="0.7"/>
<line x1="279.5" y1="295.6" x2="283.2" y2="295.6" stroke="#ccc" stroke-width="0.42"/>
<line x1="286.8" y1="295.6" x2="287.9" y2="295.6" stroke="#e05050" stroke-width="0.63"/>
<line x1="295" y1="295.6" x2="299.5" y2="295.6" stroke="#ccc" stroke-width="0.42"/>
<line x1="306.8" y1="295.6" x2="310.5" y2="295.6" stroke="#ccc" stroke-width="0.42"/>
<line x1="79" y1="308.3" x2="79" y2="320.3" stroke="#c8c8c8" stroke-width="0.35"/>
<line x1="96" y1="308.3" x2="96" y2="320.3" stroke="#c8c8c8" stroke-width="0.35"/>
<line x1="109" y1="308.3" x2="109" y2="320.3" stroke="#c8c8c8" stroke-width="0.35"/>
<line x1="113" y1="308.3" x2="113" y2="320.3" stroke="#c8c8c8" stroke-width="0.35"/>
<line x1="118" y1="308.3" x2="118" y2="320.3" stroke="#c8c8c8" stroke-width="0.35"/>
<line x1="124" y1="308.3" x2="124" y2="320.3" stroke="#c8c8c8" stroke-width="0.35"/>
<line x1="129" y1="308.3" x2="129" y2="320.3" stroke="#c8c8c8" stroke-width="0.35"/>
<line x1="136" y1="308.3" x2="136" y2="320.3" stroke="#c8c8c8" stroke-width="0.35"/>
<line x1="139" y1="308.3" x2="139" y2="320.3" stroke="#c8c8c8" stroke-width="0.35"/>
<line x1="146" y1="308.3" x2="146" y2="320.3" stroke="#c8c8c8" stroke-width="0.35"/>
<line x1="150" y1="308.3" x2="150" y2="320.3" stroke="#c8c8c8" stroke-width="0.35"/>
<line x1="153" y1="308.3" x2="153" y2="320.3" stroke="#c8c8c8" stroke-width="0.35"/>
<line x1="176.6" y1="308.3" x2="176.6" y2="320.3" stroke="#c8c8c8" stroke-width="0.35"/>
<line x1="205" y1="325.4" x2="205" y2="346.8" stroke="#c8c8c8" stroke-width="0.35"/>
<line x1="209" y1="325.4" x2="209" y2="346.8" stroke="#c8c8c8" stroke-width="0.35"/>
<line x1="216" y1="325.4" x2="216" y2="346.8" stroke="#c8c8c8" stroke-width="0.35"/>
<line x1="224" y1="325.4" x2="224" y2="346.8" stroke="#c8c8c8" stroke-width="0.35"/>
<line x1="231" y1="325.4" x2="231" y2="346.8" stroke="#c8c8c8" stroke-width="0.35"/>
<line x1="238" y1="325.4" x2="238" y2="346.8" stroke="#c8c8c8" stroke-width="0.35"/>
<line x1="242" y1="325.4" x2="242" y2="346.8" stroke="#c8c8c8" stroke-width="0.35"/>
<line x1="249" y1="325.4" x2="249" y2="346.8" stroke="#c8c8c8" stroke-width="0.35"/>
<line x1="256" y1="325.4" x2="256" y2="346.8" stroke="#c8c8c8" stroke-width="0.35"/>
<line x1="261" y1="325.4" x2="261" y2="346.8" stroke="#c8c8c8" stroke-width="0.35"/>
<line x1="267" y1="325.4" x2="267" y2="346.8" stroke="#c8c8c8" stroke-width="0.35"/>
<line x1="272" y1="325.4" x2="272" y2="346.8" stroke="#c8c8c8" stroke-width="0.35"/>
<line x1="280" y1="325.4" x2="280" y2="346.8" stroke="#c8c8c8" stroke-width="0.35"/>
<line x1="290" y1="325.4" x2="290" y2="346.8" stroke="#c8c8c8" stroke-width="0.35"/>
<line x1="302" y1="325.4" x2="302" y2="346.8" stroke="#c8c8c8" stroke-width="0.35"/>
<line x1="311" y1="325.4" x2="311" y2="346.8" stroke="#c8c8c8" stroke-width="0.35"/>
<line x1="188.5" y1="308.3" x2="188.5" y2="320.3" stroke="#e0a0c8" stroke-width="0.45"/>
<line x1="201.7" y1="325.4" x2="201.7" y2="346.8" stroke="#e0a0c8" stroke-width="0.45"/>
<rect x="68.8" y="303.2" width="253.2" height="5.1" fill="#84c341"/>
<rect x="212.91" y="303.2" width="0.59" height="5.1" fill="#74b03c"/>
<rect x="226.45" y="303.2" width="0.76" height="5.1" fill="#74b03c"/>
<rect x="299.06" y="303.2" width="0.55" height="5.1" fill="#74b03c"/>
<rect x="182.05" y="303.2" width="0.81" height="5.1" fill="#74b03c"/>
<rect x="125.29" y="303.2" width="0.46" height="5.1" fill="#74b03c"/>
<rect x="147.42" y="303.2" width="0.44" height="5.1" fill="#74b03c"/>
<rect x="263.6" y="303.2" width="0.81" height="5.1" fill="#74b03c"/>
<rect x="147.71" y="303.2" width="0.46" height="5.1" fill="#74b03c"/>
<rect x="89.48" y="303.2" width="0.52" height="5.1" fill="#74b03c"/>
<rect x="90.07" y="303.2" width="0.61" height="5.1" fill="#74b03c"/>
<rect x="214.32" y="303.2" width="0.52" height="5.1" fill="#74b03c"/>
<rect x="84.3" y="303.2" width="0.75" height="5.1" fill="#74b03c"/>
<rect x="80.91" y="303.2" width="0.5" height="5.1" fill="#74b03c"/>
<rect x="140.93" y="303.2" width="0.59" height="5.1" fill="#74b03c"/>
<rect x="93.65" y="303.2" width="0.61" height="5.1" fill="#74b03c"/>
<rect x="147.97" y="303.2" width="0.78" height="5.1" fill="#74b03c"/>
<rect x="209.04" y="303.2" width="0.85" height="5.1" fill="#74b03c"/>
<rect x="233.76" y="303.2" width="0.78" height="5.1" fill="#74b03c"/>
<rect x="213.75" y="303.2" width="0.62" height="5.1" fill="#74b03c"/>
<rect x="274.8" y="303.2" width="0.73" height="5.1" fill="#74b03c"/>
<rect x="309.59" y="303.2" width="0.76" height="5.1" fill="#74b03c"/>
<rect x="245.64" y="303.2" width="0.53" height="5.1" fill="#74b03c"/>
<rect x="273.61" y="303.2" width="0.59" height="5.1" fill="#74b03c"/>
<rect x="101.65" y="303.2" width="0.43" height="5.1" fill="#74b03c"/>
<rect x="111.51" y="303.2" width="0.53" height="5.1" fill="#74b03c"/>
<rect x="239.26" y="303.2" width="0.54" height="5.1" fill="#74b03c"/>
<rect x="84.82" y="303.2" width="0.78" height="5.1" fill="#74b03c"/>
<rect x="209.33" y="303.2" width="0.41" height="5.1" fill="#74b03c"/>
<rect x="81.57" y="303.2" width="0.55" height="5.1" fill="#4f8a5a"/>
<rect x="158.87" y="303.2" width="0.84" height="5.1" fill="#4f8a5a"/>
<rect x="308.19" y="303.2" width="0.74" height="5.1" fill="#4f8a5a"/>
<rect x="127.08" y="303.2" width="0.67" height="5.1" fill="#4f8a5a"/>
<rect x="160.2" y="303.2" width="0.63" height="5.1" fill="#4f8a5a"/>
<rect x="71.94" y="303.2" width="0.73" height="5.1" fill="#4f8a5a"/>
<rect x="277.35" y="303.2" width="0.79" height="5.1" fill="#4f8a5a"/>
<rect x="92.83" y="303.2" width="0.71" height="5.1" fill="#4f8a5a"/>
<rect x="68.8" y="346.8" width="253.2" height="5.1" fill="#84c341"/>
<rect x="111.98" y="346.8" width="0.75" height="5.1" fill="#74b03c"/>
<rect x="181.34" y="346.8" width="0.87" height="5.1" fill="#74b03c"/>
<rect x="269.24" y="346.8" width="0.46" height="5.1" fill="#74b03c"/>
<rect x="148.77" y="346.8" width="0.86" height="5.1" fill="#74b03c"/>
<rect x="185.06" y="346.8" width="0.62" height="5.1" fill="#74b03c"/>
<rect x="180.13" y="346.8" width="0.78" height="5.1" fill="#74b03c"/>
<rect x="304.93" y="346.8" width="0.67" height="5.1" fill="#74b03c"/>
<rect x="313.35" y="346.8" width="0.7" height="5.1" fill="#74b03c"/>
<rect x="94.92" y="346.8" width="0.81" height="5.1" fill="#74b03c"/>
<rect x="174.59" y="346.8" width="0.43" height="5.1" fill="#74b03c"/>
<rect x="315.45" y="346.8" width="0.42" height="5.1" fill="#74b03c"/>
<rect x="214.32" y="346.8" width="0.64" height="5.1" fill="#74b03c"/>
<rect x="291.19" y="346.8" width="0.6" height="5.1" fill="#74b03c"/>
<rect x="123.18" y="346.8" width="0.54" height="5.1" fill="#74b03c"/>
<rect x="119.53" y="346.8" width="0.68" height="5.1" fill="#74b03c"/>
<rect x="158.83" y="346.8" width="0.78" height="5.1" fill="#74b03c"/>
<rect x="129.72" y="346.8" width="0.58" height="5.1" fill="#74b03c"/>
<rect x="131.41" y="346.8" width="0.89" height="5.1" fill="#74b03c"/>
<rect x="280.7" y="346.8" width="0.82" height="5.1" fill="#74b03c"/>
<rect x="224.7" y="346.8" width="0.6" height="5.1" fill="#74b03c"/>
<rect x="104.88" y="346.8" width="0.82" height="5.1" fill="#74b03c"/>
<rect x="192.41" y="346.8" width="0.42" height="5.1" fill="#74b03c"/>
<rect x="111.56" y="346.8" width="0.45" height="5.1" fill="#74b03c"/>
<rect x="249.8" y="346.8" width="0.85" height="5.1" fill="#74b03c"/>
<rect x="119.07" y="346.8" width="0.8" height="5.1" fill="#74b03c"/>
<rect x="150.53" y="346.8" width="0.74" height="5.1" fill="#74b03c"/>
<rect x="286.48" y="346.8" width="0.71" height="5.1" fill="#74b03c"/>
<rect x="270.65" y="346.8" width="0.59" height="5.1" fill="#74b03c"/>
<rect x="71.34" y="346.8" width="0.7" height="5.1" fill="#4f8a5a"/>
<rect x="216.76" y="346.8" width="0.57" height="5.1" fill="#4f8a5a"/>
<rect x="166.93" y="346.8" width="0.63" height="5.1" fill="#4f8a5a"/>
<rect x="75.62" y="346.8" width="0.62" height="5.1" fill="#4f8a5a"/>
<rect x="165.35" y="346.8" width="0.69" height="5.1" fill="#4f8a5a"/>
<rect x="246.18" y="346.8" width="0.66" height="5.1" fill="#4f8a5a"/>
<rect x="316.56" y="346.8" width="0.83" height="5.1" fill="#4f8a5a"/>
<rect x="301.8" y="346.8" width="0.78" height="5.1" fill="#4f8a5a"/>
<rect x="68.8" y="320.3" width="108.8" height="5.1" fill="#5cc3ee"/>
<rect x="141.04" y="320.3" width="0.67" height="5.1" fill="#45a6d6"/>
<rect x="154.9" y="320.3" width="0.58" height="5.1" fill="#45a6d6"/>
<rect x="132.79" y="320.3" width="0.74" height="5.1" fill="#45a6d6"/>
<rect x="125.09" y="320.3" width="0.54" height="5.1" fill="#45a6d6"/>
<rect x="77.18" y="320.3" width="0.44" height="5.1" fill="#45a6d6"/>
<rect x="107.16" y="320.3" width="0.69" height="5.1" fill="#45a6d6"/>
<rect x="150.69" y="320.3" width="0.76" height="5.1" fill="#45a6d6"/>
<rect x="177.6" y="320.3" width="10.9" height="5.1" fill="#3ddcb4"/>
<rect x="188.5" y="320.3" width="13.2" height="5.1" fill="#9a7fae"/>
<rect x="201.7" y="320.3" width="120.3" height="5.1" fill="#3ddcb4"/>
<rect x="238.3" y="320.3" width="0.86" height="5.1" fill="#32bf9c"/>
<rect x="234.46" y="320.3" width="0.76" height="5.1" fill="#32bf9c"/>
<rect x="210.29" y="320.3" width="0.78" height="5.1" fill="#32bf9c"/>
<rect x="281.62" y="320.3" width="0.88" height="5.1" fill="#32bf9c"/>
<rect x="308.73" y="320.3" width="0.74" height="5.1" fill="#32bf9c"/>
<rect x="301.7" y="320.3" width="0.77" height="5.1" fill="#32bf9c"/>
<rect x="274.59" y="320.3" width="0.5" height="5.1" fill="#32bf9c"/>
<rect x="263.34" y="320.3" width="0.85" height="5.1" fill="#32bf9c"/>
<text x="59.9" y="307.2" text-anchor="end" style="font-size:4.8px;fill:#111;stroke:#111;stroke-width:0.08px" textLength="30.8" lengthAdjust="spacingAndGlyphs">Reference Chr 11</text>
<text x="58.6" y="324.3" text-anchor="end" style="font-size:4.8px;fill:#111;stroke:#111;stroke-width:0.08px" textLength="22.6" lengthAdjust="spacingAndGlyphs">Sample Map</text>
<text x="61" y="350.8" text-anchor="end" style="font-size:4.8px;fill:#111;stroke:#111;stroke-width:0.08px" textLength="31" lengthAdjust="spacingAndGlyphs">Reference Chr 22</text>
<rect x="215.1" y="78.7" width="330.6" height="75.2" fill="#fff" stroke="#a6a6a6" stroke-width="1.1"/>
<text x="382.5" y="78.1" class="t" text-anchor="middle" style="font-size:6.3px" textLength="67" lengthAdjust="spacingAndGlyphs">Whole Genome CNV View</text>
<line x1="253.4" y1="89" x2="536.8" y2="89" stroke="#e4e4e4" stroke-width="0.4"/>
<text x="241.6" y="89" text-anchor="middle" style="font-size:2.6px;fill:#444" dominant-baseline="central">8</text>
<line x1="253.4" y1="94.92" x2="536.8" y2="94.92" stroke="#e4e4e4" stroke-width="0.4"/>
<text x="241.6" y="94.92" text-anchor="middle" style="font-size:2.6px;fill:#444" dominant-baseline="central">7</text>
<line x1="253.4" y1="100.84" x2="536.8" y2="100.84" stroke="#e4e4e4" stroke-width="0.4"/>
<text x="241.6" y="100.84" text-anchor="middle" style="font-size:2.6px;fill:#444" dominant-baseline="central">6</text>
<line x1="253.4" y1="106.76" x2="536.8" y2="106.76" stroke="#e4e4e4" stroke-width="0.4"/>
<text x="241.6" y="106.76" text-anchor="middle" style="font-size:2.6px;fill:#444" dominant-baseline="central">5</text>
<line x1="253.4" y1="112.68" x2="536.8" y2="112.68" stroke="#e4e4e4" stroke-width="0.4"/>
<text x="241.6" y="112.68" text-anchor="middle" style="font-size:2.6px;fill:#444" dominant-baseline="central">4</text>
<line x1="253.4" y1="118.6" x2="536.8" y2="118.6" stroke="#e4e4e4" stroke-width="0.4"/>
<text x="241.6" y="118.6" text-anchor="middle" style="font-size:2.6px;fill:#444" dominant-baseline="central">3</text>
<line x1="253.4" y1="124.52" x2="536.8" y2="124.52" stroke="#e4e4e4" stroke-width="0.4"/>
<text x="241.6" y="124.52" text-anchor="middle" style="font-size:2.6px;fill:#444" dominant-baseline="central">2</text>
<line x1="253.4" y1="130.44" x2="536.8" y2="130.44" stroke="#e4e4e4" stroke-width="0.4"/>
<text x="241.6" y="130.44" text-anchor="middle" style="font-size:2.6px;fill:#444" dominant-baseline="central">1</text>
<line x1="253.4" y1="136.36" x2="536.8" y2="136.36" stroke="#e4e4e4" stroke-width="0.4"/>
<text x="241.6" y="136.36" text-anchor="middle" style="font-size:2.6px;fill:#444" dominant-baseline="central">0</text>
<line x1="256.93" y1="87.9" x2="256.93" y2="137.8" stroke="#ececec" stroke-width="0.35"/>
<line x1="260.44" y1="87.9" x2="260.44" y2="137.8" stroke="#ececec" stroke-width="0.35"/>
<line x1="263.95" y1="87.9" x2="263.95" y2="137.8" stroke="#ececec" stroke-width="0.35"/>
<line x1="267.46" y1="87.9" x2="267.46" y2="137.8" stroke="#ececec" stroke-width="0.35"/>
<line x1="270.97" y1="87.9" x2="270.97" y2="137.8" stroke="#ececec" stroke-width="0.35"/>
<line x1="279.3" y1="87.9" x2="279.3" y2="137.8" stroke="#ececec" stroke-width="0.35"/>
<line x1="282.81" y1="87.9" x2="282.81" y2="137.8" stroke="#ececec" stroke-width="0.35"/>
<line x1="286.32" y1="87.9" x2="286.32" y2="137.8" stroke="#ececec" stroke-width="0.35"/>
<line x1="289.83" y1="87.9" x2="289.83" y2="137.8" stroke="#ececec" stroke-width="0.35"/>
<line x1="293.34" y1="87.9" x2="293.34" y2="137.8" stroke="#ececec" stroke-width="0.35"/>
<line x1="301.14" y1="87.9" x2="301.14" y2="137.8" stroke="#ececec" stroke-width="0.35"/>
<line x1="304.65" y1="87.9" x2="304.65" y2="137.8" stroke="#ececec" stroke-width="0.35"/>
<line x1="308.16" y1="87.9" x2="308.16" y2="137.8" stroke="#ececec" stroke-width="0.35"/>
<line x1="311.67" y1="87.9" x2="311.67" y2="137.8" stroke="#ececec" stroke-width="0.35"/>
<line x1="319.02" y1="87.9" x2="319.02" y2="137.8" stroke="#ececec" stroke-width="0.35"/>
<line x1="322.53" y1="87.9" x2="322.53" y2="137.8" stroke="#ececec" stroke-width="0.35"/>
<line x1="326.04" y1="87.9" x2="326.04" y2="137.8" stroke="#ececec" stroke-width="0.35"/>
<line x1="329.55" y1="87.9" x2="329.55" y2="137.8" stroke="#ececec" stroke-width="0.35"/>
<line x1="336.29" y1="87.9" x2="336.29" y2="137.8" stroke="#ececec" stroke-width="0.35"/>
<line x1="339.8" y1="87.9" x2="339.8" y2="137.8" stroke="#ececec" stroke-width="0.35"/>
<line x1="343.31" y1="87.9" x2="343.31" y2="137.8" stroke="#ececec" stroke-width="0.35"/>
<line x1="346.82" y1="87.9" x2="346.82" y2="137.8" stroke="#ececec" stroke-width="0.35"/>
<line x1="352.66" y1="87.9" x2="352.66" y2="137.8" stroke="#ececec" stroke-width="0.35"/>
<line x1="356.17" y1="87.9" x2="356.17" y2="137.8" stroke="#ececec" stroke-width="0.35"/>
<line x1="359.68" y1="87.9" x2="359.68" y2="137.8" stroke="#ececec" stroke-width="0.35"/>
<line x1="368.17" y1="87.9" x2="368.17" y2="137.8" stroke="#ececec" stroke-width="0.35"/>
<line x1="371.68" y1="87.9" x2="371.68" y2="137.8" stroke="#ececec" stroke-width="0.35"/>
<line x1="375.19" y1="87.9" x2="375.19" y2="137.8" stroke="#ececec" stroke-width="0.35"/>
<line x1="382.63" y1="87.9" x2="382.63" y2="137.8" stroke="#ececec" stroke-width="0.35"/>
<line x1="386.14" y1="87.9" x2="386.14" y2="137.8" stroke="#ececec" stroke-width="0.35"/>
<line x1="389.65" y1="87.9" x2="389.65" y2="137.8" stroke="#ececec" stroke-width="0.35"/>
<line x1="395.98" y1="87.9" x2="395.98" y2="137.8" stroke="#ececec" stroke-width="0.35"/>
<line x1="399.49" y1="87.9" x2="399.49" y2="137.8" stroke="#ececec" stroke-width="0.35"/>
<line x1="403" y1="87.9" x2="403" y2="137.8" stroke="#ececec" stroke-width="0.35"/>
<line x1="408.87" y1="87.9" x2="408.87" y2="137.8" stroke="#ececec" stroke-width="0.35"/>
<line x1="412.38" y1="87.9" x2="412.38" y2="137.8" stroke="#ececec" stroke-width="0.35"/>
<line x1="415.89" y1="87.9" x2="415.89" y2="137.8" stroke="#ececec" stroke-width="0.35"/>
<line x1="421.26" y1="87.9" x2="421.26" y2="137.8" stroke="#ececec" stroke-width="0.35"/>
<line x1="424.77" y1="87.9" x2="424.77" y2="137.8" stroke="#ececec" stroke-width="0.35"/>
<line x1="428.28" y1="87.9" x2="428.28" y2="137.8" stroke="#ececec" stroke-width="0.35"/>
<line x1="433.6" y1="87.9" x2="433.6" y2="137.8" stroke="#ececec" stroke-width="0.35"/>
<line x1="437.11" y1="87.9" x2="437.11" y2="137.8" stroke="#ececec" stroke-width="0.35"/>
<line x1="440.62" y1="87.9" x2="440.62" y2="137.8" stroke="#ececec" stroke-width="0.35"/>
<line x1="445.84" y1="87.9" x2="445.84" y2="137.8" stroke="#ececec" stroke-width="0.35"/>
<line x1="449.35" y1="87.9" x2="449.35" y2="137.8" stroke="#ececec" stroke-width="0.35"/>
<line x1="456.45" y1="87.9" x2="456.45" y2="137.8" stroke="#ececec" stroke-width="0.35"/>
<line x1="459.96" y1="87.9" x2="459.96" y2="137.8" stroke="#ececec" stroke-width="0.35"/>
<line x1="466.37" y1="87.9" x2="466.37" y2="137.8" stroke="#ececec" stroke-width="0.35"/>
<line x1="469.88" y1="87.9" x2="469.88" y2="137.8" stroke="#ececec" stroke-width="0.35"/>
<line x1="475.86" y1="87.9" x2="475.86" y2="137.8" stroke="#ececec" stroke-width="0.35"/>
<line x1="484.29" y1="87.9" x2="484.29" y2="137.8" stroke="#ececec" stroke-width="0.35"/>
<line x1="491.91" y1="87.9" x2="491.91" y2="137.8" stroke="#ececec" stroke-width="0.35"/>
<line x1="499.26" y1="87.9" x2="499.26" y2="137.8" stroke="#ececec" stroke-width="0.35"/>
<line x1="504.94" y1="87.9" x2="504.94" y2="137.8" stroke="#ececec" stroke-width="0.35"/>
<line x1="520.69" y1="87.9" x2="520.69" y2="137.8" stroke="#ececec" stroke-width="0.35"/>
<line x1="524.2" y1="87.9" x2="524.2" y2="137.8" stroke="#ececec" stroke-width="0.35"/>
<line x1="527.71" y1="87.9" x2="527.71" y2="137.8" stroke="#ececec" stroke-width="0.35"/>
<line x1="534.81" y1="87.9" x2="534.81" y2="137.8" stroke="#ececec" stroke-width="0.35"/>
<rect x="253.4" y="87.9" width="283.4" height="49.9" fill="none" stroke="#d0d0d0" stroke-width="0.4"/>
<line x1="275.54" y1="85.8" x2="275.54" y2="137.8" stroke="#7c7c7c" stroke-width="0.85"/>
<line x1="297.38" y1="85.8" x2="297.38" y2="137.8" stroke="#7c7c7c" stroke-width="0.85"/>
<line x1="315.26" y1="85.8" x2="315.26" y2="137.8" stroke="#7c7c7c" stroke-width="0.85"/>
<line x1="332.53" y1="85.8" x2="332.53" y2="137.8" stroke="#7c7c7c" stroke-width="0.85"/>
<line x1="348.9" y1="85.8" x2="348.9" y2="137.8" stroke="#7c7c7c" stroke-width="0.85"/>
<line x1="364.41" y1="85.8" x2="364.41" y2="137.8" stroke="#7c7c7c" stroke-width="0.85"/>
<line x1="378.87" y1="85.8" x2="378.87" y2="137.8" stroke="#7c7c7c" stroke-width="0.85"/>
<line x1="392.22" y1="85.8" x2="392.22" y2="137.8" stroke="#7c7c7c" stroke-width="0.85"/>
<line x1="405.11" y1="85.8" x2="405.11" y2="137.8" stroke="#7c7c7c" stroke-width="0.85"/>
<line x1="417.5" y1="85.8" x2="417.5" y2="137.8" stroke="#7c7c7c" stroke-width="0.85"/>
<line x1="429.84" y1="85.8" x2="429.84" y2="137.8" stroke="#7c7c7c" stroke-width="0.85"/>
<line x1="442.08" y1="85.8" x2="442.08" y2="137.8" stroke="#7c7c7c" stroke-width="0.85"/>
<line x1="452.69" y1="85.8" x2="452.69" y2="137.8" stroke="#7c7c7c" stroke-width="0.85"/>
<line x1="462.61" y1="85.8" x2="462.61" y2="137.8" stroke="#7c7c7c" stroke-width="0.85"/>
<line x1="472.1" y1="85.8" x2="472.1" y2="137.8" stroke="#7c7c7c" stroke-width="0.85"/>
<line x1="480.53" y1="85.8" x2="480.53" y2="137.8" stroke="#7c7c7c" stroke-width="0.85"/>
<line x1="488.15" y1="85.8" x2="488.15" y2="137.8" stroke="#7c7c7c" stroke-width="0.85"/>
<line x1="495.5" y1="85.8" x2="495.5" y2="137.8" stroke="#7c7c7c" stroke-width="0.85"/>
<line x1="501.19" y1="85.8" x2="501.19" y2="137.8" stroke="#7c7c7c" stroke-width="0.85"/>
<line x1="507.21" y1="85.8" x2="507.21" y2="137.8" stroke="#7c7c7c" stroke-width="0.85"/>
<line x1="511.93" y1="85.8" x2="511.93" y2="137.8" stroke="#7c7c7c" stroke-width="0.85"/>
<line x1="516.93" y1="85.8" x2="516.93" y2="137.8" stroke="#7c7c7c" stroke-width="0.85"/>
<line x1="531.06" y1="85.8" x2="531.06" y2="137.8" stroke="#7c7c7c" stroke-width="0.85"/>
<line x1="253.4" y1="85.8" x2="253.4" y2="137.8" stroke="#a0a0a0" stroke-width="0.6"/>
<path d="M253.16 120.7v-1.3h0.33v1.3zM253.68 120.7v-0.5h0.46v0.5zM254.17 120.7v-0.3h0.25v0.3zM254.56 120.7v-0.5h0.33v0.5zM255.16 120.7v-1h0.44v1zM255.72 120.7v-1.3h0.3v1.3zM256.39 120.7v-0.4h0.48v0.4zM257.26 120.7v-0.8h0.46v0.8zM258.12 120.7v-1.3h0.34v1.3zM258.83 120.7v-1h0.57v1zM259.62 120.7v-0.8h0.58v0.8zM260.22 120.7v-0.8h0.42v0.8zM261.03 120.7v-1h0.55v1zM261.99 120.7v-1.3h0.45v1.3zM262.65 120.7v-0.8h0.33v0.8zM263.41 120.7v-0.5h0.6v0.5zM266.06 120.7v-1.3h0.36v1.3zM266.71 120.7v-0.6h0.5v0.6zM267.34 120.7v-1h0.29v1zM267.68 120.7v-1h0.53v1zM268.22 120.7v-1h0.4v1zM268.64 120.7v-0.4h0.47v0.4zM269.46 120.7v-0.8h0.37v0.8zM269.95 120.7v-0.4h0.26v0.4zM270.26 120.7v-0.6h0.44v0.6zM270.85 120.7v-0.5h0.34v0.5zM271.68 120.7v-0.8h0.37v0.8zM272.5 120.7v-1h0.38v1zM273.07 120.7v-0.5h0.55v0.5zM273.68 120.7v-0.3h0.59v0.3zM274.4 120.7v-0.5h0.47v0.5zM275.34 120.7v-0.8h0.4v0.8zM275.53 120.7v-0.3h0.37v0.3zM276.39 120.7v-1h0.36v1zM277.05 120.7v-0.5h0.3v0.5zM277.58 120.7v-0.8h0.49v0.8zM278.42 120.7v-0.4h0.51v0.4zM278.96 120.7v-0.8h0.49v0.8zM279.76 120.7v-1.3h0.35v1.3zM280.2 120.7v-0.3h0.31v0.3zM280.94 120.7v-0.3h0.34v0.3zM281.33 120.7v-1.3h0.53v1.3zM282.02 120.7v-0.3h0.33v0.3zM282.47 120.7v-1h0.32v1zM282.84 120.7v-0.8h0.36v0.8zM283.42 120.7v-0.6h0.55v0.6zM284.14 120.7v-1.3h0.48v1.3zM284.75 120.7v-0.4h0.53v0.4zM285.75 120.7v-0.3h0.36v0.3zM286.21 120.7v-0.3h0.35v0.3zM286.96 120.7v-0.6h0.37v0.6zM287.47 120.7v-0.8h0.53v0.8zM288.17 120.7v-1h0.4v1zM288.77 120.7v-0.6h0.57v0.6zM289.35 120.7v-1.3h0.58v1.3zM290.15 120.7v-0.5h0.58v0.5zM290.75 120.7v-0.3h0.41v0.3zM291.64 120.7v-0.6h0.44v0.6zM292.51 120.7v-0.4h0.59v0.4zM293.12 120.7v-0.5h0.57v0.5zM294.15 120.7v-1h0.56v1zM294.74 120.7v-0.4h0.42v0.4zM295.41 120.7v-0.4h0.33v0.4zM296.01 120.7v-1.3h0.27v1.3zM296.45 120.7v-0.3h0.34v0.3zM297.02 120.7v-0.8h0.52v0.8zM297.37 120.7v-0.3h0.44v0.3zM297.89 120.7v-0.3h0.53v0.3zM298.83 120.7v-0.5h0.25v0.5zM299.52 120.7v-0.8h0.27v0.8zM299.92 120.7v-1h0.43v1zM300.59 120.7v-0.4h0.52v0.4zM301.5 120.7v-0.4h0.27v0.4zM302.01 120.7v-0.5h0.26v0.5zM302.53 120.7v-0.6h0.42v0.6zM302.98 120.7v-1h0.39v1zM303.52 120.7v-0.8h0.34v0.8zM303.92 120.7v-0.5h0.44v0.5zM304.77 120.7v-0.4h0.45v0.4zM305.45 120.7v-1.3h0.48v1.3zM306.24 120.7v-1h0.27v1zM306.69 120.7v-0.5h0.42v0.5zM307.33 120.7v-1h0.49v1zM307.94 120.7v-0.5h0.44v0.5zM308.42 120.7v-1h0.4v1zM309.25 120.7v-0.8h0.58v0.8zM310.23 120.7v-1h0.34v1zM311.04 120.7v-0.3h0.51v0.3zM311.94 120.7v-0.5h0.48v0.5zM312.71 120.7v-1.3h0.29v1.3zM313.23 120.7v-1h0.33v1zM313.83 120.7v-0.5h0.45v0.5zM314.36 120.7v-0.3h0.26v0.3zM314.63 120.7v-1h0.29v1zM315.21 120.7v-0.4h0.53v0.4zM315.24 120.7v-0.4h0.5v0.4zM316.12 120.7v-0.4h0.58v0.4zM316.86 120.7v-0.3h0.45v0.3zM317.43 120.7v-0.6h0.31v0.6zM318.05 120.7v-1h0.51v1zM318.75 120.7v-0.8h0.39v0.8zM319.34 120.7v-1.3h0.28v1.3zM320.11 120.7v-0.5h0.39v0.5zM320.71 120.7v-1.3h0.45v1.3zM321.5 120.7v-1h0.3v1zM321.89 120.7v-1h0.42v1zM322.79 120.7v-0.3h0.46v0.3zM323.31 120.7v-0.6h0.51v0.6zM324.08 120.7v-0.3h0.58v0.3zM325.14 120.7v-0.5h0.35v0.5zM325.79 120.7v-0.8h0.45v0.8zM326.4 120.7v-0.3h0.34v0.3zM326.84 120.7v-0.6h0.45v0.6zM327.53 120.7v-1h0.55v1zM328.43 120.7v-1.3h0.32v1.3zM328.77 120.7v-0.4h0.6v0.4zM329.76 120.7v-0.4h0.56v0.4zM330.77 120.7v-0.5h0.56v0.5zM331.81 120.7v-0.6h0.55v0.6zM332.52 120.7v-1.3h0.3v1.3zM333.27 120.7v-0.3h0.34v0.3zM333.76 120.7v-0.5h0.4v0.5zM334.22 120.7v-0.8h0.34v0.8zM334.74 120.7v-0.5h0.45v0.5zM335.2 120.7v-1h0.37v1zM335.81 120.7v-1.3h0.32v1.3zM336.32 120.7v-0.4h0.44v0.4zM336.8 120.7v-1h0.4v1zM337.66 120.7v-0.5h0.28v0.5zM338.28 120.7v-1h0.38v1zM338.99 120.7v-0.3h0.48v0.3zM339.53 120.7v-0.8h0.58v0.8zM340.38 120.7v-1h0.29v1zM340.85 120.7v-0.5h0.5v0.5zM341.72 120.7v-0.5h0.48v0.5zM342.28 120.7v-0.5h0.56v0.5zM342.91 120.7v-0.6h0.58v0.6zM343.8 120.7v-1h0.48v1zM344.43 120.7v-1h0.32v1zM345.14 120.7v-0.4h0.5v0.4zM346.01 120.7v-0.5h0.44v0.5zM346.63 120.7v-1h0.34v1zM347.41 120.7v-1.3h0.26v1.3zM347.8 120.7v-0.8h0.52v0.8zM348.79 120.7v-0.3h0.41v0.3zM348.89 120.7v-0.4h0.55v0.4zM349.57 120.7v-0.4h0.28v0.4zM350.25 120.7v-0.6h0.5v0.6zM351.03 120.7v-1h0.48v1zM351.81 120.7v-1h0.3v1zM352.39 120.7v-0.6h0.31v0.6zM353.13 120.7v-0.8h0.38v0.8zM353.93 120.7v-1h0.41v1zM354.5 120.7v-0.8h0.57v0.8zM355.55 120.7v-0.8h0.49v0.8zM356.06 120.7v-0.5h0.32v0.5zM356.43 120.7v-0.6h0.51v0.6zM357.03 120.7v-0.6h0.47v0.6zM357.89 120.7v-0.3h0.32v0.3zM358.68 120.7v-0.4h0.58v0.4zM359.4 120.7v-0.6h0.48v0.6zM360.11 120.7v-0.4h0.28v0.4zM360.57 120.7v-0.4h0.33v0.4zM361.17 120.7v-0.8h0.58v0.8zM362.19 120.7v-0.6h0.49v0.6zM363.11 120.7v-0.4h0.46v0.4zM363.94 120.7v-0.3h0.37v0.3zM364.4 120.7v-1h0.55v1zM365.2 120.7v-0.4h0.29v0.4zM365.52 120.7v-0.6h0.32v0.6zM366.09 120.7v-1.3h0.49v1.3zM366.69 120.7v-0.4h0.42v0.4zM367.34 120.7v-1h0.49v1zM368.06 120.7v-0.8h0.26v0.8zM368.75 120.7v-0.8h0.41v0.8zM369.36 120.7v-0.3h0.59v0.3zM370.07 120.7v-0.3h0.38v0.3zM370.72 120.7v-0.4h0.31v0.4zM371.32 120.7v-0.5h0.43v0.5zM371.82 120.7v-1h0.46v1zM372.37 120.7v-1h0.54v1zM373.07 120.7v-0.5h0.26v0.5zM373.46 120.7v-1h0.26v1zM374.17 120.7v-0.6h0.56v0.6zM374.93 120.7v-0.8h0.32v0.8zM375.3 120.7v-1.3h0.57v1.3zM376.27 120.7v-0.3h0.35v0.3zM377.02 120.7v-1h0.59v1zM377.89 120.7v-0.8h0.26v0.8zM378.31 120.7v-1h0.27v1zM378.87 120.7v-0.4h0.25v0.4zM378.86 120.7v-1h0.43v1zM379.38 120.7v-0.8h0.43v0.8zM380.26 120.7v-0.8h0.52v0.8zM381.24 120.7v-0.4h0.58v0.4zM381.97 120.7v-1h0.46v1zM382.9 120.7v-1h0.31v1zM383.47 120.7v-1.3h0.44v1.3zM384 120.7v-0.5h0.51v0.5zM384.93 120.7v-0.6h0.44v0.6zM385.77 120.7v-1h0.4v1zM386.35 120.7v-1.3h0.54v1.3zM387.34 120.7v-1h0.49v1zM387.91 120.7v-0.4h0.5v0.4zM388.46 120.7v-0.5h0.49v0.5zM389.11 120.7v-0.3h0.46v0.3zM390.01 120.7v-1h0.56v1zM391.01 120.7v-0.8h0.51v0.8zM391.52 120.7v-0.3h0.32v0.3zM392.01 120.7v-1h0.36v1zM392.21 120.7v-0.5h0.32v0.5zM393.02 120.7v-0.6h0.58v0.6zM394.09 120.7v-0.8h0.29v0.8zM394.49 120.7v-1h0.45v1zM395.33 120.7v-0.3h0.46v0.3zM398.7 120.7v-1.3h0.41v1.3zM399.13 120.7v-1.3h0.53v1.3zM400.09 120.7v-0.8h0.29v0.8zM400.43 120.7v-0.3h0.39v0.3zM400.88 120.7v-0.5h0.42v0.5zM401.5 120.7v-0.3h0.48v0.3zM402.13 120.7v-1h0.58v1zM402.81 120.7v-1h0.44v1zM403.61 120.7v-0.8h0.28v0.8zM404.13 120.7v-1.3h0.28v1.3zM404.62 120.7v-1.3h0.48v1.3zM405.1 120.7v-0.4h0.37v0.4zM405.59 120.7v-0.8h0.4v0.8zM406.15 120.7v-0.6h0.51v0.6zM407.1 120.7v-1.3h0.6v1.3zM408.16 120.7v-1h0.44v1zM409.07 120.7v-1h0.57v1zM410.09 120.7v-1h0.59v1zM411.14 120.7v-0.4h0.35v0.4zM411.94 120.7v-0.6h0.26v0.6zM412.45 120.7v-1h0.27v1zM412.82 120.7v-1h0.32v1zM413.16 120.7v-0.6h0.41v0.6zM413.65 120.7v-1h0.41v1zM414.09 120.7v-0.3h0.3v0.3zM414.88 120.7v-0.5h0.59v0.5zM415.95 120.7v-1h0.4v1zM416.61 120.7v-0.8h0.44v0.8zM417.19 120.7v-0.8h0.41v0.8zM417.48 120.7v-1.3h0.58v1.3zM418.07 120.7v-0.6h0.47v0.6zM418.55 120.7v-0.4h0.58v0.4zM419.62 120.7v-0.8h0.53v0.8zM420.64 120.7v-0.6h0.26v0.6zM420.91 120.7v-0.8h0.4v0.8zM421.61 120.7v-1h0.53v1zM422.28 120.7v-1h0.49v1zM423.12 120.7v-0.4h0.37v0.4zM423.51 120.7v-0.6h0.6v0.6zM424.23 120.7v-0.3h0.3v0.3zM424.78 120.7v-1.3h0.54v1.3zM425.47 120.7v-0.4h0.31v0.4zM426.1 120.7v-1h0.56v1zM426.92 120.7v-0.3h0.51v0.3zM427.69 120.7v-0.5h0.38v0.5zM428.22 120.7v-0.6h0.28v0.6zM428.55 120.7v-1h0.52v1zM429.21 120.7v-0.8h0.34v0.8zM429.62 120.7v-1.3h0.36v1.3zM429.83 120.7v-0.3h0.55v0.3zM430.84 120.7v-0.4h0.46v0.4zM431.59 120.7v-1h0.44v1zM432.18 120.7v-0.8h0.5v0.8zM432.89 120.7v-0.4h0.28v0.4zM433.41 120.7v-0.3h0.51v0.3zM434.02 120.7v-0.6h0.57v0.6zM435.07 120.7v-0.4h0.39v0.4zM435.56 120.7v-0.8h0.26v0.8zM436.13 120.7v-0.4h0.44v0.4zM436.78 120.7v-0.4h0.39v0.4zM437.29 120.7v-0.4h0.32v0.4zM437.67 120.7v-0.4h0.47v0.4zM438.61 120.7v-0.5h0.59v0.5zM439.42 120.7v-1h0.59v1zM440.16 120.7v-0.6h0.45v0.6zM440.85 120.7v-0.6h0.31v0.6zM441.5 120.7v-1h0.41v1zM441.99 120.7v-0.3h0.27v0.3zM444 120.7v-0.6h0.48v0.6zM444.5 120.7v-1.3h0.59v1.3zM445.28 120.7v-1h0.29v1zM446.06 120.7v-0.6h0.35v0.6zM446.48 120.7v-0.8h0.29v0.8zM446.81 120.7v-0.8h0.32v0.8zM447.62 120.7v-0.8h0.34v0.8zM448.43 120.7v-0.5h0.42v0.5zM449.09 120.7v-1.3h0.51v1.3zM449.88 120.7v-1.3h0.41v1.3zM450.52 120.7v-0.3h0.44v0.3zM451.05 120.7v-0.5h0.46v0.5zM451.66 120.7v-0.6h0.55v0.6zM452.35 120.7v-0.4h0.32v0.4zM454.61 120.7v-0.3h0.39v0.3zM455.06 120.7v-0.3h0.25v0.3zM455.71 120.7v-0.5h0.6v0.5zM456.57 120.7v-0.4h0.52v0.4zM457.36 120.7v-0.6h0.4v0.6zM458.06 120.7v-1.3h0.36v1.3zM458.61 120.7v-0.8h0.36v0.8zM459.36 120.7v-0.8h0.5v0.8zM460.01 120.7v-0.8h0.59v0.8zM460.66 120.7v-0.5h0.43v0.5zM461.45 120.7v-1h0.34v1zM462.01 120.7v-1.3h0.42v1.3zM464.61 120.7v-1h0.43v1zM465.07 120.7v-1.3h0.4v1.3zM465.86 120.7v-0.3h0.27v0.3zM466.32 120.7v-0.8h0.59v0.8zM467.02 120.7v-0.4h0.44v0.4zM467.83 120.7v-1.3h0.39v1.3zM468.22 120.7v-0.8h0.38v0.8zM468.82 120.7v-0.5h0.57v0.5zM469.68 120.7v-0.6h0.3v0.6zM470.17 120.7v-0.6h0.47v0.6zM470.74 120.7v-0.6h0.4v0.6zM471.16 120.7v-0.8h0.51v0.8zM471.88 120.7v-0.5h0.38v0.5zM472.09 120.7v-0.4h0.49v0.4zM473.02 120.7v-1h0.38v1zM473.85 120.7v-0.6h0.35v0.6zM474.61 120.7v-0.4h0.46v0.4zM475.08 120.7v-0.4h0.37v0.4zM476.47 120.7v-0.8h0.31v0.8zM476.98 120.7v-1h0.43v1zM477.73 120.7v-1h0.48v1zM478.26 120.7v-0.5h0.59v0.5zM478.88 120.7v-0.5h0.56v0.5zM479.47 120.7v-1h0.25v1zM480.04 120.7v-0.5h0.28v0.5zM480.52 120.7v-0.6h0.56v0.6zM481.18 120.7v-0.4h0.39v0.4zM481.88 120.7v-1.3h0.26v1.3zM482.26 120.7v-0.6h0.54v0.6zM483.21 120.7v-1.3h0.54v1.3zM483.89 120.7v-0.5h0.59v0.5zM484.6 120.7v-0.8h0.45v0.8zM485.12 120.7v-1.3h0.44v1.3zM485.73 120.7v-1.3h0.52v1.3zM486.35 120.7v-1h0.27v1zM486.94 120.7v-0.3h0.42v0.3zM487.45 120.7v-1h0.29v1zM488.14 120.7v-0.3h0.43v0.3zM488.72 120.7v-0.8h0.51v0.8zM489.36 120.7v-0.5h0.56v0.5zM490.04 120.7v-0.6h0.38v0.6zM490.56 120.7v-0.4h0.37v0.4zM491.29 120.7v-0.8h0.32v0.8zM491.7 120.7v-1h0.31v1zM492.12 120.7v-1.3h0.48v1.3zM492.69 120.7v-1h0.51v1zM493.48 120.7v-0.5h0.46v0.5zM494.16 120.7v-0.3h0.27v0.3zM494.86 120.7v-1.3h0.42v1.3zM495.41 120.7v-0.5h0.56v0.5zM495.49 120.7v-1h0.54v1zM496.23 120.7v-0.3h0.47v0.3zM496.75 120.7v-0.3h0.4v0.3zM497.44 120.7v-1.3h0.29v1.3zM498.16 120.7v-1.3h0.42v1.3zM499 120.7v-1h0.41v1zM499.7 120.7v-0.6h0.54v0.6zM500.29 120.7v-1.3h0.52v1.3zM500.95 120.7v-0.8h0.56v0.8zM501.17 120.7v-0.5h0.39v0.5zM502.03 120.7v-1.3h0.4v1.3zM502.64 120.7v-0.6h0.38v0.6zM503.17 120.7v-0.3h0.32v0.3zM503.84 120.7v-0.6h0.36v0.6zM504.66 120.7v-1.3h0.42v1.3zM505.31 120.7v-1.3h0.57v1.3zM506.06 120.7v-1.3h0.5v1.3zM506.92 120.7v-0.5h0.31v0.5zM508.73 120.7v-0.4h0.44v0.4zM509.61 120.7v-1h0.43v1zM510.07 120.7v-0.8h0.35v0.8zM510.89 120.7v-0.4h0.29v0.4zM511.37 120.7v-0.8h0.3v0.8zM511.8 120.7v-0.6h0.52v0.6zM513.63 120.7v-0.8h0.34v0.8zM514.42 120.7v-0.5h0.28v0.5zM515.08 120.7v-1h0.33v1zM515.89 120.7v-0.3h0.36v0.3zM516.34 120.7v-0.8h0.48v0.8zM516.89 120.7v-1h0.56v1zM516.92 120.7v-1h0.49v1zM517.54 120.7v-1.3h0.44v1.3zM518.05 120.7v-1h0.26v1zM518.42 120.7v-1.3h0.52v1.3zM519.36 120.7v-0.8h0.5v0.8zM519.89 120.7v-0.5h0.44v0.5zM520.43 120.7v-0.5h0.31v0.5zM520.98 120.7v-0.6h0.51v0.6zM521.76 120.7v-1.3h0.48v1.3zM522.37 120.7v-0.4h0.28v0.4zM522.7 120.7v-0.5h0.49v0.5zM523.39 120.7v-0.5h0.41v0.5zM524.02 120.7v-0.3h0.31v0.3zM524.37 120.7v-1h0.49v1zM524.86 120.7v-0.5h0.37v0.5zM525.65 120.7v-0.4h0.38v0.4zM526.22 120.7v-1h0.53v1zM527.06 120.7v-0.6h0.4v0.6zM527.64 120.7v-1h0.33v1zM528.02 120.7v-1.3h0.36v1.3zM528.65 120.7v-0.8h0.46v0.8zM529.12 120.7v-0.8h0.26v0.8zM529.48 120.7v-0.8h0.45v0.8zM530.12 120.7v-0.6h0.56v0.6zM530.98 120.7v-0.3h0.47v0.3z" fill="#4a4aee"/>
<path d="M253.16 126.6v0.5h0.33v-0.5zM253.68 126.6v0.4h0.46v-0.4zM254.17 126.6v0.9h0.25v-0.9zM254.56 126.6v0.9h0.33v-0.9zM255.16 126.6v0.5h0.44v-0.5zM255.72 126.6v0.9h0.3v-0.9zM256.39 126.6v0.5h0.48v-0.5zM257.26 126.6v0.3h0.46v-0.3zM258.12 126.6v0.9h0.34v-0.9zM258.83 126.6v0.4h0.57v-0.4zM259.62 126.6v0.3h0.58v-0.3zM260.22 126.6v0.9h0.42v-0.9zM261.03 126.6v0.4h0.55v-0.4zM261.99 126.6v0.4h0.45v-0.4zM262.65 126.6v0.3h0.33v-0.3zM263.41 126.6v0.5h0.6v-0.5zM266.06 126.6v0.4h0.36v-0.4zM266.71 126.6v0.4h0.5v-0.4zM267.34 126.6v0.9h0.29v-0.9zM267.68 126.6v0.5h0.53v-0.5zM268.22 126.6v0.3h0.4v-0.3zM268.64 126.6v0.9h0.47v-0.9zM269.46 126.6v0.4h0.37v-0.4zM269.95 126.6v0.3h0.26v-0.3zM270.26 126.6v0.9h0.44v-0.9zM270.85 126.6v0.3h0.34v-0.3zM271.68 126.6v0.5h0.37v-0.5zM272.5 126.6v0.4h0.38v-0.4zM273.07 126.6v0.4h0.55v-0.4zM273.68 126.6v0.4h0.59v-0.4zM274.4 126.6v0.5h0.47v-0.5zM275.34 126.6v0.4h0.4v-0.4zM275.53 126.6v0.9h0.37v-0.9zM276.39 126.6v0.4h0.36v-0.4zM277.05 126.6v0.7h0.3v-0.7zM277.58 126.6v0.4h0.49v-0.4zM278.42 126.6v0.4h0.51v-0.4zM278.96 126.6v0.7h0.49v-0.7zM279.76 126.6v0.7h0.35v-0.7zM280.2 126.6v0.7h0.31v-0.7zM280.94 126.6v0.9h0.34v-0.9zM281.33 126.6v0.5h0.53v-0.5zM282.02 126.6v0.7h0.33v-0.7zM282.47 126.6v0.3h0.32v-0.3zM282.84 126.6v0.5h0.36v-0.5zM283.42 126.6v0.3h0.55v-0.3zM284.14 126.6v0.9h0.48v-0.9zM284.75 126.6v0.4h0.53v-0.4zM285.75 126.6v0.4h0.36v-0.4zM286.21 126.6v0.3h0.35v-0.3zM286.96 126.6v0.9h0.37v-0.9zM287.47 126.6v0.9h0.53v-0.9zM288.17 126.6v0.4h0.4v-0.4zM288.77 126.6v0.5h0.57v-0.5zM289.35 126.6v0.4h0.58v-0.4zM290.15 126.6v0.5h0.58v-0.5zM290.75 126.6v0.4h0.41v-0.4zM291.64 126.6v0.3h0.44v-0.3zM292.51 126.6v0.5h0.59v-0.5zM293.12 126.6v0.4h0.57v-0.4zM294.15 126.6v0.4h0.56v-0.4zM294.74 126.6v0.5h0.42v-0.5zM295.41 126.6v0.4h0.33v-0.4zM296.01 126.6v0.3h0.27v-0.3zM296.45 126.6v0.4h0.34v-0.4zM297.02 126.6v0.5h0.52v-0.5zM297.37 126.6v0.3h0.44v-0.3zM297.89 126.6v0.5h0.53v-0.5zM298.83 126.6v0.4h0.25v-0.4zM299.52 126.6v0.5h0.27v-0.5zM299.92 126.6v0.3h0.43v-0.3zM300.59 126.6v0.3h0.52v-0.3zM301.5 126.6v0.3h0.27v-0.3zM302.01 126.6v0.3h0.26v-0.3zM302.53 126.6v0.7h0.42v-0.7zM302.98 126.6v0.4h0.39v-0.4zM303.52 126.6v0.9h0.34v-0.9zM303.92 126.6v0.9h0.44v-0.9zM304.77 126.6v0.7h0.45v-0.7zM305.45 126.6v0.9h0.48v-0.9zM306.24 126.6v0.3h0.27v-0.3zM306.69 126.6v0.7h0.42v-0.7zM307.33 126.6v0.3h0.49v-0.3zM307.94 126.6v0.4h0.44v-0.4zM308.42 126.6v0.5h0.4v-0.5zM309.25 126.6v0.4h0.58v-0.4zM310.23 126.6v0.3h0.34v-0.3zM311.04 126.6v0.4h0.51v-0.4zM311.94 126.6v0.7h0.48v-0.7zM312.71 126.6v0.3h0.29v-0.3zM313.23 126.6v0.3h0.33v-0.3zM313.83 126.6v0.9h0.45v-0.9zM314.36 126.6v0.3h0.26v-0.3zM314.63 126.6v0.7h0.29v-0.7zM315.21 126.6v0.4h0.53v-0.4zM315.24 126.6v0.4h0.5v-0.4zM316.12 126.6v0.4h0.58v-0.4zM316.86 126.6v0.3h0.45v-0.3zM317.43 126.6v0.9h0.31v-0.9zM318.05 126.6v0.7h0.51v-0.7zM318.75 126.6v0.4h0.39v-0.4zM319.34 126.6v0.5h0.28v-0.5zM320.11 126.6v0.5h0.39v-0.5zM320.71 126.6v0.4h0.45v-0.4zM321.5 126.6v0.5h0.3v-0.5zM321.89 126.6v0.4h0.42v-0.4zM322.79 126.6v0.5h0.46v-0.5zM323.31 126.6v0.4h0.51v-0.4zM324.08 126.6v0.4h0.58v-0.4zM325.14 126.6v0.9h0.35v-0.9zM325.79 126.6v0.5h0.45v-0.5zM326.4 126.6v0.9h0.34v-0.9zM326.84 126.6v0.7h0.45v-0.7zM327.53 126.6v0.9h0.55v-0.9zM328.43 126.6v0.4h0.32v-0.4zM328.77 126.6v0.9h0.6v-0.9zM329.76 126.6v0.9h0.56v-0.9zM330.77 126.6v0.3h0.56v-0.3zM331.81 126.6v0.5h0.55v-0.5zM332.52 126.6v0.3h0.3v-0.3zM333.27 126.6v0.3h0.34v-0.3zM333.76 126.6v0.3h0.4v-0.3zM334.22 126.6v0.3h0.34v-0.3zM334.74 126.6v0.7h0.45v-0.7zM335.2 126.6v0.9h0.37v-0.9zM335.81 126.6v0.9h0.32v-0.9zM336.32 126.6v0.7h0.44v-0.7zM336.8 126.6v0.4h0.4v-0.4zM337.66 126.6v0.7h0.28v-0.7zM338.28 126.6v0.7h0.38v-0.7zM338.99 126.6v0.7h0.48v-0.7zM339.53 126.6v0.4h0.58v-0.4zM340.38 126.6v0.4h0.29v-0.4zM340.85 126.6v0.4h0.5v-0.4zM341.72 126.6v0.5h0.48v-0.5zM342.28 126.6v0.9h0.56v-0.9zM342.91 126.6v0.7h0.58v-0.7zM343.8 126.6v0.4h0.48v-0.4zM344.43 126.6v0.7h0.32v-0.7zM345.14 126.6v0.5h0.5v-0.5zM346.01 126.6v0.9h0.44v-0.9zM346.63 126.6v0.3h0.34v-0.3zM347.41 126.6v0.7h0.26v-0.7zM347.8 126.6v0.7h0.52v-0.7zM348.79 126.6v0.3h0.41v-0.3zM348.89 126.6v0.5h0.55v-0.5zM349.57 126.6v0.4h0.28v-0.4zM350.25 126.6v0.5h0.5v-0.5zM351.03 126.6v0.5h0.48v-0.5zM351.81 126.6v0.5h0.3v-0.5zM352.39 126.6v0.5h0.31v-0.5zM353.13 126.6v0.3h0.38v-0.3zM353.93 126.6v0.9h0.41v-0.9zM354.5 126.6v0.9h0.57v-0.9zM355.55 126.6v0.9h0.49v-0.9zM356.06 126.6v0.3h0.32v-0.3zM356.43 126.6v0.9h0.51v-0.9zM357.03 126.6v0.5h0.47v-0.5zM357.89 126.6v0.4h0.32v-0.4zM358.68 126.6v0.4h0.58v-0.4zM359.4 126.6v0.5h0.48v-0.5zM360.11 126.6v0.3h0.28v-0.3zM360.57 126.6v0.9h0.33v-0.9zM361.17 126.6v0.7h0.58v-0.7zM362.19 126.6v0.3h0.49v-0.3zM363.11 126.6v0.3h0.46v-0.3zM363.94 126.6v0.5h0.37v-0.5zM364.4 126.6v0.5h0.55v-0.5zM365.2 126.6v0.9h0.29v-0.9zM365.52 126.6v0.9h0.32v-0.9zM366.09 126.6v0.9h0.49v-0.9zM366.69 126.6v0.9h0.42v-0.9zM367.34 126.6v0.5h0.49v-0.5zM368.06 126.6v0.7h0.26v-0.7zM368.75 126.6v0.4h0.41v-0.4zM369.36 126.6v0.5h0.59v-0.5zM370.07 126.6v0.9h0.38v-0.9zM370.72 126.6v0.5h0.31v-0.5zM371.32 126.6v0.3h0.43v-0.3zM371.82 126.6v0.9h0.46v-0.9zM372.37 126.6v0.9h0.54v-0.9zM373.07 126.6v0.3h0.26v-0.3zM373.46 126.6v0.3h0.26v-0.3zM374.17 126.6v0.3h0.56v-0.3zM374.93 126.6v0.4h0.32v-0.4zM375.3 126.6v0.3h0.57v-0.3zM376.27 126.6v0.9h0.35v-0.9zM377.02 126.6v0.5h0.59v-0.5zM377.89 126.6v0.7h0.26v-0.7zM378.31 126.6v0.3h0.27v-0.3zM378.87 126.6v0.3h0.25v-0.3zM378.86 126.6v0.3h0.43v-0.3zM379.38 126.6v0.5h0.43v-0.5zM380.26 126.6v0.9h0.52v-0.9zM381.24 126.6v0.9h0.58v-0.9zM381.97 126.6v0.3h0.46v-0.3zM382.9 126.6v0.3h0.31v-0.3zM383.47 126.6v0.9h0.44v-0.9zM384 126.6v0.9h0.51v-0.9zM384.93 126.6v0.7h0.44v-0.7zM385.77 126.6v0.9h0.4v-0.9zM386.35 126.6v0.4h0.54v-0.4zM387.34 126.6v0.3h0.49v-0.3zM387.91 126.6v0.9h0.5v-0.9zM388.46 126.6v0.3h0.49v-0.3zM389.11 126.6v0.3h0.46v-0.3zM390.01 126.6v0.9h0.56v-0.9zM391.01 126.6v0.7h0.51v-0.7zM391.52 126.6v0.3h0.32v-0.3zM392.01 126.6v0.3h0.36v-0.3zM392.21 126.6v0.3h0.32v-0.3zM393.02 126.6v0.4h0.58v-0.4zM394.09 126.6v0.5h0.29v-0.5zM394.49 126.6v0.4h0.45v-0.4zM395.33 126.6v0.4h0.46v-0.4zM398.7 126.6v0.3h0.41v-0.3zM399.13 126.6v0.3h0.53v-0.3zM400.09 126.6v0.3h0.29v-0.3zM400.43 126.6v0.4h0.39v-0.4zM400.88 126.6v0.7h0.42v-0.7zM401.5 126.6v0.3h0.48v-0.3zM402.13 126.6v0.9h0.58v-0.9zM402.81 126.6v0.7h0.44v-0.7zM403.61 126.6v0.5h0.28v-0.5zM404.13 126.6v0.7h0.28v-0.7zM404.62 126.6v0.4h0.48v-0.4zM405.1 126.6v0.7h0.37v-0.7zM405.59 126.6v0.5h0.4v-0.5zM406.15 126.6v0.5h0.51v-0.5zM407.1 126.6v0.9h0.6v-0.9zM408.16 126.6v0.7h0.44v-0.7zM409.07 126.6v0.9h0.57v-0.9zM410.09 126.6v0.4h0.59v-0.4zM411.14 126.6v0.5h0.35v-0.5zM411.94 126.6v0.7h0.26v-0.7zM412.45 126.6v0.3h0.27v-0.3zM412.82 126.6v0.9h0.32v-0.9zM413.16 126.6v0.7h0.41v-0.7zM413.65 126.6v0.9h0.41v-0.9zM414.09 126.6v0.7h0.3v-0.7zM414.88 126.6v0.7h0.59v-0.7zM415.95 126.6v0.9h0.4v-0.9zM416.61 126.6v0.7h0.44v-0.7zM417.19 126.6v0.7h0.41v-0.7zM417.48 126.6v0.3h0.58v-0.3zM418.07 126.6v0.4h0.47v-0.4zM418.55 126.6v0.5h0.58v-0.5zM419.62 126.6v0.7h0.53v-0.7zM420.64 126.6v0.5h0.26v-0.5zM420.91 126.6v0.3h0.4v-0.3zM421.61 126.6v0.7h0.53v-0.7zM422.28 126.6v0.9h0.49v-0.9zM423.12 126.6v0.9h0.37v-0.9zM423.51 126.6v0.4h0.6v-0.4zM424.23 126.6v0.9h0.3v-0.9zM424.78 126.6v0.5h0.54v-0.5zM425.47 126.6v0.9h0.31v-0.9zM426.1 126.6v0.9h0.56v-0.9zM426.92 126.6v0.4h0.51v-0.4zM427.69 126.6v0.5h0.38v-0.5zM428.22 126.6v0.4h0.28v-0.4zM428.55 126.6v0.9h0.52v-0.9zM429.21 126.6v0.4h0.34v-0.4zM429.62 126.6v0.3h0.36v-0.3zM429.83 126.6v0.9h0.55v-0.9zM430.84 126.6v0.7h0.46v-0.7zM431.59 126.6v0.5h0.44v-0.5zM432.18 126.6v0.3h0.5v-0.3zM432.89 126.6v0.4h0.28v-0.4zM433.41 126.6v0.9h0.51v-0.9zM434.02 126.6v0.9h0.57v-0.9zM435.07 126.6v0.7h0.39v-0.7zM435.56 126.6v0.7h0.26v-0.7zM436.13 126.6v0.5h0.44v-0.5zM436.78 126.6v0.9h0.39v-0.9zM437.29 126.6v0.4h0.32v-0.4zM437.67 126.6v0.3h0.47v-0.3zM438.61 126.6v0.3h0.59v-0.3zM439.42 126.6v0.7h0.59v-0.7zM440.16 126.6v0.5h0.45v-0.5zM440.85 126.6v0.5h0.31v-0.5zM441.5 126.6v0.3h0.41v-0.3zM441.99 126.6v0.5h0.27v-0.5zM444 126.6v0.5h0.48v-0.5zM444.5 126.6v0.5h0.59v-0.5zM445.28 126.6v0.5h0.29v-0.5zM446.06 126.6v0.3h0.35v-0.3zM446.48 126.6v0.4h0.29v-0.4zM446.81 126.6v0.5h0.32v-0.5zM447.62 126.6v0.4h0.34v-0.4zM448.43 126.6v0.7h0.42v-0.7zM449.09 126.6v0.9h0.51v-0.9zM449.88 126.6v0.7h0.41v-0.7zM450.52 126.6v0.9h0.44v-0.9zM451.05 126.6v0.5h0.46v-0.5zM451.66 126.6v0.7h0.55v-0.7zM452.35 126.6v0.4h0.32v-0.4zM454.61 126.6v0.5h0.39v-0.5zM455.06 126.6v0.3h0.25v-0.3zM455.71 126.6v0.7h0.6v-0.7zM456.57 126.6v0.9h0.52v-0.9zM457.36 126.6v0.4h0.4v-0.4zM458.06 126.6v0.4h0.36v-0.4zM458.61 126.6v0.4h0.36v-0.4zM459.36 126.6v0.7h0.5v-0.7zM460.01 126.6v0.5h0.59v-0.5zM460.66 126.6v0.7h0.43v-0.7zM461.45 126.6v0.7h0.34v-0.7zM462.01 126.6v0.5h0.42v-0.5zM464.61 126.6v0.4h0.43v-0.4zM465.07 126.6v0.4h0.4v-0.4zM465.86 126.6v0.9h0.27v-0.9zM466.32 126.6v0.4h0.59v-0.4zM467.02 126.6v0.9h0.44v-0.9zM467.83 126.6v0.7h0.39v-0.7zM468.22 126.6v0.9h0.38v-0.9zM468.82 126.6v0.3h0.57v-0.3zM469.68 126.6v0.3h0.3v-0.3zM470.17 126.6v0.3h0.47v-0.3zM470.74 126.6v0.3h0.4v-0.3zM471.16 126.6v0.4h0.51v-0.4zM471.88 126.6v0.5h0.38v-0.5zM472.09 126.6v0.4h0.49v-0.4zM473.02 126.6v0.5h0.38v-0.5zM473.85 126.6v0.3h0.35v-0.3zM474.61 126.6v0.9h0.46v-0.9zM475.08 126.6v0.9h0.37v-0.9zM476.47 126.6v0.5h0.31v-0.5zM476.98 126.6v0.4h0.43v-0.4zM477.73 126.6v0.7h0.48v-0.7zM478.26 126.6v0.3h0.59v-0.3zM478.88 126.6v0.7h0.56v-0.7zM479.47 126.6v0.9h0.25v-0.9zM480.04 126.6v0.7h0.28v-0.7zM480.52 126.6v0.7h0.56v-0.7zM481.18 126.6v0.3h0.39v-0.3zM481.88 126.6v0.4h0.26v-0.4zM482.26 126.6v0.5h0.54v-0.5zM483.21 126.6v0.9h0.54v-0.9zM483.89 126.6v0.4h0.59v-0.4zM484.6 126.6v0.4h0.45v-0.4zM485.12 126.6v0.4h0.44v-0.4zM485.73 126.6v0.4h0.52v-0.4zM486.35 126.6v0.7h0.27v-0.7zM486.94 126.6v0.5h0.42v-0.5zM487.45 126.6v0.3h0.29v-0.3zM488.14 126.6v0.5h0.43v-0.5zM488.72 126.6v0.9h0.51v-0.9zM489.36 126.6v0.3h0.56v-0.3zM490.04 126.6v0.5h0.38v-0.5zM490.56 126.6v0.7h0.37v-0.7zM491.29 126.6v0.9h0.32v-0.9zM491.7 126.6v0.5h0.31v-0.5zM492.12 126.6v0.5h0.48v-0.5zM492.69 126.6v0.4h0.51v-0.4zM493.48 126.6v0.7h0.46v-0.7zM494.16 126.6v0.4h0.27v-0.4zM494.86 126.6v0.5h0.42v-0.5zM495.41 126.6v0.9h0.56v-0.9zM495.49 126.6v0.7h0.54v-0.7zM496.23 126.6v0.5h0.47v-0.5zM496.75 126.6v0.5h0.4v-0.5zM497.44 126.6v0.5h0.29v-0.5zM498.16 126.6v0.5h0.42v-0.5zM499 126.6v0.3h0.41v-0.3zM499.7 126.6v0.4h0.54v-0.4zM500.29 126.6v0.4h0.52v-0.4zM500.95 126.6v0.4h0.56v-0.4zM501.17 126.6v0.7h0.39v-0.7zM502.03 126.6v0.7h0.4v-0.7zM502.64 126.6v0.5h0.38v-0.5zM503.17 126.6v0.9h0.32v-0.9zM503.84 126.6v0.7h0.36v-0.7zM504.66 126.6v0.9h0.42v-0.9zM505.31 126.6v0.4h0.57v-0.4zM506.06 126.6v0.9h0.5v-0.9zM506.92 126.6v0.5h0.31v-0.5zM508.73 126.6v0.9h0.44v-0.9zM509.61 126.6v0.7h0.43v-0.7zM510.07 126.6v0.5h0.35v-0.5zM510.89 126.6v0.9h0.29v-0.9zM511.37 126.6v0.5h0.3v-0.5zM511.8 126.6v0.5h0.52v-0.5zM513.63 126.6v0.7h0.34v-0.7zM514.42 126.6v0.5h0.28v-0.5zM515.08 126.6v0.7h0.33v-0.7zM515.89 126.6v0.5h0.36v-0.5zM516.34 126.6v0.4h0.48v-0.4zM516.89 126.6v0.9h0.56v-0.9zM516.92 126.6v0.9h0.49v-0.9zM517.54 126.6v0.9h0.44v-0.9zM518.05 126.6v0.3h0.26v-0.3zM518.42 126.6v0.5h0.52v-0.5zM519.36 126.6v0.7h0.5v-0.7zM519.89 126.6v0.7h0.44v-0.7zM520.43 126.6v0.3h0.31v-0.3zM520.98 126.6v0.3h0.51v-0.3zM521.76 126.6v0.5h0.48v-0.5zM522.37 126.6v0.5h0.28v-0.5zM522.7 126.6v0.4h0.49v-0.4zM523.39 126.6v0.4h0.41v-0.4zM524.02 126.6v0.3h0.31v-0.3zM524.37 126.6v0.5h0.49v-0.5zM524.86 126.6v0.7h0.37v-0.7zM525.65 126.6v0.5h0.38v-0.5zM526.22 126.6v0.7h0.53v-0.7zM527.06 126.6v0.3h0.4v-0.3zM527.64 126.6v0.9h0.33v-0.9zM528.02 126.6v0.3h0.36v-0.3zM528.65 126.6v0.3h0.46v-0.3zM529.12 126.6v0.5h0.26v-0.5zM529.48 126.6v0.4h0.45v-0.4zM530.12 126.6v0.4h0.56v-0.4zM530.98 126.6v0.3h0.47v-0.3z" fill="#f05050"/>
<path d="M253.16 120.7h10.88v4h-10.88zM266.06 120.7h9.5v4h-9.5zM275.53 120.7h21.86v4h-21.86zM297.37 120.7h17.9v4h-17.9zM315.24 120.7h17.3v4h-17.3zM332.52 120.7h16.4v4h-16.4zM348.89 120.7h15.54v4h-15.54zM364.4 120.7h14.48v4h-14.48zM378.86 120.7h13.37v4h-13.37zM392.21 120.7h3.68v4h-3.68zM398.7 120.7h6.42v4h-6.42zM405.1 120.7h12.41v4h-12.41zM417.48 120.7h12.37v4h-12.37zM429.83 120.7h12.27v4h-12.27zM444 120.7h8.7v4h-8.7zM454.61 120.7h8.01v4h-8.01zM464.61 120.7h7.5v4h-7.5zM472.09 120.7h3.33v4h-3.33zM476.47 120.7h4.06v4h-4.06zM480.52 120.7h7.65v4h-7.65zM488.14 120.7h7.37v4h-7.37zM495.49 120.7h5.71v4h-5.71zM501.17 120.7h6.05v4h-6.05zM508.73 120.7h3.21v4h-3.21zM513.63 120.7h3.31v4h-3.31zM516.92 120.7h14.15v4h-14.15z" fill="#1818ea"/>
<path d="M253.16 124.7h10.88v1.9h-10.88zM266.06 124.7h9.5v1.9h-9.5zM275.53 124.7h21.86v1.9h-21.86zM297.37 124.7h17.9v1.9h-17.9zM315.24 124.7h17.3v1.9h-17.3zM332.52 124.7h16.4v1.9h-16.4zM348.89 124.7h15.54v1.9h-15.54zM364.4 124.7h14.48v1.9h-14.48zM378.86 124.7h13.37v1.9h-13.37zM392.21 124.7h3.68v1.9h-3.68zM398.7 124.7h6.42v1.9h-6.42zM405.1 124.7h12.41v1.9h-12.41zM417.48 124.7h12.37v1.9h-12.37zM429.83 124.7h12.27v1.9h-12.27zM444 124.7h8.7v1.9h-8.7zM454.61 124.7h8.01v1.9h-8.01zM464.61 124.7h7.5v1.9h-7.5zM472.09 124.7h3.33v1.9h-3.33zM476.47 124.7h4.06v1.9h-4.06zM480.52 124.7h7.65v1.9h-7.65zM488.14 124.7h7.37v1.9h-7.37zM495.49 124.7h5.71v1.9h-5.71zM501.17 124.7h6.05v1.9h-6.05zM508.73 124.7h3.21v1.9h-3.21zM513.63 124.7h3.31v1.9h-3.31zM516.92 124.7h14.15v1.9h-14.15z" fill="#ee1414"/>
<path d="M467.36 126.6v2M416.38 126.6v2.5M467.53 126.6v4M481.97 126.6v5M487.9 126.6v2M306.31 126.6v8M388.64 126.6v6M253.67 126.6v8M501.46 126.6v10M479.53 126.6v1.5M438.02 126.6v4M476.25 126.6v4M337.68 126.6v2M452.08 126.6v1.5M331.68 126.6v3M380.19 126.6v6M486.11 126.6v10M342.79 126.6v2M513.53 126.6v10M264.27 126.6v5M514.43 126.6v2M459.22 126.6v5M493.76 126.6v6M465.95 126.6v1.5M421.37 126.6v4M478.28 126.6v3M431.23 126.6v4M479.94 126.6v8M374.71 126.6v1.5M513.26 126.6v1.5M503.66 126.6v6M353.94 126.6v2.5M484 126.6v6M458.26 126.6v5M446.69 126.6v1.5M438.7 126.6v6M440.71 126.6v6M398.98 126.6v2.5M390.42 126.6v1.5M509.2 126.6v2M505.67 126.6v8M475.35 126.6v10M491.37 126.6v3M475.48 126.6v10M519.38 126.6v1.5M372.57 126.6v2M339.07 126.6v10M317.55 126.6v3M411.89 126.6v2.5M457.04 126.6v2.5M352.39 126.6v6M474.85 126.6v8M487.39 126.6v4M488.52 126.6v5M424.29 126.6v3M320.23 126.6v2M377.06 126.6v3M390.33 126.6v5M388.62 126.6v2M424.36 126.6v3M489.82 126.6v6M264.52 126.6v4M391.12 126.6v4M496.12 126.6v4M432.48 126.6v2.5M441.47 126.6v3M509.81 126.6v2M466.7 126.6v1.5M494.6 126.6v4M497.25 126.6v10M370.96 126.6v3M409.51 126.6v2M322.58 126.6v6M521.88 126.6v3M401.73 126.6v2M257.21 126.6v5M437.14 126.6v3M418.31 126.6v5M504.44 126.6v6M424.33 126.6v1.5M475.86 126.6v8M356.4 126.6v2M354.7 126.6v8M397.21 126.6v10M376.48 126.6v6M475.22 126.6v5M273.85 126.6v5M476.83 126.6v10M462.95 126.6v2M521.33 126.6v3M489.19 126.6v2.5M360.22 126.6v4M418.67 126.6v10M271.77 126.6v5M274.85 126.6v1.5M444 126.6v10M465.99 126.6v8M275.27 126.6v6M509.78 126.6v2M330.45 126.6v2M512.56 126.6v2M393.5 126.6v5M270.91 126.6v1.5M523.18 126.6v2M487.11 126.6v3M426.09 126.6v4M426.02 126.6v1.5M374.47 126.6v1.5M375.2 126.6v6M343.91 126.6v5M257.45 126.6v7M257.16 126.6v6M254.92 126.6v8M261.3 126.6v5M260.85 126.6v5M254.44 126.6v9M255.15 126.6v5M257.39 126.6v6M255.78 126.6v8M258.19 126.6v5M256.56 126.6v9M259.96 126.6v4M256.23 126.6v3M255.31 126.6v6M400.34 126.6v7M398.14 126.6v7M397.95 126.6v4M401.87 126.6v8M397.31 126.6v7M400.37 126.6v6M402.08 126.6v8M399.63 126.6v7M399.78 126.6v7M396.51 126.6v6M398.78 126.6v8M398.43 126.6v9M400.44 126.6v9M400.78 126.6v5M395.2 126.6v8M395.08 126.6v6M304.7 126.6v6M304.27 126.6v4M305.13 126.6v8M300.8 126.6v7M305.44 126.6v5M482 126.6v4M487.62 126.6v8M487.74 126.6v6M486.05 126.6v3M483.74 126.6v8" stroke="#e85a5a" stroke-width="0.35" fill="none"/>
<path d="M376.01 121v-4M315.53 121v-2.5M411.17 121v-1M508.81 121v-2M358.54 121v-3M498.33 121v-3M475.07 121v-1M372.38 121v-2M488.91 121v-1M349.72 121v-1.5M418.86 121v-2M500.03 121v-2.5M524.11 121v-3M276.03 121v-3M387.84 121v-2M341.84 121v-3M383.61 121v-2M497.7 121v-2.5M459.25 121v-2.5M285.68 121v-2.5M273.8 121v-4M501.88 121v-2M455.82 121v-1M257.37 121v-1M459.95 121v-2.5M529.14 121v-1.5M512.53 121v-2.5M296.03 121v-2M355.6 121v-4M440.42 121v-4M273.73 121v-4M503.41 121v-3M388.74 121v-2.5M438.24 121v-2M502.31 121v-2M258.78 121v-1.5M474.44 121v-1.5M500.28 121v-3M500.02 121v-2.5M360.43 121v-2.5M404.75 121v-3M443.27 121v-2.5M507.91 121v-4M497.63 121v-2M396.22 121v-4M515.09 121v-4M493.7 121v-1.5M508.91 121v-1M417.08 121v-2M505.63 121v-2M367.36 121v-4M448.93 121v-1.5M510.5 121v-3M383.92 121v-3M398.03 121v-4M331.99 121v-1M484.85 121v-1M516.13 121v-2.5M296.16 121v-3M492.4 121v-2M412.72 121v-1.5M481.72 121v-1.5M478.45 121v-4M444.97 121v-1.5M359.3 121v-3M473.01 121v-2M275.04 121v-4M479.26 121v-3M457.02 121v-1M503.6 121v-2.5M409.58 121v-3M450.98 121v-2.5M365.65 121v-2M469.79 121v-1M399.21 121v-1.5M498.55 121v-2M510.95 121v-3M515 121v-2M453.4 121v-1M495.76 121v-1.5M502.68 121v-1M369.62 121v-3M300.57 121v-3M463.07 121v-1M420.2 121v-2.5M380.52 121v-1M518.1 121v-4M413.36 121v-1.5M355.83 121v-1M521.95 121v-2.5M485.47 121v-1.5M382.02 121v-2.5M397.48 121v-4M294.66 121v-1.5M503.1 121v-4M440.42 121v-4M351.54 121v-3M263.24 121v-1.5M329.87 121v-1.5M494.95 121v-2M520.06 121v-2.5M259.86 121v-2.5M385.57 121v-1.5M322.31 121v-3M510.59 121v-1.5M387.62 121v-3M393.68 121v-2.5M453.19 121v-2.5M329.47 121v-3M461.11 121v-1.5M298.96 121v-2.5M271.16 121v-1.5M383.28 121v-3M423.32 121v-4M465.48 121v-1M437.05 121v-1M274.01 121v-2M277.25 121v-2M315.96 121v-2M515.37 121v-2.5" stroke="#8080f0" stroke-width="0.3" fill="none"/>
<line x1="265.9" y1="89.5" x2="265.9" y2="121" stroke="#5050f0" stroke-width="0.6"/>
<line x1="283.3" y1="96" x2="283.3" y2="101" stroke="#9999f0" stroke-width="0.4"/>
<line x1="354.5" y1="112.7" x2="354.5" y2="121" stroke="#8080f0" stroke-width="0.4"/>
<line x1="380.4" y1="113" x2="380.4" y2="121" stroke="#9090f0" stroke-width="0.4"/>
<line x1="396.6" y1="106.6" x2="396.6" y2="121" stroke="#8080f0" stroke-width="0.5"/>
<line x1="473.6" y1="110" x2="473.6" y2="121" stroke="#9090f0" stroke-width="0.4"/>
<line x1="429.6" y1="113.5" x2="429.6" y2="121" stroke="#2020e8" stroke-width="1.2"/>
<line x1="513.6" y1="110" x2="513.6" y2="121" stroke="#3030e8" stroke-width="1.0"/>
<line x1="266" y1="127" x2="266" y2="137" stroke="#f06060" stroke-width="0.5"/>
<line x1="397" y1="127" x2="397" y2="137" stroke="#f06060" stroke-width="0.5"/>
<line x1="429.8" y1="86" x2="429.8" y2="113" stroke="#a8a8f4" stroke-width="0.5"/>
<line x1="513.4" y1="98.6" x2="513.4" y2="110" stroke="#a8a8f4" stroke-width="0.5"/>
<line x1="507.5" y1="95" x2="507.5" y2="121" stroke="#b0b0f4" stroke-width="0.4"/>
<line x1="475.5" y1="108" x2="475.5" y2="121" stroke="#9a9af2" stroke-width="0.5"/>
<line x1="396.2" y1="106" x2="396.2" y2="121" stroke="#9a9af2" stroke-width="0.5"/>
<line x1="398" y1="127" x2="398" y2="134" stroke="#f07070" stroke-width="1.2"/>
<line x1="400" y1="127" x2="400" y2="132" stroke="#f08080" stroke-width="0.8"/>
<text x="253.72" y="87.2" transform="rotate(-32 253.72 87.2)" text-anchor="end" style="font-size:2.7px;fill:#333">chr1</text>
<text x="267.39" y="87.2" transform="rotate(-32 267.39 87.2)" text-anchor="end" style="font-size:2.7px;fill:#333">1q11</text>
<text x="264.36" y="142.8" text-anchor="middle" style="font-size:2.3px;fill:#555">1</text>
<text x="276.09" y="87.2" transform="rotate(-32 276.09 87.2)" text-anchor="end" style="font-size:2.7px;fill:#333">chr2</text>
<text x="286.98" y="87.2" transform="rotate(-32 286.98 87.2)" text-anchor="end" style="font-size:2.7px;fill:#333">2q11</text>
<text x="286.46" y="142.8" text-anchor="middle" style="font-size:2.3px;fill:#555">2</text>
<text x="297.93" y="87.2" transform="rotate(-32 297.93 87.2)" text-anchor="end" style="font-size:2.7px;fill:#333">chr3</text>
<text x="308.62" y="87.2" transform="rotate(-32 308.62 87.2)" text-anchor="end" style="font-size:2.7px;fill:#333">3q11</text>
<text x="306.32" y="142.8" text-anchor="middle" style="font-size:2.3px;fill:#555">3</text>
<text x="315.8" y="87.2" transform="rotate(-32 315.8 87.2)" text-anchor="end" style="font-size:2.7px;fill:#333">chr4</text>
<text x="322.93" y="87.2" transform="rotate(-32 322.93 87.2)" text-anchor="end" style="font-size:2.7px;fill:#333">4q11</text>
<text x="323.89" y="142.8" text-anchor="middle" style="font-size:2.3px;fill:#555">4</text>
<text x="333.08" y="87.2" transform="rotate(-32 333.08 87.2)" text-anchor="end" style="font-size:2.7px;fill:#333">chr5</text>
<text x="340.02" y="87.2" transform="rotate(-32 340.02 87.2)" text-anchor="end" style="font-size:2.7px;fill:#333">5q11</text>
<text x="340.72" y="142.8" text-anchor="middle" style="font-size:2.3px;fill:#555">5</text>
<text x="349.45" y="87.2" transform="rotate(-32 349.45 87.2)" text-anchor="end" style="font-size:2.7px;fill:#333">chr6</text>
<text x="357.5" y="87.2" transform="rotate(-32 357.5 87.2)" text-anchor="end" style="font-size:2.7px;fill:#333">6q11</text>
<text x="356.66" y="142.8" text-anchor="middle" style="font-size:2.3px;fill:#555">6</text>
<text x="364.96" y="87.2" transform="rotate(-32 364.96 87.2)" text-anchor="end" style="font-size:2.7px;fill:#333">chr7</text>
<text x="372.92" y="87.2" transform="rotate(-32 372.92 87.2)" text-anchor="end" style="font-size:2.7px;fill:#333">7q11</text>
<text x="371.64" y="142.8" text-anchor="middle" style="font-size:2.3px;fill:#555">7</text>
<text x="379.42" y="87.2" transform="rotate(-32 379.42 87.2)" text-anchor="end" style="font-size:2.7px;fill:#333">chr8</text>
<text x="386.12" y="87.2" transform="rotate(-32 386.12 87.2)" text-anchor="end" style="font-size:2.7px;fill:#333">8q11</text>
<text x="385.55" y="142.8" text-anchor="middle" style="font-size:2.3px;fill:#555">8</text>
<text x="392.77" y="87.2" transform="rotate(-32 392.77 87.2)" text-anchor="end" style="font-size:2.7px;fill:#333">chr9</text>
<text x="399.77" y="87.2" transform="rotate(-32 399.77 87.2)" text-anchor="end" style="font-size:2.7px;fill:#333">9q11</text>
<text x="398.66" y="142.8" text-anchor="middle" style="font-size:2.3px;fill:#555">9</text>
<text x="405.66" y="87.2" transform="rotate(-32 405.66 87.2)" text-anchor="end" style="font-size:2.7px;fill:#333">chr10</text>
<text x="411.88" y="87.2" transform="rotate(-32 411.88 87.2)" text-anchor="end" style="font-size:2.7px;fill:#333">10q11</text>
<text x="411.3" y="142.8" text-anchor="middle" style="font-size:2.3px;fill:#555">10</text>
<text x="418.04" y="87.2" transform="rotate(-32 418.04 87.2)" text-anchor="end" style="font-size:2.7px;fill:#333">chr11</text>
<text x="425.46" y="87.2" transform="rotate(-32 425.46 87.2)" text-anchor="end" style="font-size:2.7px;fill:#333">11q11</text>
<text x="423.67" y="142.8" text-anchor="middle" style="font-size:2.3px;fill:#555">11</text>
<text x="430.39" y="87.2" transform="rotate(-32 430.39 87.2)" text-anchor="end" style="font-size:2.7px;fill:#333">chr12</text>
<text x="436.23" y="87.2" transform="rotate(-32 436.23 87.2)" text-anchor="end" style="font-size:2.7px;fill:#333">12q11</text>
<text x="435.96" y="142.8" text-anchor="middle" style="font-size:2.3px;fill:#555">12</text>
<text x="442.63" y="87.2" transform="rotate(-32 442.63 87.2)" text-anchor="end" style="font-size:2.7px;fill:#333">chr13</text>
<text x="447.39" y="142.8" text-anchor="middle" style="font-size:2.3px;fill:#555">13</text>
<text x="453.24" y="87.2" transform="rotate(-32 453.24 87.2)" text-anchor="end" style="font-size:2.7px;fill:#333">chr14</text>
<text x="457.65" y="142.8" text-anchor="middle" style="font-size:2.3px;fill:#555">14</text>
<text x="463.16" y="87.2" transform="rotate(-32 463.16 87.2)" text-anchor="end" style="font-size:2.7px;fill:#333">chr15</text>
<text x="467.36" y="142.8" text-anchor="middle" style="font-size:2.3px;fill:#555">15</text>
<text x="472.65" y="87.2" transform="rotate(-32 472.65 87.2)" text-anchor="end" style="font-size:2.7px;fill:#333">chr16</text>
<text x="476.31" y="142.8" text-anchor="middle" style="font-size:2.3px;fill:#555">16</text>
<text x="481.08" y="87.2" transform="rotate(-32 481.08 87.2)" text-anchor="end" style="font-size:2.7px;fill:#333">chr17</text>
<text x="484.34" y="142.8" text-anchor="middle" style="font-size:2.3px;fill:#555">17</text>
<text x="488.7" y="87.2" transform="rotate(-32 488.7 87.2)" text-anchor="end" style="font-size:2.7px;fill:#333">chr18</text>
<text x="491.83" y="142.8" text-anchor="middle" style="font-size:2.3px;fill:#555">18</text>
<text x="496.05" y="87.2" transform="rotate(-32 496.05 87.2)" text-anchor="end" style="font-size:2.7px;fill:#333">chr19</text>
<text x="498.34" y="142.8" text-anchor="middle" style="font-size:2.3px;fill:#555">19</text>
<text x="501.73" y="87.2" transform="rotate(-32 501.73 87.2)" text-anchor="end" style="font-size:2.7px;fill:#333">chr20</text>
<text x="504.2" y="142.8" text-anchor="middle" style="font-size:2.3px;fill:#555">20</text>
<text x="507.76" y="87.2" transform="rotate(-32 507.76 87.2)" text-anchor="end" style="font-size:2.7px;fill:#333">chr21</text>
<text x="509.57" y="142.8" text-anchor="middle" style="font-size:2.3px;fill:#555">21</text>
<text x="512.48" y="87.2" transform="rotate(-32 512.48 87.2)" text-anchor="end" style="font-size:2.7px;fill:#333">chr22</text>
<text x="514.43" y="142.8" text-anchor="middle" style="font-size:2.3px;fill:#555">22</text>
<text x="517.48" y="87.2" transform="rotate(-32 517.48 87.2)" text-anchor="end" style="font-size:2.7px;fill:#333">chrX</text>
<text x="525.5" y="87.2" transform="rotate(-32 525.5 87.2)" text-anchor="end" style="font-size:2.7px;fill:#333">Xq11</text>
<text x="523.99" y="142.8" text-anchor="middle" style="font-size:2.3px;fill:#555">X</text>
<text x="531.6" y="87.2" transform="rotate(-32 531.6 87.2)" text-anchor="end" style="font-size:2.7px;fill:#333">chrY</text>
<text x="533.91" y="142.8" text-anchor="middle" style="font-size:2.3px;fill:#555">Y</text>
<text x="246" y="141.2" text-anchor="middle" style="font-size:2.5px;fill:#444">Aneuploidy</text>
<text x="392" y="151.3" text-anchor="middle" style="font-size:3.4px;fill:#333" textLength="26" lengthAdjust="spacingAndGlyphs">Chromosomes</text>
<text x="0" y="0" transform="translate(230.6 111.6) rotate(-90)" text-anchor="middle" style="font-size:3.8px;fill:#333" textLength="25" lengthAdjust="spacingAndGlyphs">Copy Number</text>
<rect x="417.74" y="144.3" width="11.85" height="1.4" fill="#2020d4"/>
<rect x="512.18" y="144.3" width="4.5" height="1.4" fill="#2020d4"/>
<line x1="413.6" y1="99.3" x2="425.04" y2="110.2" stroke="#000" stroke-width="1.45"/>
<path d="M428.3 113.3L422.89 111.73L426.47 107.97z" fill="#000"/>
<line x1="527.9" y1="100.3" x2="517.88" y2="109.72" stroke="#000" stroke-width="1.45"/>
<path d="M514.6 112.8L516.46 107.48L520.02 111.27z" fill="#000"/>
<line x1="85.3" y1="75.3" x2="215" y2="38.2" stroke="#d08aa8" stroke-width="0.55"/>
<line x1="330" y1="322.7" x2="441.8" y2="277.9" stroke="#d08aa8" stroke-width="0.55"/>
<line x1="75.1" y1="153.7" x2="214.6" y2="116.4" stroke="#5252e6" stroke-width="0.95"/>
<line x1="76.9" y1="57.4" x2="214.6" y2="116.4" stroke="#5252e6" stroke-width="0.95"/>
<circle cx="73.3" cy="56.6" r="3.5" fill="none" stroke="#4a4ae4" stroke-width="1.1"/>
<circle cx="72.2" cy="156.5" r="3.6" fill="none" stroke="#4a4ae4" stroke-width="1.1"/>
</svg>
</body></html>
